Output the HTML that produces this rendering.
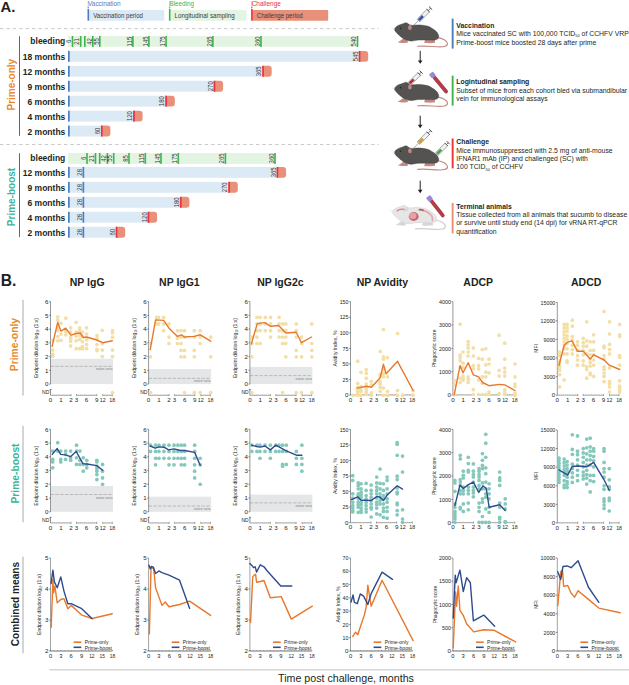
<!DOCTYPE html>
<html><head><meta charset="utf-8"><title>Figure</title>
<style>html,body{margin:0;padding:0;background:#fff;} body{width:629px;height:685px;overflow:hidden;font-family:"Liberation Sans",sans-serif;} svg{display:block;}</style>
</head><body>
<svg width="629" height="685" viewBox="0 0 629 685" font-family="Liberation Sans, sans-serif"><text x="0.60" y="11.90" font-size="14.8" fill="#231f20" font-weight="bold" text-anchor="start">A.</text>
<text x="88.10" y="6.00" font-size="6.6" fill="#4a7ec4" font-weight="normal" text-anchor="start" textLength="32.5" lengthAdjust="spacingAndGlyphs">Vaccination</text>
<line x1="88.25" y1="1.20" x2="88.25" y2="7.60" stroke="#4a7ec4" stroke-width="0.45"/>
<path d="M87.30,7.3 L89.20,7.3 L88.25,8.6 Z" fill="#4a7ec4"/>
<rect x="88.50" y="9.90" width="75.80" height="10.80" fill="#dceaf6" rx="1.2"/>
<rect x="87.50" y="8.90" width="1.60" height="11.80" fill="#4a7ec4"/>
<text x="93.20" y="17.60" font-size="6.9" fill="#3a3a3a" font-weight="normal" text-anchor="start" textLength="49.8" lengthAdjust="spacingAndGlyphs">Vaccination period</text>
<text x="169.50" y="6.00" font-size="6.6" fill="#3db54a" font-weight="normal" text-anchor="start" textLength="24.5" lengthAdjust="spacingAndGlyphs">Bleeding</text>
<line x1="169.65" y1="1.20" x2="169.65" y2="7.60" stroke="#3db54a" stroke-width="0.45"/>
<path d="M168.70,7.3 L170.60,7.3 L169.65,8.6 Z" fill="#3db54a"/>
<rect x="169.90" y="9.90" width="76.60" height="10.80" fill="#e4f4e3" rx="1.2"/>
<rect x="168.90" y="8.90" width="1.60" height="11.80" fill="#3db54a"/>
<text x="174.60" y="17.60" font-size="6.9" fill="#3a3a3a" font-weight="normal" text-anchor="start" textLength="60.2" lengthAdjust="spacingAndGlyphs">Longitudinal sampling</text>
<text x="251.70" y="6.00" font-size="6.6" fill="#e8323c" font-weight="normal" text-anchor="start" textLength="29.2" lengthAdjust="spacingAndGlyphs">Challenge</text>
<line x1="251.85" y1="1.20" x2="251.85" y2="7.60" stroke="#e8323c" stroke-width="0.45"/>
<path d="M250.90,7.3 L252.80,7.3 L251.85,8.6 Z" fill="#e8323c"/>
<rect x="252.10" y="9.90" width="76.10" height="10.80" fill="#e8907a" rx="1.2"/>
<rect x="251.10" y="8.90" width="1.60" height="11.80" fill="#e8323c"/>
<text x="256.80" y="17.60" font-size="6.9" fill="#3a3a3a" font-weight="normal" text-anchor="start" textLength="45.8" lengthAdjust="spacingAndGlyphs">Challenge period</text>
<line x1="0.00" y1="28.60" x2="378.70" y2="28.60" stroke="#c4c4c4" stroke-width="0.9" stroke-dasharray="3.4,3"/>
<line x1="0.00" y1="144.50" x2="378.70" y2="144.50" stroke="#c4c4c4" stroke-width="0.9" stroke-dasharray="3.4,3"/>
<rect x="68.00" y="36.00" width="290.50" height="10.90" fill="#e4f4e3"/>
<rect x="71.70" y="36.00" width="1.60" height="10.90" fill="#3db54a"/>
<text x="71.30" y="41.45" font-size="6.3" fill="#3a3a3a" font-weight="normal" text-anchor="middle" transform="rotate(-90 71.3 41.45)" textLength="3.3" lengthAdjust="spacingAndGlyphs">6</text>
<rect x="79.90" y="36.00" width="1.60" height="10.90" fill="#3db54a"/>
<text x="79.50" y="41.45" font-size="6.3" fill="#3a3a3a" font-weight="normal" text-anchor="middle" transform="rotate(-90 79.5 41.45)" textLength="6.6" lengthAdjust="spacingAndGlyphs">21</text>
<rect x="84.00" y="36.00" width="1.60" height="10.90" fill="#3db54a"/>
<rect x="92.00" y="36.00" width="1.60" height="10.90" fill="#3db54a"/>
<text x="91.60" y="41.45" font-size="6.3" fill="#3a3a3a" font-weight="normal" text-anchor="middle" transform="rotate(-90 91.6 41.45)" textLength="6.6" lengthAdjust="spacingAndGlyphs">42</text>
<rect x="99.00" y="36.00" width="1.60" height="10.90" fill="#3db54a"/>
<text x="98.60" y="41.45" font-size="6.3" fill="#3a3a3a" font-weight="normal" text-anchor="middle" transform="rotate(-90 98.6 41.45)" textLength="6.6" lengthAdjust="spacingAndGlyphs">55</text>
<rect x="132.10" y="36.00" width="1.60" height="10.90" fill="#3db54a"/>
<text x="131.70" y="41.45" font-size="6.3" fill="#3a3a3a" font-weight="normal" text-anchor="middle" transform="rotate(-90 131.70000000000002 41.45)" textLength="9.9" lengthAdjust="spacingAndGlyphs">115</text>
<rect x="148.10" y="36.00" width="1.60" height="10.90" fill="#3db54a"/>
<text x="147.70" y="41.45" font-size="6.3" fill="#3a3a3a" font-weight="normal" text-anchor="middle" transform="rotate(-90 147.70000000000002 41.45)" textLength="9.9" lengthAdjust="spacingAndGlyphs">145</text>
<rect x="165.30" y="36.00" width="1.60" height="10.90" fill="#3db54a"/>
<text x="164.90" y="41.45" font-size="6.3" fill="#3a3a3a" font-weight="normal" text-anchor="middle" transform="rotate(-90 164.9 41.45)" textLength="9.9" lengthAdjust="spacingAndGlyphs">175</text>
<rect x="212.10" y="36.00" width="1.60" height="10.90" fill="#3db54a"/>
<text x="211.70" y="41.45" font-size="6.3" fill="#3a3a3a" font-weight="normal" text-anchor="middle" transform="rotate(-90 211.70000000000002 41.45)" textLength="9.9" lengthAdjust="spacingAndGlyphs">265</text>
<rect x="260.20" y="36.00" width="1.60" height="10.90" fill="#3db54a"/>
<text x="259.80" y="41.45" font-size="6.3" fill="#3a3a3a" font-weight="normal" text-anchor="middle" transform="rotate(-90 259.8 41.45)" textLength="9.9" lengthAdjust="spacingAndGlyphs">360</text>
<rect x="356.70" y="36.00" width="1.60" height="10.90" fill="#3db54a"/>
<text x="356.30" y="41.45" font-size="6.3" fill="#3a3a3a" font-weight="normal" text-anchor="middle" transform="rotate(-90 356.3 41.45)" textLength="9.9" lengthAdjust="spacingAndGlyphs">540</text>
<text x="65.30" y="44.20" font-size="8.5" fill="#231f20" font-weight="bold" text-anchor="end">bleeding</text>
<rect x="68.00" y="50.90" width="290.90" height="10.90" fill="#dceaf6"/>
<path d="M358.90,50.90 h6.3 a3,3 0 0 1 3,3 v4.90 a3,3 0 0 1 -3,3 h-6.3 z" fill="#e8907a"/>
<rect x="358.70" y="50.90" width="1.70" height="10.90" fill="#e8323c"/>
<rect x="68.00" y="50.90" width="1.70" height="10.90" fill="#4a7ec4"/>
<text x="357.70" y="56.35" font-size="6.3" fill="#3a3a3a" font-weight="normal" text-anchor="middle" transform="rotate(-90 357.7 56.35)" textLength="9.9" lengthAdjust="spacingAndGlyphs">545</text>
<text x="65.30" y="60.20" font-size="8.5" fill="#231f20" font-weight="bold" text-anchor="end">18 months</text>
<rect x="68.00" y="65.84" width="194.40" height="10.90" fill="#dceaf6"/>
<path d="M262.40,65.84 h6.3 a3,3 0 0 1 3,3 v4.90 a3,3 0 0 1 -3,3 h-6.3 z" fill="#e8907a"/>
<rect x="262.20" y="65.84" width="1.70" height="10.90" fill="#e8323c"/>
<rect x="68.00" y="65.84" width="1.70" height="10.90" fill="#4a7ec4"/>
<text x="261.20" y="71.29" font-size="6.3" fill="#3a3a3a" font-weight="normal" text-anchor="middle" transform="rotate(-90 261.2 71.29)" textLength="9.9" lengthAdjust="spacingAndGlyphs">365</text>
<text x="65.30" y="75.14" font-size="8.5" fill="#231f20" font-weight="bold" text-anchor="end">12 months</text>
<rect x="68.00" y="80.78" width="145.80" height="10.90" fill="#dceaf6"/>
<path d="M213.80,80.78 h6.3 a3,3 0 0 1 3,3 v4.90 a3,3 0 0 1 -3,3 h-6.3 z" fill="#e8907a"/>
<rect x="213.60" y="80.78" width="1.70" height="10.90" fill="#e8323c"/>
<rect x="68.00" y="80.78" width="1.70" height="10.90" fill="#4a7ec4"/>
<text x="212.60" y="86.23" font-size="6.3" fill="#3a3a3a" font-weight="normal" text-anchor="middle" transform="rotate(-90 212.60000000000002 86.23)" textLength="9.9" lengthAdjust="spacingAndGlyphs">270</text>
<text x="65.30" y="90.08" font-size="8.5" fill="#231f20" font-weight="bold" text-anchor="end">9 months</text>
<rect x="68.00" y="95.72" width="97.50" height="10.90" fill="#dceaf6"/>
<path d="M165.50,95.72 h6.3 a3,3 0 0 1 3,3 v4.90 a3,3 0 0 1 -3,3 h-6.3 z" fill="#e8907a"/>
<rect x="165.30" y="95.72" width="1.70" height="10.90" fill="#e8323c"/>
<rect x="68.00" y="95.72" width="1.70" height="10.90" fill="#4a7ec4"/>
<text x="164.30" y="101.17" font-size="6.3" fill="#3a3a3a" font-weight="normal" text-anchor="middle" transform="rotate(-90 164.3 101.17)" textLength="9.9" lengthAdjust="spacingAndGlyphs">180</text>
<text x="65.30" y="105.02" font-size="8.5" fill="#231f20" font-weight="bold" text-anchor="end">6 months</text>
<rect x="68.00" y="110.66" width="65.30" height="10.90" fill="#dceaf6"/>
<path d="M133.30,110.66 h6.3 a3,3 0 0 1 3,3 v4.90 a3,3 0 0 1 -3,3 h-6.3 z" fill="#e8907a"/>
<rect x="133.10" y="110.66" width="1.70" height="10.90" fill="#e8323c"/>
<rect x="68.00" y="110.66" width="1.70" height="10.90" fill="#4a7ec4"/>
<text x="132.10" y="116.11" font-size="6.3" fill="#3a3a3a" font-weight="normal" text-anchor="middle" transform="rotate(-90 132.10000000000002 116.11)" textLength="9.9" lengthAdjust="spacingAndGlyphs">120</text>
<text x="65.30" y="119.96" font-size="8.5" fill="#231f20" font-weight="bold" text-anchor="end">4 months</text>
<rect x="68.00" y="125.60" width="33.10" height="10.90" fill="#dceaf6"/>
<path d="M101.10,125.60 h6.3 a3,3 0 0 1 3,3 v4.90 a3,3 0 0 1 -3,3 h-6.3 z" fill="#e8907a"/>
<rect x="100.90" y="125.60" width="1.70" height="10.90" fill="#e8323c"/>
<rect x="68.00" y="125.60" width="1.70" height="10.90" fill="#4a7ec4"/>
<text x="99.90" y="131.05" font-size="6.3" fill="#3a3a3a" font-weight="normal" text-anchor="middle" transform="rotate(-90 99.89999999999999 131.04999999999998)" textLength="6.6" lengthAdjust="spacingAndGlyphs">60</text>
<text x="65.30" y="134.90" font-size="8.5" fill="#231f20" font-weight="bold" text-anchor="end">2 months</text>
<rect x="68.00" y="153.00" width="208.30" height="10.90" fill="#e4f4e3"/>
<rect x="86.20" y="153.00" width="1.60" height="10.90" fill="#3db54a"/>
<text x="85.80" y="158.45" font-size="6.3" fill="#3a3a3a" font-weight="normal" text-anchor="middle" transform="rotate(-90 85.8 158.45)" textLength="3.3" lengthAdjust="spacingAndGlyphs">6</text>
<rect x="94.70" y="153.00" width="1.60" height="10.90" fill="#3db54a"/>
<text x="94.30" y="158.45" font-size="6.3" fill="#3a3a3a" font-weight="normal" text-anchor="middle" transform="rotate(-90 94.3 158.45)" textLength="6.6" lengthAdjust="spacingAndGlyphs">21</text>
<rect x="98.90" y="153.00" width="1.60" height="10.90" fill="#3db54a"/>
<rect x="106.60" y="153.00" width="1.60" height="10.90" fill="#3db54a"/>
<text x="106.20" y="158.45" font-size="6.3" fill="#3a3a3a" font-weight="normal" text-anchor="middle" transform="rotate(-90 106.2 158.45)" textLength="6.6" lengthAdjust="spacingAndGlyphs">42</text>
<rect x="112.90" y="153.00" width="1.60" height="10.90" fill="#3db54a"/>
<text x="112.50" y="158.45" font-size="6.3" fill="#3a3a3a" font-weight="normal" text-anchor="middle" transform="rotate(-90 112.5 158.45)" textLength="6.6" lengthAdjust="spacingAndGlyphs">55</text>
<rect x="128.20" y="153.00" width="1.60" height="10.90" fill="#3db54a"/>
<text x="127.80" y="158.45" font-size="6.3" fill="#3a3a3a" font-weight="normal" text-anchor="middle" transform="rotate(-90 127.8 158.45)" textLength="6.6" lengthAdjust="spacingAndGlyphs">85</text>
<rect x="144.50" y="153.00" width="1.60" height="10.90" fill="#3db54a"/>
<text x="144.10" y="158.45" font-size="6.3" fill="#3a3a3a" font-weight="normal" text-anchor="middle" transform="rotate(-90 144.10000000000002 158.45)" textLength="9.9" lengthAdjust="spacingAndGlyphs">115</text>
<rect x="160.20" y="153.00" width="1.60" height="10.90" fill="#3db54a"/>
<text x="159.80" y="158.45" font-size="6.3" fill="#3a3a3a" font-weight="normal" text-anchor="middle" transform="rotate(-90 159.8 158.45)" textLength="9.9" lengthAdjust="spacingAndGlyphs">145</text>
<rect x="177.50" y="153.00" width="1.60" height="10.90" fill="#3db54a"/>
<text x="177.10" y="158.45" font-size="6.3" fill="#3a3a3a" font-weight="normal" text-anchor="middle" transform="rotate(-90 177.10000000000002 158.45)" textLength="9.9" lengthAdjust="spacingAndGlyphs">175</text>
<rect x="224.60" y="153.00" width="1.60" height="10.90" fill="#3db54a"/>
<text x="224.20" y="158.45" font-size="6.3" fill="#3a3a3a" font-weight="normal" text-anchor="middle" transform="rotate(-90 224.20000000000002 158.45)" textLength="9.9" lengthAdjust="spacingAndGlyphs">265</text>
<rect x="274.20" y="153.00" width="1.60" height="10.90" fill="#3db54a"/>
<text x="273.80" y="158.45" font-size="6.3" fill="#3a3a3a" font-weight="normal" text-anchor="middle" transform="rotate(-90 273.8 158.45)" textLength="9.9" lengthAdjust="spacingAndGlyphs">360</text>
<text x="65.30" y="161.20" font-size="8.5" fill="#231f20" font-weight="bold" text-anchor="end">bleeding</text>
<rect x="68.00" y="166.90" width="208.80" height="10.90" fill="#dceaf6"/>
<path d="M276.80,166.90 h6.3 a3,3 0 0 1 3,3 v4.90 a3,3 0 0 1 -3,3 h-6.3 z" fill="#e8907a"/>
<rect x="276.60" y="166.90" width="1.70" height="10.90" fill="#e8323c"/>
<rect x="68.00" y="166.90" width="1.70" height="10.90" fill="#4a7ec4"/>
<rect x="82.60" y="166.90" width="1.60" height="10.90" fill="#4a7ec4"/>
<text x="82.00" y="172.35" font-size="6.3" fill="#3a3a3a" font-weight="normal" text-anchor="middle" transform="rotate(-90 82.0 172.35)" textLength="6.6" lengthAdjust="spacingAndGlyphs">28</text>
<text x="275.60" y="172.35" font-size="6.3" fill="#3a3a3a" font-weight="normal" text-anchor="middle" transform="rotate(-90 275.6 172.35)" textLength="9.9" lengthAdjust="spacingAndGlyphs">365</text>
<text x="65.30" y="176.20" font-size="8.5" fill="#231f20" font-weight="bold" text-anchor="end">12 months</text>
<rect x="68.00" y="181.87" width="160.50" height="10.90" fill="#dceaf6"/>
<path d="M228.50,181.87 h6.3 a3,3 0 0 1 3,3 v4.90 a3,3 0 0 1 -3,3 h-6.3 z" fill="#e8907a"/>
<rect x="228.30" y="181.87" width="1.70" height="10.90" fill="#e8323c"/>
<rect x="68.00" y="181.87" width="1.70" height="10.90" fill="#4a7ec4"/>
<rect x="82.60" y="181.87" width="1.60" height="10.90" fill="#4a7ec4"/>
<text x="82.00" y="187.32" font-size="6.3" fill="#3a3a3a" font-weight="normal" text-anchor="middle" transform="rotate(-90 82.0 187.32)" textLength="6.6" lengthAdjust="spacingAndGlyphs">28</text>
<text x="227.30" y="187.32" font-size="6.3" fill="#3a3a3a" font-weight="normal" text-anchor="middle" transform="rotate(-90 227.3 187.32)" textLength="9.9" lengthAdjust="spacingAndGlyphs">270</text>
<text x="65.30" y="191.17" font-size="8.5" fill="#231f20" font-weight="bold" text-anchor="end">9 months</text>
<rect x="68.00" y="196.84" width="112.10" height="10.90" fill="#dceaf6"/>
<path d="M180.10,196.84 h6.3 a3,3 0 0 1 3,3 v4.90 a3,3 0 0 1 -3,3 h-6.3 z" fill="#e8907a"/>
<rect x="179.90" y="196.84" width="1.70" height="10.90" fill="#e8323c"/>
<rect x="68.00" y="196.84" width="1.70" height="10.90" fill="#4a7ec4"/>
<rect x="82.60" y="196.84" width="1.60" height="10.90" fill="#4a7ec4"/>
<text x="82.00" y="202.29" font-size="6.3" fill="#3a3a3a" font-weight="normal" text-anchor="middle" transform="rotate(-90 82.0 202.29)" textLength="6.6" lengthAdjust="spacingAndGlyphs">28</text>
<text x="178.90" y="202.29" font-size="6.3" fill="#3a3a3a" font-weight="normal" text-anchor="middle" transform="rotate(-90 178.9 202.29)" textLength="9.9" lengthAdjust="spacingAndGlyphs">180</text>
<text x="65.30" y="206.14" font-size="8.5" fill="#231f20" font-weight="bold" text-anchor="end">6 months</text>
<rect x="68.00" y="211.81" width="79.80" height="10.90" fill="#dceaf6"/>
<path d="M147.80,211.81 h6.3 a3,3 0 0 1 3,3 v4.90 a3,3 0 0 1 -3,3 h-6.3 z" fill="#e8907a"/>
<rect x="147.60" y="211.81" width="1.70" height="10.90" fill="#e8323c"/>
<rect x="68.00" y="211.81" width="1.70" height="10.90" fill="#4a7ec4"/>
<rect x="82.60" y="211.81" width="1.60" height="10.90" fill="#4a7ec4"/>
<text x="82.00" y="217.26" font-size="6.3" fill="#3a3a3a" font-weight="normal" text-anchor="middle" transform="rotate(-90 82.0 217.26)" textLength="6.6" lengthAdjust="spacingAndGlyphs">28</text>
<text x="146.60" y="217.26" font-size="6.3" fill="#3a3a3a" font-weight="normal" text-anchor="middle" transform="rotate(-90 146.60000000000002 217.26)" textLength="9.9" lengthAdjust="spacingAndGlyphs">120</text>
<text x="65.30" y="221.11" font-size="8.5" fill="#231f20" font-weight="bold" text-anchor="end">4 months</text>
<rect x="68.00" y="226.78" width="47.90" height="10.90" fill="#dceaf6"/>
<path d="M115.90,226.78 h6.3 a3,3 0 0 1 3,3 v4.90 a3,3 0 0 1 -3,3 h-6.3 z" fill="#e8907a"/>
<rect x="115.70" y="226.78" width="1.70" height="10.90" fill="#e8323c"/>
<rect x="68.00" y="226.78" width="1.70" height="10.90" fill="#4a7ec4"/>
<rect x="82.60" y="226.78" width="1.60" height="10.90" fill="#4a7ec4"/>
<text x="82.00" y="232.23" font-size="6.3" fill="#3a3a3a" font-weight="normal" text-anchor="middle" transform="rotate(-90 82.0 232.23)" textLength="6.6" lengthAdjust="spacingAndGlyphs">28</text>
<text x="114.70" y="232.23" font-size="6.3" fill="#3a3a3a" font-weight="normal" text-anchor="middle" transform="rotate(-90 114.7 232.23)" textLength="6.6" lengthAdjust="spacingAndGlyphs">60</text>
<text x="65.30" y="236.08" font-size="8.5" fill="#231f20" font-weight="bold" text-anchor="end">2 months</text>
<line x1="19.50" y1="36.30" x2="19.50" y2="135.80" stroke="#555" stroke-width="0.9"/>
<line x1="19.50" y1="153.20" x2="19.50" y2="237.10" stroke="#555" stroke-width="0.9"/>
<text x="14.60" y="84.70" font-size="10" fill="#e8892c" font-weight="bold" text-anchor="middle" transform="rotate(-90 14.6 84.7)">Prime-only</text>
<text x="14.60" y="197.00" font-size="10" fill="#3db59c" font-weight="bold" text-anchor="middle" transform="rotate(-90 14.6 197.0)">Prime-boost</text>
<g transform="translate(394.30,29.60)"><path d="M43.5,8 C48,8.5 53,11 53.2,14 C53.4,17 48,17.5 43,17.2 C36,16.8 30,16 23.4,16.7" fill="none" stroke="#c48a82" stroke-width="1.15" stroke-linecap="round"/><path d="M8.5,9.2 C6.5,11 4.5,12 3.6,12.6 C5,13.4 10,13.4 13.6,13.2 L13.2,10.6 Z" fill="#c48a82"/><path d="M31,10 C30.5,11.5 30,12.5 29.8,13.2 C33,13.6 37,13.6 40.6,13.4 L40.6,10.2 Z" fill="#c48a82"/><path d="M0,0 C0.5,-1.2 1,-2 1.4,-2.4 C3,-3.8 4.5,-4.6 6.2,-5 C8,-5.6 9,-6 10,-6.4 C11,-7.2 12.5,-7.2 13.5,-6 C15,-4.6 16.5,-4.3 18.6,-4.3 C22,-4.6 24,-4.7 26.2,-4.6 C29,-4.4 31.5,-4 33.9,-3.3 C36.5,-2.2 38,-1 39.6,0 C41.5,1.4 42.8,2.5 43.4,3.8 C44.3,5.5 44.6,6.3 44.4,7.2 C44.2,8.5 43.5,9.5 42.4,10 C40,10.8 38,10.5 35.8,10.5 C31,10.5 28,10.4 24.3,10.5 C21,10.6 19.5,11.5 17.7,11.5 C15,11.5 13.5,11 11.9,10.5 C10,9.8 8.5,8.8 7.2,7.6 C5.5,6.4 4.5,5.4 3.3,4.3 C2,3 1,2 0,0 Z" fill="#555351" stroke="#3a3838" stroke-width="0.4"/><ellipse cx="15.6" cy="-2.0" rx="1.8" ry="2.5" fill="#c48a82"/><circle cx="6.2" cy="-1.4" r="0.7" fill="#1a1a1a"/><path d="M0.3,-0.2 L-3,-3 M0.3,0 L-3.2,-1.2" stroke="#e0e0e0" stroke-width="0.35"/></g>
<g transform="translate(413.40,25.80) rotate(-45.82)"><line x1="0" y1="0" x2="7.40" y2="0" stroke="#444" stroke-width="0.45"/><rect x="7.40" y="-1.85" width="13.82" height="3.7" fill="#f2f2f2" stroke="#666" stroke-width="0.55"/><rect x="7.90" y="-1.3" width="5.80" height="2.6" fill="#3a50b0"/><line x1="21.23" y1="-2.3" x2="21.23" y2="2.3" stroke="#444" stroke-width="0.7"/><line x1="21.23" y1="0" x2="24.68" y2="0" stroke="#444" stroke-width="0.7"/><line x1="24.68" y1="-2.2" x2="24.68" y2="2.2" stroke="#444" stroke-width="0.9"/></g>
<g transform="translate(394.30,89.10)"><path d="M43.5,8 C48,8.5 53,11 53.2,14 C53.4,17 48,17.5 43,17.2 C36,16.8 30,16 23.4,16.7" fill="none" stroke="#c48a82" stroke-width="1.15" stroke-linecap="round"/><path d="M8.5,9.2 C6.5,11 4.5,12 3.6,12.6 C5,13.4 10,13.4 13.6,13.2 L13.2,10.6 Z" fill="#c48a82"/><path d="M31,10 C30.5,11.5 30,12.5 29.8,13.2 C33,13.6 37,13.6 40.6,13.4 L40.6,10.2 Z" fill="#c48a82"/><path d="M0,0 C0.5,-1.2 1,-2 1.4,-2.4 C3,-3.8 4.5,-4.6 6.2,-5 C8,-5.6 9,-6 10,-6.4 C11,-7.2 12.5,-7.2 13.5,-6 C15,-4.6 16.5,-4.3 18.6,-4.3 C22,-4.6 24,-4.7 26.2,-4.6 C29,-4.4 31.5,-4 33.9,-3.3 C36.5,-2.2 38,-1 39.6,0 C41.5,1.4 42.8,2.5 43.4,3.8 C44.3,5.5 44.6,6.3 44.4,7.2 C44.2,8.5 43.5,9.5 42.4,10 C40,10.8 38,10.5 35.8,10.5 C31,10.5 28,10.4 24.3,10.5 C21,10.6 19.5,11.5 17.7,11.5 C15,11.5 13.5,11 11.9,10.5 C10,9.8 8.5,8.8 7.2,7.6 C5.5,6.4 4.5,5.4 3.3,4.3 C2,3 1,2 0,0 Z" fill="#555351" stroke="#3a3838" stroke-width="0.4"/><ellipse cx="15.6" cy="-2.0" rx="1.8" ry="2.5" fill="#c48a82"/><circle cx="6.2" cy="-1.4" r="0.7" fill="#1a1a1a"/><path d="M0.3,-0.2 L-3,-3 M0.3,0 L-3.2,-1.2" stroke="#e0e0e0" stroke-width="0.35"/></g>
<g transform="translate(407.50,85.50) rotate(-44.15)"><line x1="0" y1="0" x2="2.29" y2="0" stroke="#444" stroke-width="0.45"/><rect x="2.29" y="-1.85" width="14.13" height="3.7" fill="#f2f2f2" stroke="#666" stroke-width="0.55"/><rect x="2.79" y="-1.3" width="5.93" height="2.6" fill="#b52a3c"/><line x1="16.42" y1="-2.3" x2="16.42" y2="2.3" stroke="#444" stroke-width="0.7"/><line x1="16.42" y1="0" x2="19.09" y2="0" stroke="#444" stroke-width="0.7"/><line x1="19.09" y1="-2.2" x2="19.09" y2="2.2" stroke="#444" stroke-width="0.9"/></g>
<g transform="translate(430.80,73.00) rotate(50.48)"><rect x="4.2" y="-1.9" width="21.73" height="3.8" rx="1.9" fill="#b23c48"/><rect x="0" y="-2.5" width="5.2" height="5.0" rx="0.8" fill="#9a8ad0"/></g>
<g transform="translate(394.30,152.70)"><path d="M43.5,8 C48,8.5 53,11 53.2,14 C53.4,17 48,17.5 43,17.2 C36,16.8 30,16 23.4,16.7" fill="none" stroke="#c48a82" stroke-width="1.15" stroke-linecap="round"/><path d="M8.5,9.2 C6.5,11 4.5,12 3.6,12.6 C5,13.4 10,13.4 13.6,13.2 L13.2,10.6 Z" fill="#c48a82"/><path d="M31,10 C30.5,11.5 30,12.5 29.8,13.2 C33,13.6 37,13.6 40.6,13.4 L40.6,10.2 Z" fill="#c48a82"/><path d="M0,0 C0.5,-1.2 1,-2 1.4,-2.4 C3,-3.8 4.5,-4.6 6.2,-5 C8,-5.6 9,-6 10,-6.4 C11,-7.2 12.5,-7.2 13.5,-6 C15,-4.6 16.5,-4.3 18.6,-4.3 C22,-4.6 24,-4.7 26.2,-4.6 C29,-4.4 31.5,-4 33.9,-3.3 C36.5,-2.2 38,-1 39.6,0 C41.5,1.4 42.8,2.5 43.4,3.8 C44.3,5.5 44.6,6.3 44.4,7.2 C44.2,8.5 43.5,9.5 42.4,10 C40,10.8 38,10.5 35.8,10.5 C31,10.5 28,10.4 24.3,10.5 C21,10.6 19.5,11.5 17.7,11.5 C15,11.5 13.5,11 11.9,10.5 C10,9.8 8.5,8.8 7.2,7.6 C5.5,6.4 4.5,5.4 3.3,4.3 C2,3 1,2 0,0 Z" fill="#555351" stroke="#3a3838" stroke-width="0.4"/><ellipse cx="15.6" cy="-2.0" rx="1.8" ry="2.5" fill="#c48a82"/><circle cx="6.2" cy="-1.4" r="0.7" fill="#1a1a1a"/><path d="M0.3,-0.2 L-3,-3 M0.3,0 L-3.2,-1.2" stroke="#e0e0e0" stroke-width="0.35"/></g>
<g transform="translate(413.40,148.40) rotate(-45.82)"><line x1="0" y1="0" x2="7.40" y2="0" stroke="#444" stroke-width="0.45"/><rect x="7.40" y="-1.85" width="13.82" height="3.7" fill="#f2f2f2" stroke="#666" stroke-width="0.55"/><rect x="7.90" y="-1.3" width="5.80" height="2.6" fill="#d69a28"/><line x1="21.23" y1="-2.3" x2="21.23" y2="2.3" stroke="#444" stroke-width="0.7"/><line x1="21.23" y1="0" x2="24.68" y2="0" stroke="#444" stroke-width="0.7"/><line x1="24.68" y1="-2.2" x2="24.68" y2="2.2" stroke="#444" stroke-width="0.9"/></g>
<g transform="translate(435.30,155.50) rotate(-44.78)"><line x1="0" y1="0" x2="2.18" y2="0" stroke="#444" stroke-width="0.45"/><rect x="2.18" y="-1.85" width="13.45" height="3.7" fill="#f2f2f2" stroke="#666" stroke-width="0.55"/><rect x="2.68" y="-1.3" width="5.65" height="2.6" fill="#3aa84a"/><line x1="15.63" y1="-2.3" x2="15.63" y2="2.3" stroke="#444" stroke-width="0.7"/><line x1="15.63" y1="0" x2="18.17" y2="0" stroke="#444" stroke-width="0.7"/><line x1="18.17" y1="-2.2" x2="18.17" y2="2.2" stroke="#444" stroke-width="0.9"/></g>
<g transform="translate(392.20,212.20)"><path d="M43.5,8 C48,8.5 53,11 53.2,14 C53.4,17 48,17.5 43,17.2 C36,16.8 30,16 23.4,16.7" fill="none" stroke="#cfcfcf" stroke-width="1.15" stroke-linecap="round"/><path d="M8.5,9.2 C6.5,11 4.5,12 3.6,12.6 C5,13.4 10,13.4 13.6,13.2 L13.2,10.6 Z" fill="#d6d6d6"/><path d="M31,10 C30.5,11.5 30,12.5 29.8,13.2 C33,13.6 37,13.6 40.6,13.4 L40.6,10.2 Z" fill="#d6d6d6"/><path d="M0,0 C0.5,-1.2 1,-2 1.4,-2.4 C3,-3.8 4.5,-4.6 6.2,-5 C8,-5.6 9,-6 10,-6.4 C11,-7.2 12.5,-7.2 13.5,-6 C15,-4.6 16.5,-4.3 18.6,-4.3 C22,-4.6 24,-4.7 26.2,-4.6 C29,-4.4 31.5,-4 33.9,-3.3 C36.5,-2.2 38,-1 39.6,0 C41.5,1.4 42.8,2.5 43.4,3.8 C44.3,5.5 44.6,6.3 44.4,7.2 C44.2,8.5 43.5,9.5 42.4,10 C40,10.8 38,10.5 35.8,10.5 C31,10.5 28,10.4 24.3,10.5 C21,10.6 19.5,11.5 17.7,11.5 C15,11.5 13.5,11 11.9,10.5 C10,9.8 8.5,8.8 7.2,7.6 C5.5,6.4 4.5,5.4 3.3,4.3 C2,3 1,2 0,0 Z" fill="#e6e6e6" stroke="#c4c4c4" stroke-width="0.4"/><ellipse cx="21.5" cy="4.3" rx="5" ry="4.4" fill="#c46a72"/><ellipse cx="20.6" cy="3.6" rx="3.6" ry="3.2" fill="#e7a0a6"/><path d="M4.5,-1 C7,-3 11,-3.5 13,-2.5" stroke="#d58f93" stroke-width="1.6" fill="none"/><path d="M27,-2 C31,-2.3 35,-1 39,3 C40.5,5 40.5,8 40,9" stroke="#e3a7ad" stroke-width="1.6" fill="none"/><path d="M26.5,-2.5 C28,-2.8 30,-2.4 31.5,-1.5" stroke="#b35a63" stroke-width="1.5" fill="none"/><ellipse cx="14.3" cy="-3" rx="1.8" ry="2.4" fill="#d9d9d9"/><path d="M0.3,-0.2 L-3,-3 M0.3,0 L-3.2,-1.2" stroke="#e0e0e0" stroke-width="0.35"/></g>
<g transform="translate(428.00,196.50) rotate(52.07)"><rect x="4.2" y="-1.9" width="21.66" height="3.8" rx="1.9" fill="#b23c48"/><rect x="0" y="-2.5" width="5.2" height="5.0" rx="0.8" fill="#9a8ad0"/></g>
<line x1="420.20" y1="50.90" x2="420.20" y2="61.30" stroke="#231f20" stroke-width="1.0"/>
<path d="M417.90,60.40 L420.20,63.80 L422.50,60.40 Z" fill="#231f20"/>
<line x1="420.20" y1="115.70" x2="420.20" y2="125.70" stroke="#231f20" stroke-width="1.0"/>
<path d="M417.90,124.80 L420.20,128.20 L422.50,124.80 Z" fill="#231f20"/>
<line x1="420.20" y1="180.70" x2="420.20" y2="190.70" stroke="#231f20" stroke-width="1.0"/>
<path d="M417.90,189.80 L420.20,193.20 L422.50,189.80 Z" fill="#231f20"/>
<rect x="451.70" y="18.60" width="1.90" height="30.00" fill="#4a7ec4"/>
<text x="456.30" y="27.90" font-size="6.85" fill="#231f20" font-weight="bold" text-anchor="start">Vaccination</text>
<text x="456.30" y="36.20" font-size="6.85" fill="#231f20" font-weight="normal" text-anchor="start">Mice vaccinated SC with 100,000 TCID<tspan font-size="4" dy="1.2">50</tspan><tspan dy="-1.2"> </tspan>of CCHFV VRP</text>
<text x="456.30" y="44.50" font-size="6.85" fill="#231f20" font-weight="normal" text-anchor="start">Prime-boost mice boosted 28 days after prime</text>
<rect x="451.70" y="75.70" width="1.90" height="29.90" fill="#3db54a"/>
<text x="456.30" y="84.40" font-size="6.85" fill="#231f20" font-weight="bold" text-anchor="start">Logintudinal sampling</text>
<text x="456.30" y="92.70" font-size="6.85" fill="#231f20" font-weight="normal" text-anchor="start">Subset of mice from each cohort bled via submandibular</text>
<text x="456.30" y="101.00" font-size="6.85" fill="#231f20" font-weight="normal" text-anchor="start">vein for immunological assays</text>
<rect x="451.70" y="138.50" width="1.90" height="29.90" fill="#e8323c"/>
<text x="456.30" y="144.40" font-size="6.85" fill="#231f20" font-weight="bold" text-anchor="start">Challenge</text>
<text x="456.30" y="152.70" font-size="6.85" fill="#231f20" font-weight="normal" text-anchor="start">Mice immunosuppressed with 2.5 mg of anti-mouse</text>
<text x="456.30" y="161.00" font-size="6.85" fill="#231f20" font-weight="normal" text-anchor="start">IFNAR1 mAb (IP) and challenged (SC) with</text>
<text x="456.30" y="169.30" font-size="6.85" fill="#231f20" font-weight="normal" text-anchor="start">100 TCID<tspan font-size="4" dy="1.2">50</tspan><tspan dy="-1.2"> </tspan>of CCHFV</text>
<rect x="451.70" y="203.00" width="1.90" height="30.40" fill="#e8907a"/>
<text x="456.30" y="208.80" font-size="6.85" fill="#231f20" font-weight="bold" text-anchor="start">Terminal animals</text>
<text x="456.30" y="217.10" font-size="6.85" fill="#231f20" font-weight="normal" text-anchor="start">Tissue collected from all animals that sucumb to disease</text>
<text x="456.30" y="225.40" font-size="6.85" fill="#231f20" font-weight="normal" text-anchor="start">or survive until study end (14 dpi) for vRNA RT-qPCR</text>
<text x="456.30" y="233.70" font-size="6.85" fill="#231f20" font-weight="normal" text-anchor="start">quantification</text>
<text x="0.80" y="286.00" font-size="15.6" fill="#231f20" font-weight="bold" text-anchor="start">B.</text>
<text x="87.20" y="286.20" font-size="10.5" fill="#231f20" font-weight="bold" text-anchor="middle">NP IgG</text>
<text x="179.40" y="286.20" font-size="10.5" fill="#231f20" font-weight="bold" text-anchor="middle">NP IgG1</text>
<text x="280.40" y="286.20" font-size="10.5" fill="#231f20" font-weight="bold" text-anchor="middle">NP IgG2c</text>
<text x="382.40" y="286.20" font-size="10.5" fill="#231f20" font-weight="bold" text-anchor="middle">NP Avidity</text>
<text x="478.20" y="286.20" font-size="10.5" fill="#231f20" font-weight="bold" text-anchor="middle">ADCP</text>
<text x="586.20" y="286.20" font-size="10.5" fill="#231f20" font-weight="bold" text-anchor="middle">ADCD</text>
<rect x="50.50" y="358.80" width="62.50" height="25.30" fill="#e5e6e8"/>
<line x1="50.50" y1="366.39" x2="113.00" y2="366.39" stroke="#9c9c9c" stroke-width="0.6" stroke-dasharray="3.4,1.4"/>
<text x="112.50" y="370.49" font-size="4.2" fill="#808080" font-weight="normal" text-anchor="end" textLength="16.5" lengthAdjust="spacingAndGlyphs">naive sera</text>
<line x1="50.50" y1="301.60" x2="50.50" y2="384.10" stroke="#858585" stroke-width="0.85"/>
<line x1="49.10" y1="384.10" x2="50.50" y2="384.10" stroke="#231f20" stroke-width="0.5"/>
<text x="48.50" y="386.30" font-size="6.2" fill="#231f20" font-weight="normal" text-anchor="end">0</text>
<line x1="49.10" y1="370.35" x2="50.50" y2="370.35" stroke="#231f20" stroke-width="0.5"/>
<text x="48.50" y="372.55" font-size="6.2" fill="#231f20" font-weight="normal" text-anchor="end">1</text>
<line x1="49.10" y1="356.60" x2="50.50" y2="356.60" stroke="#231f20" stroke-width="0.5"/>
<text x="48.50" y="358.80" font-size="6.2" fill="#231f20" font-weight="normal" text-anchor="end">2</text>
<line x1="49.10" y1="342.85" x2="50.50" y2="342.85" stroke="#231f20" stroke-width="0.5"/>
<text x="48.50" y="345.05" font-size="6.2" fill="#231f20" font-weight="normal" text-anchor="end">3</text>
<line x1="49.10" y1="329.10" x2="50.50" y2="329.10" stroke="#231f20" stroke-width="0.5"/>
<text x="48.50" y="331.30" font-size="6.2" fill="#231f20" font-weight="normal" text-anchor="end">4</text>
<line x1="49.10" y1="315.35" x2="50.50" y2="315.35" stroke="#231f20" stroke-width="0.5"/>
<text x="48.50" y="317.55" font-size="6.2" fill="#231f20" font-weight="normal" text-anchor="end">5</text>
<line x1="49.10" y1="301.60" x2="50.50" y2="301.60" stroke="#231f20" stroke-width="0.5"/>
<text x="48.50" y="303.80" font-size="6.2" fill="#231f20" font-weight="normal" text-anchor="end">6</text>
<line x1="50.50" y1="389.60" x2="50.50" y2="395.30" stroke="#231f20" stroke-width="0.5"/>
<line x1="49.50" y1="389.60" x2="51.70" y2="389.60" stroke="#231f20" stroke-width="0.5"/>
<text x="49.30" y="394.40" font-size="6.2" fill="#231f20" font-weight="normal" text-anchor="end" textLength="7.20" lengthAdjust="spacingAndGlyphs">ND</text>
<line x1="50.50" y1="395.30" x2="71.00" y2="395.30" stroke="#555" stroke-width="0.5"/>
<line x1="71.00" y1="394.00" x2="71.00" y2="396.20" stroke="#555" stroke-width="0.5"/>
<line x1="52.55" y1="395.30" x2="52.55" y2="394.50" stroke="#888" stroke-width="0.4"/>
<line x1="54.60" y1="395.30" x2="54.60" y2="394.50" stroke="#888" stroke-width="0.4"/>
<line x1="56.65" y1="395.30" x2="56.65" y2="394.50" stroke="#888" stroke-width="0.4"/>
<line x1="58.70" y1="395.30" x2="58.70" y2="394.50" stroke="#888" stroke-width="0.4"/>
<line x1="60.75" y1="395.30" x2="60.75" y2="394.50" stroke="#888" stroke-width="0.4"/>
<line x1="62.80" y1="395.30" x2="62.80" y2="394.50" stroke="#888" stroke-width="0.4"/>
<line x1="64.85" y1="395.30" x2="64.85" y2="394.50" stroke="#888" stroke-width="0.4"/>
<line x1="66.90" y1="395.30" x2="66.90" y2="394.50" stroke="#888" stroke-width="0.4"/>
<line x1="68.95" y1="395.30" x2="68.95" y2="394.50" stroke="#888" stroke-width="0.4"/>
<line x1="76.50" y1="395.30" x2="96.70" y2="395.30" stroke="#555" stroke-width="0.5"/>
<line x1="76.50" y1="394.00" x2="76.50" y2="396.20" stroke="#555" stroke-width="0.5"/>
<line x1="96.70" y1="394.00" x2="96.70" y2="396.20" stroke="#555" stroke-width="0.5"/>
<line x1="78.52" y1="395.30" x2="78.52" y2="394.50" stroke="#888" stroke-width="0.4"/>
<line x1="80.54" y1="395.30" x2="80.54" y2="394.50" stroke="#888" stroke-width="0.4"/>
<line x1="82.56" y1="395.30" x2="82.56" y2="394.50" stroke="#888" stroke-width="0.4"/>
<line x1="84.58" y1="395.30" x2="84.58" y2="394.50" stroke="#888" stroke-width="0.4"/>
<line x1="86.60" y1="395.30" x2="86.60" y2="394.50" stroke="#888" stroke-width="0.4"/>
<line x1="88.62" y1="395.30" x2="88.62" y2="394.50" stroke="#888" stroke-width="0.4"/>
<line x1="90.64" y1="395.30" x2="90.64" y2="394.50" stroke="#888" stroke-width="0.4"/>
<line x1="92.66" y1="395.30" x2="92.66" y2="394.50" stroke="#888" stroke-width="0.4"/>
<line x1="94.68" y1="395.30" x2="94.68" y2="394.50" stroke="#888" stroke-width="0.4"/>
<line x1="102.70" y1="395.30" x2="112.30" y2="395.30" stroke="#555" stroke-width="0.5"/>
<line x1="102.70" y1="394.00" x2="102.70" y2="396.20" stroke="#555" stroke-width="0.5"/>
<line x1="112.30" y1="394.00" x2="112.30" y2="396.20" stroke="#555" stroke-width="0.5"/>
<line x1="105.10" y1="395.30" x2="105.10" y2="394.50" stroke="#888" stroke-width="0.4"/>
<line x1="107.50" y1="395.30" x2="107.50" y2="394.50" stroke="#888" stroke-width="0.4"/>
<line x1="109.90" y1="395.30" x2="109.90" y2="394.50" stroke="#888" stroke-width="0.4"/>
<text x="50.50" y="401.90" font-size="6.2" fill="#231f20" font-weight="normal" text-anchor="middle">0</text>
<text x="60.90" y="401.90" font-size="6.2" fill="#231f20" font-weight="normal" text-anchor="middle">1</text>
<text x="71.00" y="401.90" font-size="6.2" fill="#231f20" font-weight="normal" text-anchor="middle">2</text>
<text x="76.50" y="401.90" font-size="6.2" fill="#231f20" font-weight="normal" text-anchor="middle">3</text>
<text x="86.60" y="401.90" font-size="6.2" fill="#231f20" font-weight="normal" text-anchor="middle">6</text>
<text x="96.70" y="401.90" font-size="6.2" fill="#231f20" font-weight="normal" text-anchor="middle">9</text>
<text x="102.70" y="401.90" font-size="6.2" fill="#231f20" font-weight="normal" text-anchor="middle" textLength="5.90" lengthAdjust="spacingAndGlyphs">12</text>
<text x="112.30" y="401.90" font-size="6.2" fill="#231f20" font-weight="normal" text-anchor="middle" textLength="5.90" lengthAdjust="spacingAndGlyphs">18</text>
<text x="37.60" y="348.00" font-size="5.9" fill="#231f20" font-weight="normal" text-anchor="middle" transform="rotate(-90 37.6 348.0)" textLength="60" lengthAdjust="spacingAndGlyphs">Endpoint dilution log<tspan font-size="3.4" dy="1">10</tspan><tspan dy="-1"> </tspan>(1:x)</text>
<rect x="148.60" y="369.11" width="62.50" height="14.99" fill="#e5e6e8"/>
<line x1="148.60" y1="378.35" x2="211.10" y2="378.35" stroke="#9c9c9c" stroke-width="0.6" stroke-dasharray="3.4,1.4"/>
<text x="210.60" y="382.45" font-size="4.2" fill="#808080" font-weight="normal" text-anchor="end" textLength="16.5" lengthAdjust="spacingAndGlyphs">naive sera</text>
<line x1="148.60" y1="301.60" x2="148.60" y2="384.10" stroke="#858585" stroke-width="0.85"/>
<line x1="147.20" y1="384.10" x2="148.60" y2="384.10" stroke="#231f20" stroke-width="0.5"/>
<text x="146.60" y="386.30" font-size="6.2" fill="#231f20" font-weight="normal" text-anchor="end">0</text>
<line x1="147.20" y1="370.35" x2="148.60" y2="370.35" stroke="#231f20" stroke-width="0.5"/>
<text x="146.60" y="372.55" font-size="6.2" fill="#231f20" font-weight="normal" text-anchor="end">1</text>
<line x1="147.20" y1="356.60" x2="148.60" y2="356.60" stroke="#231f20" stroke-width="0.5"/>
<text x="146.60" y="358.80" font-size="6.2" fill="#231f20" font-weight="normal" text-anchor="end">2</text>
<line x1="147.20" y1="342.85" x2="148.60" y2="342.85" stroke="#231f20" stroke-width="0.5"/>
<text x="146.60" y="345.05" font-size="6.2" fill="#231f20" font-weight="normal" text-anchor="end">3</text>
<line x1="147.20" y1="329.10" x2="148.60" y2="329.10" stroke="#231f20" stroke-width="0.5"/>
<text x="146.60" y="331.30" font-size="6.2" fill="#231f20" font-weight="normal" text-anchor="end">4</text>
<line x1="147.20" y1="315.35" x2="148.60" y2="315.35" stroke="#231f20" stroke-width="0.5"/>
<text x="146.60" y="317.55" font-size="6.2" fill="#231f20" font-weight="normal" text-anchor="end">5</text>
<line x1="147.20" y1="301.60" x2="148.60" y2="301.60" stroke="#231f20" stroke-width="0.5"/>
<text x="146.60" y="303.80" font-size="6.2" fill="#231f20" font-weight="normal" text-anchor="end">6</text>
<line x1="148.60" y1="389.60" x2="148.60" y2="395.30" stroke="#231f20" stroke-width="0.5"/>
<line x1="147.60" y1="389.60" x2="149.80" y2="389.60" stroke="#231f20" stroke-width="0.5"/>
<text x="147.40" y="394.40" font-size="6.2" fill="#231f20" font-weight="normal" text-anchor="end" textLength="7.20" lengthAdjust="spacingAndGlyphs">ND</text>
<line x1="148.60" y1="395.30" x2="169.10" y2="395.30" stroke="#555" stroke-width="0.5"/>
<line x1="169.10" y1="394.00" x2="169.10" y2="396.20" stroke="#555" stroke-width="0.5"/>
<line x1="150.65" y1="395.30" x2="150.65" y2="394.50" stroke="#888" stroke-width="0.4"/>
<line x1="152.70" y1="395.30" x2="152.70" y2="394.50" stroke="#888" stroke-width="0.4"/>
<line x1="154.75" y1="395.30" x2="154.75" y2="394.50" stroke="#888" stroke-width="0.4"/>
<line x1="156.80" y1="395.30" x2="156.80" y2="394.50" stroke="#888" stroke-width="0.4"/>
<line x1="158.85" y1="395.30" x2="158.85" y2="394.50" stroke="#888" stroke-width="0.4"/>
<line x1="160.90" y1="395.30" x2="160.90" y2="394.50" stroke="#888" stroke-width="0.4"/>
<line x1="162.95" y1="395.30" x2="162.95" y2="394.50" stroke="#888" stroke-width="0.4"/>
<line x1="165.00" y1="395.30" x2="165.00" y2="394.50" stroke="#888" stroke-width="0.4"/>
<line x1="167.05" y1="395.30" x2="167.05" y2="394.50" stroke="#888" stroke-width="0.4"/>
<line x1="174.60" y1="395.30" x2="194.80" y2="395.30" stroke="#555" stroke-width="0.5"/>
<line x1="174.60" y1="394.00" x2="174.60" y2="396.20" stroke="#555" stroke-width="0.5"/>
<line x1="194.80" y1="394.00" x2="194.80" y2="396.20" stroke="#555" stroke-width="0.5"/>
<line x1="176.62" y1="395.30" x2="176.62" y2="394.50" stroke="#888" stroke-width="0.4"/>
<line x1="178.64" y1="395.30" x2="178.64" y2="394.50" stroke="#888" stroke-width="0.4"/>
<line x1="180.66" y1="395.30" x2="180.66" y2="394.50" stroke="#888" stroke-width="0.4"/>
<line x1="182.68" y1="395.30" x2="182.68" y2="394.50" stroke="#888" stroke-width="0.4"/>
<line x1="184.70" y1="395.30" x2="184.70" y2="394.50" stroke="#888" stroke-width="0.4"/>
<line x1="186.72" y1="395.30" x2="186.72" y2="394.50" stroke="#888" stroke-width="0.4"/>
<line x1="188.74" y1="395.30" x2="188.74" y2="394.50" stroke="#888" stroke-width="0.4"/>
<line x1="190.76" y1="395.30" x2="190.76" y2="394.50" stroke="#888" stroke-width="0.4"/>
<line x1="192.78" y1="395.30" x2="192.78" y2="394.50" stroke="#888" stroke-width="0.4"/>
<line x1="200.80" y1="395.30" x2="210.40" y2="395.30" stroke="#555" stroke-width="0.5"/>
<line x1="200.80" y1="394.00" x2="200.80" y2="396.20" stroke="#555" stroke-width="0.5"/>
<line x1="210.40" y1="394.00" x2="210.40" y2="396.20" stroke="#555" stroke-width="0.5"/>
<line x1="203.20" y1="395.30" x2="203.20" y2="394.50" stroke="#888" stroke-width="0.4"/>
<line x1="205.60" y1="395.30" x2="205.60" y2="394.50" stroke="#888" stroke-width="0.4"/>
<line x1="208.00" y1="395.30" x2="208.00" y2="394.50" stroke="#888" stroke-width="0.4"/>
<text x="148.60" y="401.90" font-size="6.2" fill="#231f20" font-weight="normal" text-anchor="middle">0</text>
<text x="159.00" y="401.90" font-size="6.2" fill="#231f20" font-weight="normal" text-anchor="middle">1</text>
<text x="169.10" y="401.90" font-size="6.2" fill="#231f20" font-weight="normal" text-anchor="middle">2</text>
<text x="174.60" y="401.90" font-size="6.2" fill="#231f20" font-weight="normal" text-anchor="middle">3</text>
<text x="184.70" y="401.90" font-size="6.2" fill="#231f20" font-weight="normal" text-anchor="middle">6</text>
<text x="194.80" y="401.90" font-size="6.2" fill="#231f20" font-weight="normal" text-anchor="middle">9</text>
<text x="200.80" y="401.90" font-size="6.2" fill="#231f20" font-weight="normal" text-anchor="middle" textLength="5.90" lengthAdjust="spacingAndGlyphs">12</text>
<text x="210.40" y="401.90" font-size="6.2" fill="#231f20" font-weight="normal" text-anchor="middle" textLength="5.90" lengthAdjust="spacingAndGlyphs">18</text>
<text x="135.70" y="348.00" font-size="5.9" fill="#231f20" font-weight="normal" text-anchor="middle" transform="rotate(-90 135.7 348.0)" textLength="60" lengthAdjust="spacingAndGlyphs">Endpoint dilution log<tspan font-size="3.4" dy="1">10</tspan><tspan dy="-1"> </tspan>(1:x)</text>
<rect x="249.90" y="366.91" width="62.50" height="17.19" fill="#e5e6e8"/>
<line x1="249.90" y1="375.60" x2="312.40" y2="375.60" stroke="#9c9c9c" stroke-width="0.6" stroke-dasharray="3.4,1.4"/>
<text x="311.90" y="379.70" font-size="4.2" fill="#808080" font-weight="normal" text-anchor="end" textLength="16.5" lengthAdjust="spacingAndGlyphs">naive sera</text>
<line x1="249.90" y1="301.60" x2="249.90" y2="384.10" stroke="#858585" stroke-width="0.85"/>
<line x1="248.50" y1="384.10" x2="249.90" y2="384.10" stroke="#231f20" stroke-width="0.5"/>
<text x="247.90" y="386.30" font-size="6.2" fill="#231f20" font-weight="normal" text-anchor="end">0</text>
<line x1="248.50" y1="370.35" x2="249.90" y2="370.35" stroke="#231f20" stroke-width="0.5"/>
<text x="247.90" y="372.55" font-size="6.2" fill="#231f20" font-weight="normal" text-anchor="end">1</text>
<line x1="248.50" y1="356.60" x2="249.90" y2="356.60" stroke="#231f20" stroke-width="0.5"/>
<text x="247.90" y="358.80" font-size="6.2" fill="#231f20" font-weight="normal" text-anchor="end">2</text>
<line x1="248.50" y1="342.85" x2="249.90" y2="342.85" stroke="#231f20" stroke-width="0.5"/>
<text x="247.90" y="345.05" font-size="6.2" fill="#231f20" font-weight="normal" text-anchor="end">3</text>
<line x1="248.50" y1="329.10" x2="249.90" y2="329.10" stroke="#231f20" stroke-width="0.5"/>
<text x="247.90" y="331.30" font-size="6.2" fill="#231f20" font-weight="normal" text-anchor="end">4</text>
<line x1="248.50" y1="315.35" x2="249.90" y2="315.35" stroke="#231f20" stroke-width="0.5"/>
<text x="247.90" y="317.55" font-size="6.2" fill="#231f20" font-weight="normal" text-anchor="end">5</text>
<line x1="248.50" y1="301.60" x2="249.90" y2="301.60" stroke="#231f20" stroke-width="0.5"/>
<text x="247.90" y="303.80" font-size="6.2" fill="#231f20" font-weight="normal" text-anchor="end">6</text>
<line x1="249.90" y1="389.60" x2="249.90" y2="395.30" stroke="#231f20" stroke-width="0.5"/>
<line x1="248.90" y1="389.60" x2="251.10" y2="389.60" stroke="#231f20" stroke-width="0.5"/>
<text x="248.70" y="394.40" font-size="6.2" fill="#231f20" font-weight="normal" text-anchor="end" textLength="7.20" lengthAdjust="spacingAndGlyphs">ND</text>
<line x1="249.90" y1="395.30" x2="270.40" y2="395.30" stroke="#555" stroke-width="0.5"/>
<line x1="270.40" y1="394.00" x2="270.40" y2="396.20" stroke="#555" stroke-width="0.5"/>
<line x1="251.95" y1="395.30" x2="251.95" y2="394.50" stroke="#888" stroke-width="0.4"/>
<line x1="254.00" y1="395.30" x2="254.00" y2="394.50" stroke="#888" stroke-width="0.4"/>
<line x1="256.05" y1="395.30" x2="256.05" y2="394.50" stroke="#888" stroke-width="0.4"/>
<line x1="258.10" y1="395.30" x2="258.10" y2="394.50" stroke="#888" stroke-width="0.4"/>
<line x1="260.15" y1="395.30" x2="260.15" y2="394.50" stroke="#888" stroke-width="0.4"/>
<line x1="262.20" y1="395.30" x2="262.20" y2="394.50" stroke="#888" stroke-width="0.4"/>
<line x1="264.25" y1="395.30" x2="264.25" y2="394.50" stroke="#888" stroke-width="0.4"/>
<line x1="266.30" y1="395.30" x2="266.30" y2="394.50" stroke="#888" stroke-width="0.4"/>
<line x1="268.35" y1="395.30" x2="268.35" y2="394.50" stroke="#888" stroke-width="0.4"/>
<line x1="275.90" y1="395.30" x2="296.10" y2="395.30" stroke="#555" stroke-width="0.5"/>
<line x1="275.90" y1="394.00" x2="275.90" y2="396.20" stroke="#555" stroke-width="0.5"/>
<line x1="296.10" y1="394.00" x2="296.10" y2="396.20" stroke="#555" stroke-width="0.5"/>
<line x1="277.92" y1="395.30" x2="277.92" y2="394.50" stroke="#888" stroke-width="0.4"/>
<line x1="279.94" y1="395.30" x2="279.94" y2="394.50" stroke="#888" stroke-width="0.4"/>
<line x1="281.96" y1="395.30" x2="281.96" y2="394.50" stroke="#888" stroke-width="0.4"/>
<line x1="283.98" y1="395.30" x2="283.98" y2="394.50" stroke="#888" stroke-width="0.4"/>
<line x1="286.00" y1="395.30" x2="286.00" y2="394.50" stroke="#888" stroke-width="0.4"/>
<line x1="288.02" y1="395.30" x2="288.02" y2="394.50" stroke="#888" stroke-width="0.4"/>
<line x1="290.04" y1="395.30" x2="290.04" y2="394.50" stroke="#888" stroke-width="0.4"/>
<line x1="292.06" y1="395.30" x2="292.06" y2="394.50" stroke="#888" stroke-width="0.4"/>
<line x1="294.08" y1="395.30" x2="294.08" y2="394.50" stroke="#888" stroke-width="0.4"/>
<line x1="302.10" y1="395.30" x2="311.70" y2="395.30" stroke="#555" stroke-width="0.5"/>
<line x1="302.10" y1="394.00" x2="302.10" y2="396.20" stroke="#555" stroke-width="0.5"/>
<line x1="311.70" y1="394.00" x2="311.70" y2="396.20" stroke="#555" stroke-width="0.5"/>
<line x1="304.50" y1="395.30" x2="304.50" y2="394.50" stroke="#888" stroke-width="0.4"/>
<line x1="306.90" y1="395.30" x2="306.90" y2="394.50" stroke="#888" stroke-width="0.4"/>
<line x1="309.30" y1="395.30" x2="309.30" y2="394.50" stroke="#888" stroke-width="0.4"/>
<text x="249.90" y="401.90" font-size="6.2" fill="#231f20" font-weight="normal" text-anchor="middle">0</text>
<text x="260.30" y="401.90" font-size="6.2" fill="#231f20" font-weight="normal" text-anchor="middle">1</text>
<text x="270.40" y="401.90" font-size="6.2" fill="#231f20" font-weight="normal" text-anchor="middle">2</text>
<text x="275.90" y="401.90" font-size="6.2" fill="#231f20" font-weight="normal" text-anchor="middle">3</text>
<text x="286.00" y="401.90" font-size="6.2" fill="#231f20" font-weight="normal" text-anchor="middle">6</text>
<text x="296.10" y="401.90" font-size="6.2" fill="#231f20" font-weight="normal" text-anchor="middle">9</text>
<text x="302.10" y="401.90" font-size="6.2" fill="#231f20" font-weight="normal" text-anchor="middle" textLength="5.90" lengthAdjust="spacingAndGlyphs">12</text>
<text x="311.70" y="401.90" font-size="6.2" fill="#231f20" font-weight="normal" text-anchor="middle" textLength="5.90" lengthAdjust="spacingAndGlyphs">18</text>
<text x="237.00" y="348.00" font-size="5.9" fill="#231f20" font-weight="normal" text-anchor="middle" transform="rotate(-90 237.0 348.0)" textLength="60" lengthAdjust="spacingAndGlyphs">Endpoint dilution log<tspan font-size="3.4" dy="1">10</tspan><tspan dy="-1"> </tspan>(1:x)</text>
<line x1="350.50" y1="301.70" x2="350.50" y2="395.00" stroke="#858585" stroke-width="0.85"/>
<line x1="349.10" y1="395.00" x2="350.50" y2="395.00" stroke="#231f20" stroke-width="0.5"/>
<text x="348.50" y="397.20" font-size="6.2" fill="#231f20" font-weight="normal" text-anchor="end">0</text>
<line x1="349.10" y1="379.45" x2="350.50" y2="379.45" stroke="#231f20" stroke-width="0.5"/>
<text x="348.50" y="381.65" font-size="6.2" fill="#231f20" font-weight="normal" text-anchor="end" textLength="5.90" lengthAdjust="spacingAndGlyphs">25</text>
<line x1="349.10" y1="363.90" x2="350.50" y2="363.90" stroke="#231f20" stroke-width="0.5"/>
<text x="348.50" y="366.10" font-size="6.2" fill="#231f20" font-weight="normal" text-anchor="end" textLength="5.90" lengthAdjust="spacingAndGlyphs">50</text>
<line x1="349.10" y1="348.35" x2="350.50" y2="348.35" stroke="#231f20" stroke-width="0.5"/>
<text x="348.50" y="350.55" font-size="6.2" fill="#231f20" font-weight="normal" text-anchor="end" textLength="5.90" lengthAdjust="spacingAndGlyphs">75</text>
<line x1="349.10" y1="332.80" x2="350.50" y2="332.80" stroke="#231f20" stroke-width="0.5"/>
<text x="348.50" y="335.00" font-size="6.2" fill="#231f20" font-weight="normal" text-anchor="end" textLength="8.85" lengthAdjust="spacingAndGlyphs">100</text>
<line x1="349.10" y1="317.25" x2="350.50" y2="317.25" stroke="#231f20" stroke-width="0.5"/>
<text x="348.50" y="319.45" font-size="6.2" fill="#231f20" font-weight="normal" text-anchor="end" textLength="8.85" lengthAdjust="spacingAndGlyphs">125</text>
<line x1="349.10" y1="301.70" x2="350.50" y2="301.70" stroke="#231f20" stroke-width="0.5"/>
<text x="348.50" y="303.90" font-size="6.2" fill="#231f20" font-weight="normal" text-anchor="end" textLength="8.85" lengthAdjust="spacingAndGlyphs">150</text>
<line x1="350.50" y1="395.00" x2="371.00" y2="395.00" stroke="#555" stroke-width="0.5"/>
<line x1="371.00" y1="393.70" x2="371.00" y2="395.90" stroke="#555" stroke-width="0.5"/>
<line x1="352.55" y1="395.00" x2="352.55" y2="394.20" stroke="#888" stroke-width="0.4"/>
<line x1="354.60" y1="395.00" x2="354.60" y2="394.20" stroke="#888" stroke-width="0.4"/>
<line x1="356.65" y1="395.00" x2="356.65" y2="394.20" stroke="#888" stroke-width="0.4"/>
<line x1="358.70" y1="395.00" x2="358.70" y2="394.20" stroke="#888" stroke-width="0.4"/>
<line x1="360.75" y1="395.00" x2="360.75" y2="394.20" stroke="#888" stroke-width="0.4"/>
<line x1="362.80" y1="395.00" x2="362.80" y2="394.20" stroke="#888" stroke-width="0.4"/>
<line x1="364.85" y1="395.00" x2="364.85" y2="394.20" stroke="#888" stroke-width="0.4"/>
<line x1="366.90" y1="395.00" x2="366.90" y2="394.20" stroke="#888" stroke-width="0.4"/>
<line x1="368.95" y1="395.00" x2="368.95" y2="394.20" stroke="#888" stroke-width="0.4"/>
<line x1="376.50" y1="395.00" x2="396.70" y2="395.00" stroke="#555" stroke-width="0.5"/>
<line x1="376.50" y1="393.70" x2="376.50" y2="395.90" stroke="#555" stroke-width="0.5"/>
<line x1="396.70" y1="393.70" x2="396.70" y2="395.90" stroke="#555" stroke-width="0.5"/>
<line x1="378.52" y1="395.00" x2="378.52" y2="394.20" stroke="#888" stroke-width="0.4"/>
<line x1="380.54" y1="395.00" x2="380.54" y2="394.20" stroke="#888" stroke-width="0.4"/>
<line x1="382.56" y1="395.00" x2="382.56" y2="394.20" stroke="#888" stroke-width="0.4"/>
<line x1="384.58" y1="395.00" x2="384.58" y2="394.20" stroke="#888" stroke-width="0.4"/>
<line x1="386.60" y1="395.00" x2="386.60" y2="394.20" stroke="#888" stroke-width="0.4"/>
<line x1="388.62" y1="395.00" x2="388.62" y2="394.20" stroke="#888" stroke-width="0.4"/>
<line x1="390.64" y1="395.00" x2="390.64" y2="394.20" stroke="#888" stroke-width="0.4"/>
<line x1="392.66" y1="395.00" x2="392.66" y2="394.20" stroke="#888" stroke-width="0.4"/>
<line x1="394.68" y1="395.00" x2="394.68" y2="394.20" stroke="#888" stroke-width="0.4"/>
<line x1="402.70" y1="395.00" x2="412.30" y2="395.00" stroke="#555" stroke-width="0.5"/>
<line x1="402.70" y1="393.70" x2="402.70" y2="395.90" stroke="#555" stroke-width="0.5"/>
<line x1="412.30" y1="393.70" x2="412.30" y2="395.90" stroke="#555" stroke-width="0.5"/>
<line x1="405.10" y1="395.00" x2="405.10" y2="394.20" stroke="#888" stroke-width="0.4"/>
<line x1="407.50" y1="395.00" x2="407.50" y2="394.20" stroke="#888" stroke-width="0.4"/>
<line x1="409.90" y1="395.00" x2="409.90" y2="394.20" stroke="#888" stroke-width="0.4"/>
<text x="350.50" y="401.60" font-size="6.2" fill="#231f20" font-weight="normal" text-anchor="middle">0</text>
<text x="360.90" y="401.60" font-size="6.2" fill="#231f20" font-weight="normal" text-anchor="middle">1</text>
<text x="371.00" y="401.60" font-size="6.2" fill="#231f20" font-weight="normal" text-anchor="middle">2</text>
<text x="376.50" y="401.60" font-size="6.2" fill="#231f20" font-weight="normal" text-anchor="middle">3</text>
<text x="386.60" y="401.60" font-size="6.2" fill="#231f20" font-weight="normal" text-anchor="middle">6</text>
<text x="396.70" y="401.60" font-size="6.2" fill="#231f20" font-weight="normal" text-anchor="middle">9</text>
<text x="402.70" y="401.60" font-size="6.2" fill="#231f20" font-weight="normal" text-anchor="middle" textLength="5.90" lengthAdjust="spacingAndGlyphs">12</text>
<text x="412.30" y="401.60" font-size="6.2" fill="#231f20" font-weight="normal" text-anchor="middle" textLength="5.90" lengthAdjust="spacingAndGlyphs">18</text>
<text x="337.10" y="348.40" font-size="5.9" fill="#231f20" font-weight="normal" text-anchor="middle" transform="rotate(-90 337.09999999999997 348.4)" textLength="36" lengthAdjust="spacingAndGlyphs">Avidity Index, %</text>
<line x1="452.90" y1="301.70" x2="452.90" y2="395.00" stroke="#858585" stroke-width="0.85"/>
<line x1="451.50" y1="395.00" x2="452.90" y2="395.00" stroke="#231f20" stroke-width="0.5"/>
<text x="450.90" y="397.20" font-size="6.2" fill="#231f20" font-weight="normal" text-anchor="end">0</text>
<line x1="451.50" y1="371.68" x2="452.90" y2="371.68" stroke="#231f20" stroke-width="0.5"/>
<text x="450.90" y="373.88" font-size="6.2" fill="#231f20" font-weight="normal" text-anchor="end" textLength="11.80" lengthAdjust="spacingAndGlyphs">1000</text>
<line x1="451.50" y1="348.35" x2="452.90" y2="348.35" stroke="#231f20" stroke-width="0.5"/>
<text x="450.90" y="350.55" font-size="6.2" fill="#231f20" font-weight="normal" text-anchor="end" textLength="11.80" lengthAdjust="spacingAndGlyphs">2000</text>
<line x1="451.50" y1="325.02" x2="452.90" y2="325.02" stroke="#231f20" stroke-width="0.5"/>
<text x="450.90" y="327.22" font-size="6.2" fill="#231f20" font-weight="normal" text-anchor="end" textLength="11.80" lengthAdjust="spacingAndGlyphs">3000</text>
<line x1="451.50" y1="301.70" x2="452.90" y2="301.70" stroke="#231f20" stroke-width="0.5"/>
<text x="450.90" y="303.90" font-size="6.2" fill="#231f20" font-weight="normal" text-anchor="end" textLength="11.80" lengthAdjust="spacingAndGlyphs">4000</text>
<line x1="452.90" y1="395.00" x2="473.40" y2="395.00" stroke="#555" stroke-width="0.5"/>
<line x1="473.40" y1="393.70" x2="473.40" y2="395.90" stroke="#555" stroke-width="0.5"/>
<line x1="454.95" y1="395.00" x2="454.95" y2="394.20" stroke="#888" stroke-width="0.4"/>
<line x1="457.00" y1="395.00" x2="457.00" y2="394.20" stroke="#888" stroke-width="0.4"/>
<line x1="459.05" y1="395.00" x2="459.05" y2="394.20" stroke="#888" stroke-width="0.4"/>
<line x1="461.10" y1="395.00" x2="461.10" y2="394.20" stroke="#888" stroke-width="0.4"/>
<line x1="463.15" y1="395.00" x2="463.15" y2="394.20" stroke="#888" stroke-width="0.4"/>
<line x1="465.20" y1="395.00" x2="465.20" y2="394.20" stroke="#888" stroke-width="0.4"/>
<line x1="467.25" y1="395.00" x2="467.25" y2="394.20" stroke="#888" stroke-width="0.4"/>
<line x1="469.30" y1="395.00" x2="469.30" y2="394.20" stroke="#888" stroke-width="0.4"/>
<line x1="471.35" y1="395.00" x2="471.35" y2="394.20" stroke="#888" stroke-width="0.4"/>
<line x1="478.90" y1="395.00" x2="499.10" y2="395.00" stroke="#555" stroke-width="0.5"/>
<line x1="478.90" y1="393.70" x2="478.90" y2="395.90" stroke="#555" stroke-width="0.5"/>
<line x1="499.10" y1="393.70" x2="499.10" y2="395.90" stroke="#555" stroke-width="0.5"/>
<line x1="480.92" y1="395.00" x2="480.92" y2="394.20" stroke="#888" stroke-width="0.4"/>
<line x1="482.94" y1="395.00" x2="482.94" y2="394.20" stroke="#888" stroke-width="0.4"/>
<line x1="484.96" y1="395.00" x2="484.96" y2="394.20" stroke="#888" stroke-width="0.4"/>
<line x1="486.98" y1="395.00" x2="486.98" y2="394.20" stroke="#888" stroke-width="0.4"/>
<line x1="489.00" y1="395.00" x2="489.00" y2="394.20" stroke="#888" stroke-width="0.4"/>
<line x1="491.02" y1="395.00" x2="491.02" y2="394.20" stroke="#888" stroke-width="0.4"/>
<line x1="493.04" y1="395.00" x2="493.04" y2="394.20" stroke="#888" stroke-width="0.4"/>
<line x1="495.06" y1="395.00" x2="495.06" y2="394.20" stroke="#888" stroke-width="0.4"/>
<line x1="497.08" y1="395.00" x2="497.08" y2="394.20" stroke="#888" stroke-width="0.4"/>
<line x1="505.10" y1="395.00" x2="514.70" y2="395.00" stroke="#555" stroke-width="0.5"/>
<line x1="505.10" y1="393.70" x2="505.10" y2="395.90" stroke="#555" stroke-width="0.5"/>
<line x1="514.70" y1="393.70" x2="514.70" y2="395.90" stroke="#555" stroke-width="0.5"/>
<line x1="507.50" y1="395.00" x2="507.50" y2="394.20" stroke="#888" stroke-width="0.4"/>
<line x1="509.90" y1="395.00" x2="509.90" y2="394.20" stroke="#888" stroke-width="0.4"/>
<line x1="512.30" y1="395.00" x2="512.30" y2="394.20" stroke="#888" stroke-width="0.4"/>
<text x="452.90" y="401.60" font-size="6.2" fill="#231f20" font-weight="normal" text-anchor="middle">0</text>
<text x="463.30" y="401.60" font-size="6.2" fill="#231f20" font-weight="normal" text-anchor="middle">1</text>
<text x="473.40" y="401.60" font-size="6.2" fill="#231f20" font-weight="normal" text-anchor="middle">2</text>
<text x="478.90" y="401.60" font-size="6.2" fill="#231f20" font-weight="normal" text-anchor="middle">3</text>
<text x="489.00" y="401.60" font-size="6.2" fill="#231f20" font-weight="normal" text-anchor="middle">6</text>
<text x="499.10" y="401.60" font-size="6.2" fill="#231f20" font-weight="normal" text-anchor="middle">9</text>
<text x="505.10" y="401.60" font-size="6.2" fill="#231f20" font-weight="normal" text-anchor="middle" textLength="5.90" lengthAdjust="spacingAndGlyphs">12</text>
<text x="514.70" y="401.60" font-size="6.2" fill="#231f20" font-weight="normal" text-anchor="middle" textLength="5.90" lengthAdjust="spacingAndGlyphs">18</text>
<text x="436.30" y="348.40" font-size="5.9" fill="#231f20" font-weight="normal" text-anchor="middle" transform="rotate(-90 436.29999999999995 348.4)" textLength="37.7" lengthAdjust="spacingAndGlyphs">Phagocytic score</text>
<line x1="557.30" y1="302.30" x2="557.30" y2="395.20" stroke="#858585" stroke-width="0.85"/>
<line x1="555.90" y1="395.20" x2="557.30" y2="395.20" stroke="#231f20" stroke-width="0.5"/>
<text x="555.30" y="397.40" font-size="6.2" fill="#231f20" font-weight="normal" text-anchor="end">0</text>
<line x1="555.90" y1="376.62" x2="557.30" y2="376.62" stroke="#231f20" stroke-width="0.5"/>
<text x="555.30" y="378.82" font-size="6.2" fill="#231f20" font-weight="normal" text-anchor="end" textLength="11.80" lengthAdjust="spacingAndGlyphs">3000</text>
<line x1="555.90" y1="358.04" x2="557.30" y2="358.04" stroke="#231f20" stroke-width="0.5"/>
<text x="555.30" y="360.24" font-size="6.2" fill="#231f20" font-weight="normal" text-anchor="end" textLength="11.80" lengthAdjust="spacingAndGlyphs">6000</text>
<line x1="555.90" y1="339.46" x2="557.30" y2="339.46" stroke="#231f20" stroke-width="0.5"/>
<text x="555.30" y="341.66" font-size="6.2" fill="#231f20" font-weight="normal" text-anchor="end" textLength="11.80" lengthAdjust="spacingAndGlyphs">9000</text>
<line x1="555.90" y1="320.88" x2="557.30" y2="320.88" stroke="#231f20" stroke-width="0.5"/>
<text x="555.30" y="323.08" font-size="6.2" fill="#231f20" font-weight="normal" text-anchor="end" textLength="14.75" lengthAdjust="spacingAndGlyphs">12000</text>
<line x1="555.90" y1="302.30" x2="557.30" y2="302.30" stroke="#231f20" stroke-width="0.5"/>
<text x="555.30" y="304.50" font-size="6.2" fill="#231f20" font-weight="normal" text-anchor="end" textLength="14.75" lengthAdjust="spacingAndGlyphs">15000</text>
<line x1="557.30" y1="395.20" x2="577.80" y2="395.20" stroke="#555" stroke-width="0.5"/>
<line x1="577.80" y1="393.90" x2="577.80" y2="396.10" stroke="#555" stroke-width="0.5"/>
<line x1="559.35" y1="395.20" x2="559.35" y2="394.40" stroke="#888" stroke-width="0.4"/>
<line x1="561.40" y1="395.20" x2="561.40" y2="394.40" stroke="#888" stroke-width="0.4"/>
<line x1="563.45" y1="395.20" x2="563.45" y2="394.40" stroke="#888" stroke-width="0.4"/>
<line x1="565.50" y1="395.20" x2="565.50" y2="394.40" stroke="#888" stroke-width="0.4"/>
<line x1="567.55" y1="395.20" x2="567.55" y2="394.40" stroke="#888" stroke-width="0.4"/>
<line x1="569.60" y1="395.20" x2="569.60" y2="394.40" stroke="#888" stroke-width="0.4"/>
<line x1="571.65" y1="395.20" x2="571.65" y2="394.40" stroke="#888" stroke-width="0.4"/>
<line x1="573.70" y1="395.20" x2="573.70" y2="394.40" stroke="#888" stroke-width="0.4"/>
<line x1="575.75" y1="395.20" x2="575.75" y2="394.40" stroke="#888" stroke-width="0.4"/>
<line x1="583.30" y1="395.20" x2="603.50" y2="395.20" stroke="#555" stroke-width="0.5"/>
<line x1="583.30" y1="393.90" x2="583.30" y2="396.10" stroke="#555" stroke-width="0.5"/>
<line x1="603.50" y1="393.90" x2="603.50" y2="396.10" stroke="#555" stroke-width="0.5"/>
<line x1="585.32" y1="395.20" x2="585.32" y2="394.40" stroke="#888" stroke-width="0.4"/>
<line x1="587.34" y1="395.20" x2="587.34" y2="394.40" stroke="#888" stroke-width="0.4"/>
<line x1="589.36" y1="395.20" x2="589.36" y2="394.40" stroke="#888" stroke-width="0.4"/>
<line x1="591.38" y1="395.20" x2="591.38" y2="394.40" stroke="#888" stroke-width="0.4"/>
<line x1="593.40" y1="395.20" x2="593.40" y2="394.40" stroke="#888" stroke-width="0.4"/>
<line x1="595.42" y1="395.20" x2="595.42" y2="394.40" stroke="#888" stroke-width="0.4"/>
<line x1="597.44" y1="395.20" x2="597.44" y2="394.40" stroke="#888" stroke-width="0.4"/>
<line x1="599.46" y1="395.20" x2="599.46" y2="394.40" stroke="#888" stroke-width="0.4"/>
<line x1="601.48" y1="395.20" x2="601.48" y2="394.40" stroke="#888" stroke-width="0.4"/>
<line x1="609.50" y1="395.20" x2="619.10" y2="395.20" stroke="#555" stroke-width="0.5"/>
<line x1="609.50" y1="393.90" x2="609.50" y2="396.10" stroke="#555" stroke-width="0.5"/>
<line x1="619.10" y1="393.90" x2="619.10" y2="396.10" stroke="#555" stroke-width="0.5"/>
<line x1="611.90" y1="395.20" x2="611.90" y2="394.40" stroke="#888" stroke-width="0.4"/>
<line x1="614.30" y1="395.20" x2="614.30" y2="394.40" stroke="#888" stroke-width="0.4"/>
<line x1="616.70" y1="395.20" x2="616.70" y2="394.40" stroke="#888" stroke-width="0.4"/>
<text x="557.30" y="401.80" font-size="6.2" fill="#231f20" font-weight="normal" text-anchor="middle">0</text>
<text x="567.70" y="401.80" font-size="6.2" fill="#231f20" font-weight="normal" text-anchor="middle">1</text>
<text x="577.80" y="401.80" font-size="6.2" fill="#231f20" font-weight="normal" text-anchor="middle">2</text>
<text x="583.30" y="401.80" font-size="6.2" fill="#231f20" font-weight="normal" text-anchor="middle">3</text>
<text x="593.40" y="401.80" font-size="6.2" fill="#231f20" font-weight="normal" text-anchor="middle">6</text>
<text x="603.50" y="401.80" font-size="6.2" fill="#231f20" font-weight="normal" text-anchor="middle">9</text>
<text x="609.50" y="401.80" font-size="6.2" fill="#231f20" font-weight="normal" text-anchor="middle" textLength="5.90" lengthAdjust="spacingAndGlyphs">12</text>
<text x="619.10" y="401.80" font-size="6.2" fill="#231f20" font-weight="normal" text-anchor="middle" textLength="5.90" lengthAdjust="spacingAndGlyphs">18</text>
<text x="538.40" y="348.40" font-size="5.9" fill="#231f20" font-weight="normal" text-anchor="middle" transform="rotate(-90 538.4 348.4)" textLength="8.5" lengthAdjust="spacingAndGlyphs">MFI</text>
<rect x="50.50" y="485.95" width="62.50" height="25.85" fill="#e5e6e8"/>
<line x1="50.50" y1="494.50" x2="113.00" y2="494.50" stroke="#9c9c9c" stroke-width="0.6" stroke-dasharray="3.4,1.4"/>
<text x="112.50" y="498.60" font-size="4.2" fill="#808080" font-weight="normal" text-anchor="end" textLength="16.5" lengthAdjust="spacingAndGlyphs">naive sera</text>
<line x1="50.50" y1="429.30" x2="50.50" y2="511.80" stroke="#858585" stroke-width="0.85"/>
<line x1="49.10" y1="511.80" x2="50.50" y2="511.80" stroke="#231f20" stroke-width="0.5"/>
<text x="48.50" y="514.00" font-size="6.2" fill="#231f20" font-weight="normal" text-anchor="end">0</text>
<line x1="49.10" y1="498.05" x2="50.50" y2="498.05" stroke="#231f20" stroke-width="0.5"/>
<text x="48.50" y="500.25" font-size="6.2" fill="#231f20" font-weight="normal" text-anchor="end">1</text>
<line x1="49.10" y1="484.30" x2="50.50" y2="484.30" stroke="#231f20" stroke-width="0.5"/>
<text x="48.50" y="486.50" font-size="6.2" fill="#231f20" font-weight="normal" text-anchor="end">2</text>
<line x1="49.10" y1="470.55" x2="50.50" y2="470.55" stroke="#231f20" stroke-width="0.5"/>
<text x="48.50" y="472.75" font-size="6.2" fill="#231f20" font-weight="normal" text-anchor="end">3</text>
<line x1="49.10" y1="456.80" x2="50.50" y2="456.80" stroke="#231f20" stroke-width="0.5"/>
<text x="48.50" y="459.00" font-size="6.2" fill="#231f20" font-weight="normal" text-anchor="end">4</text>
<line x1="49.10" y1="443.05" x2="50.50" y2="443.05" stroke="#231f20" stroke-width="0.5"/>
<text x="48.50" y="445.25" font-size="6.2" fill="#231f20" font-weight="normal" text-anchor="end">5</text>
<line x1="49.10" y1="429.30" x2="50.50" y2="429.30" stroke="#231f20" stroke-width="0.5"/>
<text x="48.50" y="431.50" font-size="6.2" fill="#231f20" font-weight="normal" text-anchor="end">6</text>
<line x1="50.50" y1="517.30" x2="50.50" y2="523.00" stroke="#231f20" stroke-width="0.5"/>
<line x1="49.50" y1="517.30" x2="51.70" y2="517.30" stroke="#231f20" stroke-width="0.5"/>
<text x="49.30" y="522.10" font-size="6.2" fill="#231f20" font-weight="normal" text-anchor="end" textLength="7.20" lengthAdjust="spacingAndGlyphs">ND</text>
<line x1="50.50" y1="523.00" x2="71.00" y2="523.00" stroke="#555" stroke-width="0.5"/>
<line x1="71.00" y1="521.70" x2="71.00" y2="523.90" stroke="#555" stroke-width="0.5"/>
<line x1="52.55" y1="523.00" x2="52.55" y2="522.20" stroke="#888" stroke-width="0.4"/>
<line x1="54.60" y1="523.00" x2="54.60" y2="522.20" stroke="#888" stroke-width="0.4"/>
<line x1="56.65" y1="523.00" x2="56.65" y2="522.20" stroke="#888" stroke-width="0.4"/>
<line x1="58.70" y1="523.00" x2="58.70" y2="522.20" stroke="#888" stroke-width="0.4"/>
<line x1="60.75" y1="523.00" x2="60.75" y2="522.20" stroke="#888" stroke-width="0.4"/>
<line x1="62.80" y1="523.00" x2="62.80" y2="522.20" stroke="#888" stroke-width="0.4"/>
<line x1="64.85" y1="523.00" x2="64.85" y2="522.20" stroke="#888" stroke-width="0.4"/>
<line x1="66.90" y1="523.00" x2="66.90" y2="522.20" stroke="#888" stroke-width="0.4"/>
<line x1="68.95" y1="523.00" x2="68.95" y2="522.20" stroke="#888" stroke-width="0.4"/>
<line x1="76.50" y1="523.00" x2="96.70" y2="523.00" stroke="#555" stroke-width="0.5"/>
<line x1="76.50" y1="521.70" x2="76.50" y2="523.90" stroke="#555" stroke-width="0.5"/>
<line x1="96.70" y1="521.70" x2="96.70" y2="523.90" stroke="#555" stroke-width="0.5"/>
<line x1="78.52" y1="523.00" x2="78.52" y2="522.20" stroke="#888" stroke-width="0.4"/>
<line x1="80.54" y1="523.00" x2="80.54" y2="522.20" stroke="#888" stroke-width="0.4"/>
<line x1="82.56" y1="523.00" x2="82.56" y2="522.20" stroke="#888" stroke-width="0.4"/>
<line x1="84.58" y1="523.00" x2="84.58" y2="522.20" stroke="#888" stroke-width="0.4"/>
<line x1="86.60" y1="523.00" x2="86.60" y2="522.20" stroke="#888" stroke-width="0.4"/>
<line x1="88.62" y1="523.00" x2="88.62" y2="522.20" stroke="#888" stroke-width="0.4"/>
<line x1="90.64" y1="523.00" x2="90.64" y2="522.20" stroke="#888" stroke-width="0.4"/>
<line x1="92.66" y1="523.00" x2="92.66" y2="522.20" stroke="#888" stroke-width="0.4"/>
<line x1="94.68" y1="523.00" x2="94.68" y2="522.20" stroke="#888" stroke-width="0.4"/>
<line x1="102.70" y1="523.00" x2="112.30" y2="523.00" stroke="#555" stroke-width="0.5"/>
<line x1="102.70" y1="521.70" x2="102.70" y2="523.90" stroke="#555" stroke-width="0.5"/>
<line x1="112.30" y1="521.70" x2="112.30" y2="523.90" stroke="#555" stroke-width="0.5"/>
<line x1="105.10" y1="523.00" x2="105.10" y2="522.20" stroke="#888" stroke-width="0.4"/>
<line x1="107.50" y1="523.00" x2="107.50" y2="522.20" stroke="#888" stroke-width="0.4"/>
<line x1="109.90" y1="523.00" x2="109.90" y2="522.20" stroke="#888" stroke-width="0.4"/>
<text x="50.50" y="529.60" font-size="6.2" fill="#231f20" font-weight="normal" text-anchor="middle">0</text>
<text x="60.90" y="529.60" font-size="6.2" fill="#231f20" font-weight="normal" text-anchor="middle">1</text>
<text x="71.00" y="529.60" font-size="6.2" fill="#231f20" font-weight="normal" text-anchor="middle">2</text>
<text x="76.50" y="529.60" font-size="6.2" fill="#231f20" font-weight="normal" text-anchor="middle">3</text>
<text x="86.60" y="529.60" font-size="6.2" fill="#231f20" font-weight="normal" text-anchor="middle">6</text>
<text x="96.70" y="529.60" font-size="6.2" fill="#231f20" font-weight="normal" text-anchor="middle">9</text>
<text x="102.70" y="529.60" font-size="6.2" fill="#231f20" font-weight="normal" text-anchor="middle" textLength="5.90" lengthAdjust="spacingAndGlyphs">12</text>
<text x="112.30" y="529.60" font-size="6.2" fill="#231f20" font-weight="normal" text-anchor="middle" textLength="5.90" lengthAdjust="spacingAndGlyphs">18</text>
<text x="37.60" y="475.70" font-size="5.9" fill="#231f20" font-weight="normal" text-anchor="middle" transform="rotate(-90 37.6 475.7)" textLength="60" lengthAdjust="spacingAndGlyphs">Endpoint dilution log<tspan font-size="3.4" dy="1">10</tspan><tspan dy="-1"> </tspan>(1:x)</text>
<rect x="148.60" y="496.68" width="62.50" height="15.13" fill="#e5e6e8"/>
<line x1="148.60" y1="506.05" x2="211.10" y2="506.05" stroke="#9c9c9c" stroke-width="0.6" stroke-dasharray="3.4,1.4"/>
<text x="210.60" y="510.15" font-size="4.2" fill="#808080" font-weight="normal" text-anchor="end" textLength="16.5" lengthAdjust="spacingAndGlyphs">naive sera</text>
<line x1="148.60" y1="429.30" x2="148.60" y2="511.80" stroke="#858585" stroke-width="0.85"/>
<line x1="147.20" y1="511.80" x2="148.60" y2="511.80" stroke="#231f20" stroke-width="0.5"/>
<text x="146.60" y="514.00" font-size="6.2" fill="#231f20" font-weight="normal" text-anchor="end">0</text>
<line x1="147.20" y1="498.05" x2="148.60" y2="498.05" stroke="#231f20" stroke-width="0.5"/>
<text x="146.60" y="500.25" font-size="6.2" fill="#231f20" font-weight="normal" text-anchor="end">1</text>
<line x1="147.20" y1="484.30" x2="148.60" y2="484.30" stroke="#231f20" stroke-width="0.5"/>
<text x="146.60" y="486.50" font-size="6.2" fill="#231f20" font-weight="normal" text-anchor="end">2</text>
<line x1="147.20" y1="470.55" x2="148.60" y2="470.55" stroke="#231f20" stroke-width="0.5"/>
<text x="146.60" y="472.75" font-size="6.2" fill="#231f20" font-weight="normal" text-anchor="end">3</text>
<line x1="147.20" y1="456.80" x2="148.60" y2="456.80" stroke="#231f20" stroke-width="0.5"/>
<text x="146.60" y="459.00" font-size="6.2" fill="#231f20" font-weight="normal" text-anchor="end">4</text>
<line x1="147.20" y1="443.05" x2="148.60" y2="443.05" stroke="#231f20" stroke-width="0.5"/>
<text x="146.60" y="445.25" font-size="6.2" fill="#231f20" font-weight="normal" text-anchor="end">5</text>
<line x1="147.20" y1="429.30" x2="148.60" y2="429.30" stroke="#231f20" stroke-width="0.5"/>
<text x="146.60" y="431.50" font-size="6.2" fill="#231f20" font-weight="normal" text-anchor="end">6</text>
<line x1="148.60" y1="517.30" x2="148.60" y2="523.00" stroke="#231f20" stroke-width="0.5"/>
<line x1="147.60" y1="517.30" x2="149.80" y2="517.30" stroke="#231f20" stroke-width="0.5"/>
<text x="147.40" y="522.10" font-size="6.2" fill="#231f20" font-weight="normal" text-anchor="end" textLength="7.20" lengthAdjust="spacingAndGlyphs">ND</text>
<line x1="148.60" y1="523.00" x2="169.10" y2="523.00" stroke="#555" stroke-width="0.5"/>
<line x1="169.10" y1="521.70" x2="169.10" y2="523.90" stroke="#555" stroke-width="0.5"/>
<line x1="150.65" y1="523.00" x2="150.65" y2="522.20" stroke="#888" stroke-width="0.4"/>
<line x1="152.70" y1="523.00" x2="152.70" y2="522.20" stroke="#888" stroke-width="0.4"/>
<line x1="154.75" y1="523.00" x2="154.75" y2="522.20" stroke="#888" stroke-width="0.4"/>
<line x1="156.80" y1="523.00" x2="156.80" y2="522.20" stroke="#888" stroke-width="0.4"/>
<line x1="158.85" y1="523.00" x2="158.85" y2="522.20" stroke="#888" stroke-width="0.4"/>
<line x1="160.90" y1="523.00" x2="160.90" y2="522.20" stroke="#888" stroke-width="0.4"/>
<line x1="162.95" y1="523.00" x2="162.95" y2="522.20" stroke="#888" stroke-width="0.4"/>
<line x1="165.00" y1="523.00" x2="165.00" y2="522.20" stroke="#888" stroke-width="0.4"/>
<line x1="167.05" y1="523.00" x2="167.05" y2="522.20" stroke="#888" stroke-width="0.4"/>
<line x1="174.60" y1="523.00" x2="194.80" y2="523.00" stroke="#555" stroke-width="0.5"/>
<line x1="174.60" y1="521.70" x2="174.60" y2="523.90" stroke="#555" stroke-width="0.5"/>
<line x1="194.80" y1="521.70" x2="194.80" y2="523.90" stroke="#555" stroke-width="0.5"/>
<line x1="176.62" y1="523.00" x2="176.62" y2="522.20" stroke="#888" stroke-width="0.4"/>
<line x1="178.64" y1="523.00" x2="178.64" y2="522.20" stroke="#888" stroke-width="0.4"/>
<line x1="180.66" y1="523.00" x2="180.66" y2="522.20" stroke="#888" stroke-width="0.4"/>
<line x1="182.68" y1="523.00" x2="182.68" y2="522.20" stroke="#888" stroke-width="0.4"/>
<line x1="184.70" y1="523.00" x2="184.70" y2="522.20" stroke="#888" stroke-width="0.4"/>
<line x1="186.72" y1="523.00" x2="186.72" y2="522.20" stroke="#888" stroke-width="0.4"/>
<line x1="188.74" y1="523.00" x2="188.74" y2="522.20" stroke="#888" stroke-width="0.4"/>
<line x1="190.76" y1="523.00" x2="190.76" y2="522.20" stroke="#888" stroke-width="0.4"/>
<line x1="192.78" y1="523.00" x2="192.78" y2="522.20" stroke="#888" stroke-width="0.4"/>
<line x1="200.80" y1="523.00" x2="210.40" y2="523.00" stroke="#555" stroke-width="0.5"/>
<line x1="200.80" y1="521.70" x2="200.80" y2="523.90" stroke="#555" stroke-width="0.5"/>
<line x1="210.40" y1="521.70" x2="210.40" y2="523.90" stroke="#555" stroke-width="0.5"/>
<line x1="203.20" y1="523.00" x2="203.20" y2="522.20" stroke="#888" stroke-width="0.4"/>
<line x1="205.60" y1="523.00" x2="205.60" y2="522.20" stroke="#888" stroke-width="0.4"/>
<line x1="208.00" y1="523.00" x2="208.00" y2="522.20" stroke="#888" stroke-width="0.4"/>
<text x="148.60" y="529.60" font-size="6.2" fill="#231f20" font-weight="normal" text-anchor="middle">0</text>
<text x="159.00" y="529.60" font-size="6.2" fill="#231f20" font-weight="normal" text-anchor="middle">1</text>
<text x="169.10" y="529.60" font-size="6.2" fill="#231f20" font-weight="normal" text-anchor="middle">2</text>
<text x="174.60" y="529.60" font-size="6.2" fill="#231f20" font-weight="normal" text-anchor="middle">3</text>
<text x="184.70" y="529.60" font-size="6.2" fill="#231f20" font-weight="normal" text-anchor="middle">6</text>
<text x="194.80" y="529.60" font-size="6.2" fill="#231f20" font-weight="normal" text-anchor="middle">9</text>
<text x="200.80" y="529.60" font-size="6.2" fill="#231f20" font-weight="normal" text-anchor="middle" textLength="5.90" lengthAdjust="spacingAndGlyphs">12</text>
<text x="210.40" y="529.60" font-size="6.2" fill="#231f20" font-weight="normal" text-anchor="middle" textLength="5.90" lengthAdjust="spacingAndGlyphs">18</text>
<text x="135.70" y="475.70" font-size="5.9" fill="#231f20" font-weight="normal" text-anchor="middle" transform="rotate(-90 135.7 475.7)" textLength="60" lengthAdjust="spacingAndGlyphs">Endpoint dilution log<tspan font-size="3.4" dy="1">10</tspan><tspan dy="-1"> </tspan>(1:x)</text>
<rect x="249.90" y="494.61" width="62.50" height="17.19" fill="#e5e6e8"/>
<line x1="249.90" y1="502.89" x2="312.40" y2="502.89" stroke="#9c9c9c" stroke-width="0.6" stroke-dasharray="3.4,1.4"/>
<text x="311.90" y="506.99" font-size="4.2" fill="#808080" font-weight="normal" text-anchor="end" textLength="16.5" lengthAdjust="spacingAndGlyphs">naive sera</text>
<line x1="249.90" y1="429.30" x2="249.90" y2="511.80" stroke="#858585" stroke-width="0.85"/>
<line x1="248.50" y1="511.80" x2="249.90" y2="511.80" stroke="#231f20" stroke-width="0.5"/>
<text x="247.90" y="514.00" font-size="6.2" fill="#231f20" font-weight="normal" text-anchor="end">0</text>
<line x1="248.50" y1="498.05" x2="249.90" y2="498.05" stroke="#231f20" stroke-width="0.5"/>
<text x="247.90" y="500.25" font-size="6.2" fill="#231f20" font-weight="normal" text-anchor="end">1</text>
<line x1="248.50" y1="484.30" x2="249.90" y2="484.30" stroke="#231f20" stroke-width="0.5"/>
<text x="247.90" y="486.50" font-size="6.2" fill="#231f20" font-weight="normal" text-anchor="end">2</text>
<line x1="248.50" y1="470.55" x2="249.90" y2="470.55" stroke="#231f20" stroke-width="0.5"/>
<text x="247.90" y="472.75" font-size="6.2" fill="#231f20" font-weight="normal" text-anchor="end">3</text>
<line x1="248.50" y1="456.80" x2="249.90" y2="456.80" stroke="#231f20" stroke-width="0.5"/>
<text x="247.90" y="459.00" font-size="6.2" fill="#231f20" font-weight="normal" text-anchor="end">4</text>
<line x1="248.50" y1="443.05" x2="249.90" y2="443.05" stroke="#231f20" stroke-width="0.5"/>
<text x="247.90" y="445.25" font-size="6.2" fill="#231f20" font-weight="normal" text-anchor="end">5</text>
<line x1="248.50" y1="429.30" x2="249.90" y2="429.30" stroke="#231f20" stroke-width="0.5"/>
<text x="247.90" y="431.50" font-size="6.2" fill="#231f20" font-weight="normal" text-anchor="end">6</text>
<line x1="249.90" y1="517.30" x2="249.90" y2="523.00" stroke="#231f20" stroke-width="0.5"/>
<line x1="248.90" y1="517.30" x2="251.10" y2="517.30" stroke="#231f20" stroke-width="0.5"/>
<text x="248.70" y="522.10" font-size="6.2" fill="#231f20" font-weight="normal" text-anchor="end" textLength="7.20" lengthAdjust="spacingAndGlyphs">ND</text>
<line x1="249.90" y1="523.00" x2="270.40" y2="523.00" stroke="#555" stroke-width="0.5"/>
<line x1="270.40" y1="521.70" x2="270.40" y2="523.90" stroke="#555" stroke-width="0.5"/>
<line x1="251.95" y1="523.00" x2="251.95" y2="522.20" stroke="#888" stroke-width="0.4"/>
<line x1="254.00" y1="523.00" x2="254.00" y2="522.20" stroke="#888" stroke-width="0.4"/>
<line x1="256.05" y1="523.00" x2="256.05" y2="522.20" stroke="#888" stroke-width="0.4"/>
<line x1="258.10" y1="523.00" x2="258.10" y2="522.20" stroke="#888" stroke-width="0.4"/>
<line x1="260.15" y1="523.00" x2="260.15" y2="522.20" stroke="#888" stroke-width="0.4"/>
<line x1="262.20" y1="523.00" x2="262.20" y2="522.20" stroke="#888" stroke-width="0.4"/>
<line x1="264.25" y1="523.00" x2="264.25" y2="522.20" stroke="#888" stroke-width="0.4"/>
<line x1="266.30" y1="523.00" x2="266.30" y2="522.20" stroke="#888" stroke-width="0.4"/>
<line x1="268.35" y1="523.00" x2="268.35" y2="522.20" stroke="#888" stroke-width="0.4"/>
<line x1="275.90" y1="523.00" x2="296.10" y2="523.00" stroke="#555" stroke-width="0.5"/>
<line x1="275.90" y1="521.70" x2="275.90" y2="523.90" stroke="#555" stroke-width="0.5"/>
<line x1="296.10" y1="521.70" x2="296.10" y2="523.90" stroke="#555" stroke-width="0.5"/>
<line x1="277.92" y1="523.00" x2="277.92" y2="522.20" stroke="#888" stroke-width="0.4"/>
<line x1="279.94" y1="523.00" x2="279.94" y2="522.20" stroke="#888" stroke-width="0.4"/>
<line x1="281.96" y1="523.00" x2="281.96" y2="522.20" stroke="#888" stroke-width="0.4"/>
<line x1="283.98" y1="523.00" x2="283.98" y2="522.20" stroke="#888" stroke-width="0.4"/>
<line x1="286.00" y1="523.00" x2="286.00" y2="522.20" stroke="#888" stroke-width="0.4"/>
<line x1="288.02" y1="523.00" x2="288.02" y2="522.20" stroke="#888" stroke-width="0.4"/>
<line x1="290.04" y1="523.00" x2="290.04" y2="522.20" stroke="#888" stroke-width="0.4"/>
<line x1="292.06" y1="523.00" x2="292.06" y2="522.20" stroke="#888" stroke-width="0.4"/>
<line x1="294.08" y1="523.00" x2="294.08" y2="522.20" stroke="#888" stroke-width="0.4"/>
<line x1="302.10" y1="523.00" x2="311.70" y2="523.00" stroke="#555" stroke-width="0.5"/>
<line x1="302.10" y1="521.70" x2="302.10" y2="523.90" stroke="#555" stroke-width="0.5"/>
<line x1="311.70" y1="521.70" x2="311.70" y2="523.90" stroke="#555" stroke-width="0.5"/>
<line x1="304.50" y1="523.00" x2="304.50" y2="522.20" stroke="#888" stroke-width="0.4"/>
<line x1="306.90" y1="523.00" x2="306.90" y2="522.20" stroke="#888" stroke-width="0.4"/>
<line x1="309.30" y1="523.00" x2="309.30" y2="522.20" stroke="#888" stroke-width="0.4"/>
<text x="249.90" y="529.60" font-size="6.2" fill="#231f20" font-weight="normal" text-anchor="middle">0</text>
<text x="260.30" y="529.60" font-size="6.2" fill="#231f20" font-weight="normal" text-anchor="middle">1</text>
<text x="270.40" y="529.60" font-size="6.2" fill="#231f20" font-weight="normal" text-anchor="middle">2</text>
<text x="275.90" y="529.60" font-size="6.2" fill="#231f20" font-weight="normal" text-anchor="middle">3</text>
<text x="286.00" y="529.60" font-size="6.2" fill="#231f20" font-weight="normal" text-anchor="middle">6</text>
<text x="296.10" y="529.60" font-size="6.2" fill="#231f20" font-weight="normal" text-anchor="middle">9</text>
<text x="302.10" y="529.60" font-size="6.2" fill="#231f20" font-weight="normal" text-anchor="middle" textLength="5.90" lengthAdjust="spacingAndGlyphs">12</text>
<text x="311.70" y="529.60" font-size="6.2" fill="#231f20" font-weight="normal" text-anchor="middle" textLength="5.90" lengthAdjust="spacingAndGlyphs">18</text>
<text x="237.00" y="475.70" font-size="5.9" fill="#231f20" font-weight="normal" text-anchor="middle" transform="rotate(-90 237.0 475.7)" textLength="60" lengthAdjust="spacingAndGlyphs">Endpoint dilution log<tspan font-size="3.4" dy="1">10</tspan><tspan dy="-1"> </tspan>(1:x)</text>
<line x1="350.50" y1="429.40" x2="350.50" y2="522.70" stroke="#858585" stroke-width="0.85"/>
<line x1="349.10" y1="522.70" x2="350.50" y2="522.70" stroke="#231f20" stroke-width="0.5"/>
<text x="348.50" y="524.90" font-size="6.2" fill="#231f20" font-weight="normal" text-anchor="end">0</text>
<line x1="349.10" y1="507.15" x2="350.50" y2="507.15" stroke="#231f20" stroke-width="0.5"/>
<text x="348.50" y="509.35" font-size="6.2" fill="#231f20" font-weight="normal" text-anchor="end" textLength="5.90" lengthAdjust="spacingAndGlyphs">25</text>
<line x1="349.10" y1="491.60" x2="350.50" y2="491.60" stroke="#231f20" stroke-width="0.5"/>
<text x="348.50" y="493.80" font-size="6.2" fill="#231f20" font-weight="normal" text-anchor="end" textLength="5.90" lengthAdjust="spacingAndGlyphs">50</text>
<line x1="349.10" y1="476.05" x2="350.50" y2="476.05" stroke="#231f20" stroke-width="0.5"/>
<text x="348.50" y="478.25" font-size="6.2" fill="#231f20" font-weight="normal" text-anchor="end" textLength="5.90" lengthAdjust="spacingAndGlyphs">75</text>
<line x1="349.10" y1="460.50" x2="350.50" y2="460.50" stroke="#231f20" stroke-width="0.5"/>
<text x="348.50" y="462.70" font-size="6.2" fill="#231f20" font-weight="normal" text-anchor="end" textLength="8.85" lengthAdjust="spacingAndGlyphs">100</text>
<line x1="349.10" y1="444.95" x2="350.50" y2="444.95" stroke="#231f20" stroke-width="0.5"/>
<text x="348.50" y="447.15" font-size="6.2" fill="#231f20" font-weight="normal" text-anchor="end" textLength="8.85" lengthAdjust="spacingAndGlyphs">125</text>
<line x1="349.10" y1="429.40" x2="350.50" y2="429.40" stroke="#231f20" stroke-width="0.5"/>
<text x="348.50" y="431.60" font-size="6.2" fill="#231f20" font-weight="normal" text-anchor="end" textLength="8.85" lengthAdjust="spacingAndGlyphs">150</text>
<line x1="350.50" y1="522.70" x2="371.00" y2="522.70" stroke="#555" stroke-width="0.5"/>
<line x1="371.00" y1="521.40" x2="371.00" y2="523.60" stroke="#555" stroke-width="0.5"/>
<line x1="352.55" y1="522.70" x2="352.55" y2="521.90" stroke="#888" stroke-width="0.4"/>
<line x1="354.60" y1="522.70" x2="354.60" y2="521.90" stroke="#888" stroke-width="0.4"/>
<line x1="356.65" y1="522.70" x2="356.65" y2="521.90" stroke="#888" stroke-width="0.4"/>
<line x1="358.70" y1="522.70" x2="358.70" y2="521.90" stroke="#888" stroke-width="0.4"/>
<line x1="360.75" y1="522.70" x2="360.75" y2="521.90" stroke="#888" stroke-width="0.4"/>
<line x1="362.80" y1="522.70" x2="362.80" y2="521.90" stroke="#888" stroke-width="0.4"/>
<line x1="364.85" y1="522.70" x2="364.85" y2="521.90" stroke="#888" stroke-width="0.4"/>
<line x1="366.90" y1="522.70" x2="366.90" y2="521.90" stroke="#888" stroke-width="0.4"/>
<line x1="368.95" y1="522.70" x2="368.95" y2="521.90" stroke="#888" stroke-width="0.4"/>
<line x1="376.50" y1="522.70" x2="396.70" y2="522.70" stroke="#555" stroke-width="0.5"/>
<line x1="376.50" y1="521.40" x2="376.50" y2="523.60" stroke="#555" stroke-width="0.5"/>
<line x1="396.70" y1="521.40" x2="396.70" y2="523.60" stroke="#555" stroke-width="0.5"/>
<line x1="378.52" y1="522.70" x2="378.52" y2="521.90" stroke="#888" stroke-width="0.4"/>
<line x1="380.54" y1="522.70" x2="380.54" y2="521.90" stroke="#888" stroke-width="0.4"/>
<line x1="382.56" y1="522.70" x2="382.56" y2="521.90" stroke="#888" stroke-width="0.4"/>
<line x1="384.58" y1="522.70" x2="384.58" y2="521.90" stroke="#888" stroke-width="0.4"/>
<line x1="386.60" y1="522.70" x2="386.60" y2="521.90" stroke="#888" stroke-width="0.4"/>
<line x1="388.62" y1="522.70" x2="388.62" y2="521.90" stroke="#888" stroke-width="0.4"/>
<line x1="390.64" y1="522.70" x2="390.64" y2="521.90" stroke="#888" stroke-width="0.4"/>
<line x1="392.66" y1="522.70" x2="392.66" y2="521.90" stroke="#888" stroke-width="0.4"/>
<line x1="394.68" y1="522.70" x2="394.68" y2="521.90" stroke="#888" stroke-width="0.4"/>
<line x1="402.70" y1="522.70" x2="412.30" y2="522.70" stroke="#555" stroke-width="0.5"/>
<line x1="402.70" y1="521.40" x2="402.70" y2="523.60" stroke="#555" stroke-width="0.5"/>
<line x1="412.30" y1="521.40" x2="412.30" y2="523.60" stroke="#555" stroke-width="0.5"/>
<line x1="405.10" y1="522.70" x2="405.10" y2="521.90" stroke="#888" stroke-width="0.4"/>
<line x1="407.50" y1="522.70" x2="407.50" y2="521.90" stroke="#888" stroke-width="0.4"/>
<line x1="409.90" y1="522.70" x2="409.90" y2="521.90" stroke="#888" stroke-width="0.4"/>
<text x="350.50" y="529.30" font-size="6.2" fill="#231f20" font-weight="normal" text-anchor="middle">0</text>
<text x="360.90" y="529.30" font-size="6.2" fill="#231f20" font-weight="normal" text-anchor="middle">1</text>
<text x="371.00" y="529.30" font-size="6.2" fill="#231f20" font-weight="normal" text-anchor="middle">2</text>
<text x="376.50" y="529.30" font-size="6.2" fill="#231f20" font-weight="normal" text-anchor="middle">3</text>
<text x="386.60" y="529.30" font-size="6.2" fill="#231f20" font-weight="normal" text-anchor="middle">6</text>
<text x="396.70" y="529.30" font-size="6.2" fill="#231f20" font-weight="normal" text-anchor="middle">9</text>
<text x="402.70" y="529.30" font-size="6.2" fill="#231f20" font-weight="normal" text-anchor="middle" textLength="5.90" lengthAdjust="spacingAndGlyphs">12</text>
<text x="412.30" y="529.30" font-size="6.2" fill="#231f20" font-weight="normal" text-anchor="middle" textLength="5.90" lengthAdjust="spacingAndGlyphs">18</text>
<text x="337.10" y="476.10" font-size="5.9" fill="#231f20" font-weight="normal" text-anchor="middle" transform="rotate(-90 337.09999999999997 476.09999999999997)" textLength="36" lengthAdjust="spacingAndGlyphs">Avidity Index, %</text>
<line x1="452.90" y1="429.40" x2="452.90" y2="522.70" stroke="#858585" stroke-width="0.85"/>
<line x1="451.50" y1="522.70" x2="452.90" y2="522.70" stroke="#231f20" stroke-width="0.5"/>
<text x="450.90" y="524.90" font-size="6.2" fill="#231f20" font-weight="normal" text-anchor="end">0</text>
<line x1="451.50" y1="499.38" x2="452.90" y2="499.38" stroke="#231f20" stroke-width="0.5"/>
<text x="450.90" y="501.58" font-size="6.2" fill="#231f20" font-weight="normal" text-anchor="end" textLength="11.80" lengthAdjust="spacingAndGlyphs">1000</text>
<line x1="451.50" y1="476.05" x2="452.90" y2="476.05" stroke="#231f20" stroke-width="0.5"/>
<text x="450.90" y="478.25" font-size="6.2" fill="#231f20" font-weight="normal" text-anchor="end" textLength="11.80" lengthAdjust="spacingAndGlyphs">2000</text>
<line x1="451.50" y1="452.73" x2="452.90" y2="452.73" stroke="#231f20" stroke-width="0.5"/>
<text x="450.90" y="454.93" font-size="6.2" fill="#231f20" font-weight="normal" text-anchor="end" textLength="11.80" lengthAdjust="spacingAndGlyphs">3000</text>
<line x1="451.50" y1="429.40" x2="452.90" y2="429.40" stroke="#231f20" stroke-width="0.5"/>
<text x="450.90" y="431.60" font-size="6.2" fill="#231f20" font-weight="normal" text-anchor="end" textLength="11.80" lengthAdjust="spacingAndGlyphs">4000</text>
<line x1="452.90" y1="522.70" x2="473.40" y2="522.70" stroke="#555" stroke-width="0.5"/>
<line x1="473.40" y1="521.40" x2="473.40" y2="523.60" stroke="#555" stroke-width="0.5"/>
<line x1="454.95" y1="522.70" x2="454.95" y2="521.90" stroke="#888" stroke-width="0.4"/>
<line x1="457.00" y1="522.70" x2="457.00" y2="521.90" stroke="#888" stroke-width="0.4"/>
<line x1="459.05" y1="522.70" x2="459.05" y2="521.90" stroke="#888" stroke-width="0.4"/>
<line x1="461.10" y1="522.70" x2="461.10" y2="521.90" stroke="#888" stroke-width="0.4"/>
<line x1="463.15" y1="522.70" x2="463.15" y2="521.90" stroke="#888" stroke-width="0.4"/>
<line x1="465.20" y1="522.70" x2="465.20" y2="521.90" stroke="#888" stroke-width="0.4"/>
<line x1="467.25" y1="522.70" x2="467.25" y2="521.90" stroke="#888" stroke-width="0.4"/>
<line x1="469.30" y1="522.70" x2="469.30" y2="521.90" stroke="#888" stroke-width="0.4"/>
<line x1="471.35" y1="522.70" x2="471.35" y2="521.90" stroke="#888" stroke-width="0.4"/>
<line x1="478.90" y1="522.70" x2="499.10" y2="522.70" stroke="#555" stroke-width="0.5"/>
<line x1="478.90" y1="521.40" x2="478.90" y2="523.60" stroke="#555" stroke-width="0.5"/>
<line x1="499.10" y1="521.40" x2="499.10" y2="523.60" stroke="#555" stroke-width="0.5"/>
<line x1="480.92" y1="522.70" x2="480.92" y2="521.90" stroke="#888" stroke-width="0.4"/>
<line x1="482.94" y1="522.70" x2="482.94" y2="521.90" stroke="#888" stroke-width="0.4"/>
<line x1="484.96" y1="522.70" x2="484.96" y2="521.90" stroke="#888" stroke-width="0.4"/>
<line x1="486.98" y1="522.70" x2="486.98" y2="521.90" stroke="#888" stroke-width="0.4"/>
<line x1="489.00" y1="522.70" x2="489.00" y2="521.90" stroke="#888" stroke-width="0.4"/>
<line x1="491.02" y1="522.70" x2="491.02" y2="521.90" stroke="#888" stroke-width="0.4"/>
<line x1="493.04" y1="522.70" x2="493.04" y2="521.90" stroke="#888" stroke-width="0.4"/>
<line x1="495.06" y1="522.70" x2="495.06" y2="521.90" stroke="#888" stroke-width="0.4"/>
<line x1="497.08" y1="522.70" x2="497.08" y2="521.90" stroke="#888" stroke-width="0.4"/>
<line x1="505.10" y1="522.70" x2="514.70" y2="522.70" stroke="#555" stroke-width="0.5"/>
<line x1="505.10" y1="521.40" x2="505.10" y2="523.60" stroke="#555" stroke-width="0.5"/>
<line x1="514.70" y1="521.40" x2="514.70" y2="523.60" stroke="#555" stroke-width="0.5"/>
<line x1="507.50" y1="522.70" x2="507.50" y2="521.90" stroke="#888" stroke-width="0.4"/>
<line x1="509.90" y1="522.70" x2="509.90" y2="521.90" stroke="#888" stroke-width="0.4"/>
<line x1="512.30" y1="522.70" x2="512.30" y2="521.90" stroke="#888" stroke-width="0.4"/>
<text x="452.90" y="529.30" font-size="6.2" fill="#231f20" font-weight="normal" text-anchor="middle">0</text>
<text x="463.30" y="529.30" font-size="6.2" fill="#231f20" font-weight="normal" text-anchor="middle">1</text>
<text x="473.40" y="529.30" font-size="6.2" fill="#231f20" font-weight="normal" text-anchor="middle">2</text>
<text x="478.90" y="529.30" font-size="6.2" fill="#231f20" font-weight="normal" text-anchor="middle">3</text>
<text x="489.00" y="529.30" font-size="6.2" fill="#231f20" font-weight="normal" text-anchor="middle">6</text>
<text x="499.10" y="529.30" font-size="6.2" fill="#231f20" font-weight="normal" text-anchor="middle">9</text>
<text x="505.10" y="529.30" font-size="6.2" fill="#231f20" font-weight="normal" text-anchor="middle" textLength="5.90" lengthAdjust="spacingAndGlyphs">12</text>
<text x="514.70" y="529.30" font-size="6.2" fill="#231f20" font-weight="normal" text-anchor="middle" textLength="5.90" lengthAdjust="spacingAndGlyphs">18</text>
<text x="436.30" y="476.10" font-size="5.9" fill="#231f20" font-weight="normal" text-anchor="middle" transform="rotate(-90 436.29999999999995 476.09999999999997)" textLength="37.7" lengthAdjust="spacingAndGlyphs">Phagocytic score</text>
<line x1="557.30" y1="430.00" x2="557.30" y2="522.90" stroke="#858585" stroke-width="0.85"/>
<line x1="555.90" y1="522.90" x2="557.30" y2="522.90" stroke="#231f20" stroke-width="0.5"/>
<text x="555.30" y="525.10" font-size="6.2" fill="#231f20" font-weight="normal" text-anchor="end">0</text>
<line x1="555.90" y1="504.32" x2="557.30" y2="504.32" stroke="#231f20" stroke-width="0.5"/>
<text x="555.30" y="506.52" font-size="6.2" fill="#231f20" font-weight="normal" text-anchor="end" textLength="11.80" lengthAdjust="spacingAndGlyphs">3000</text>
<line x1="555.90" y1="485.74" x2="557.30" y2="485.74" stroke="#231f20" stroke-width="0.5"/>
<text x="555.30" y="487.94" font-size="6.2" fill="#231f20" font-weight="normal" text-anchor="end" textLength="11.80" lengthAdjust="spacingAndGlyphs">6000</text>
<line x1="555.90" y1="467.16" x2="557.30" y2="467.16" stroke="#231f20" stroke-width="0.5"/>
<text x="555.30" y="469.36" font-size="6.2" fill="#231f20" font-weight="normal" text-anchor="end" textLength="11.80" lengthAdjust="spacingAndGlyphs">9000</text>
<line x1="555.90" y1="448.58" x2="557.30" y2="448.58" stroke="#231f20" stroke-width="0.5"/>
<text x="555.30" y="450.78" font-size="6.2" fill="#231f20" font-weight="normal" text-anchor="end" textLength="14.75" lengthAdjust="spacingAndGlyphs">12000</text>
<line x1="555.90" y1="430.00" x2="557.30" y2="430.00" stroke="#231f20" stroke-width="0.5"/>
<text x="555.30" y="432.20" font-size="6.2" fill="#231f20" font-weight="normal" text-anchor="end" textLength="14.75" lengthAdjust="spacingAndGlyphs">15000</text>
<line x1="557.30" y1="522.90" x2="577.80" y2="522.90" stroke="#555" stroke-width="0.5"/>
<line x1="577.80" y1="521.60" x2="577.80" y2="523.80" stroke="#555" stroke-width="0.5"/>
<line x1="559.35" y1="522.90" x2="559.35" y2="522.10" stroke="#888" stroke-width="0.4"/>
<line x1="561.40" y1="522.90" x2="561.40" y2="522.10" stroke="#888" stroke-width="0.4"/>
<line x1="563.45" y1="522.90" x2="563.45" y2="522.10" stroke="#888" stroke-width="0.4"/>
<line x1="565.50" y1="522.90" x2="565.50" y2="522.10" stroke="#888" stroke-width="0.4"/>
<line x1="567.55" y1="522.90" x2="567.55" y2="522.10" stroke="#888" stroke-width="0.4"/>
<line x1="569.60" y1="522.90" x2="569.60" y2="522.10" stroke="#888" stroke-width="0.4"/>
<line x1="571.65" y1="522.90" x2="571.65" y2="522.10" stroke="#888" stroke-width="0.4"/>
<line x1="573.70" y1="522.90" x2="573.70" y2="522.10" stroke="#888" stroke-width="0.4"/>
<line x1="575.75" y1="522.90" x2="575.75" y2="522.10" stroke="#888" stroke-width="0.4"/>
<line x1="583.30" y1="522.90" x2="603.50" y2="522.90" stroke="#555" stroke-width="0.5"/>
<line x1="583.30" y1="521.60" x2="583.30" y2="523.80" stroke="#555" stroke-width="0.5"/>
<line x1="603.50" y1="521.60" x2="603.50" y2="523.80" stroke="#555" stroke-width="0.5"/>
<line x1="585.32" y1="522.90" x2="585.32" y2="522.10" stroke="#888" stroke-width="0.4"/>
<line x1="587.34" y1="522.90" x2="587.34" y2="522.10" stroke="#888" stroke-width="0.4"/>
<line x1="589.36" y1="522.90" x2="589.36" y2="522.10" stroke="#888" stroke-width="0.4"/>
<line x1="591.38" y1="522.90" x2="591.38" y2="522.10" stroke="#888" stroke-width="0.4"/>
<line x1="593.40" y1="522.90" x2="593.40" y2="522.10" stroke="#888" stroke-width="0.4"/>
<line x1="595.42" y1="522.90" x2="595.42" y2="522.10" stroke="#888" stroke-width="0.4"/>
<line x1="597.44" y1="522.90" x2="597.44" y2="522.10" stroke="#888" stroke-width="0.4"/>
<line x1="599.46" y1="522.90" x2="599.46" y2="522.10" stroke="#888" stroke-width="0.4"/>
<line x1="601.48" y1="522.90" x2="601.48" y2="522.10" stroke="#888" stroke-width="0.4"/>
<line x1="609.50" y1="522.90" x2="619.10" y2="522.90" stroke="#555" stroke-width="0.5"/>
<line x1="609.50" y1="521.60" x2="609.50" y2="523.80" stroke="#555" stroke-width="0.5"/>
<line x1="619.10" y1="521.60" x2="619.10" y2="523.80" stroke="#555" stroke-width="0.5"/>
<line x1="611.90" y1="522.90" x2="611.90" y2="522.10" stroke="#888" stroke-width="0.4"/>
<line x1="614.30" y1="522.90" x2="614.30" y2="522.10" stroke="#888" stroke-width="0.4"/>
<line x1="616.70" y1="522.90" x2="616.70" y2="522.10" stroke="#888" stroke-width="0.4"/>
<text x="557.30" y="529.50" font-size="6.2" fill="#231f20" font-weight="normal" text-anchor="middle">0</text>
<text x="567.70" y="529.50" font-size="6.2" fill="#231f20" font-weight="normal" text-anchor="middle">1</text>
<text x="577.80" y="529.50" font-size="6.2" fill="#231f20" font-weight="normal" text-anchor="middle">2</text>
<text x="583.30" y="529.50" font-size="6.2" fill="#231f20" font-weight="normal" text-anchor="middle">3</text>
<text x="593.40" y="529.50" font-size="6.2" fill="#231f20" font-weight="normal" text-anchor="middle">6</text>
<text x="603.50" y="529.50" font-size="6.2" fill="#231f20" font-weight="normal" text-anchor="middle">9</text>
<text x="609.50" y="529.50" font-size="6.2" fill="#231f20" font-weight="normal" text-anchor="middle" textLength="5.90" lengthAdjust="spacingAndGlyphs">12</text>
<text x="619.10" y="529.50" font-size="6.2" fill="#231f20" font-weight="normal" text-anchor="middle" textLength="5.90" lengthAdjust="spacingAndGlyphs">18</text>
<text x="538.40" y="476.10" font-size="5.9" fill="#231f20" font-weight="normal" text-anchor="middle" transform="rotate(-90 538.4 476.09999999999997)" textLength="8.5" lengthAdjust="spacingAndGlyphs">MFI</text>
<circle cx="52.62" cy="340.35" r="1.85" fill="#f3dea6"/><circle cx="52.62" cy="350.05" r="1.85" fill="#f3dea6"/><circle cx="52.62" cy="354.21" r="1.85" fill="#f3dea6"/><circle cx="52.62" cy="356.29" r="1.85" fill="#f3dea6"/><circle cx="57.75" cy="316.78" r="1.85" fill="#f3dea6"/><circle cx="57.75" cy="319.97" r="1.85" fill="#f3dea6"/><circle cx="57.75" cy="327.18" r="1.85" fill="#f3dea6"/><circle cx="57.75" cy="330.64" r="1.85" fill="#f3dea6"/><circle cx="57.75" cy="336.61" r="1.85" fill="#f3dea6"/><circle cx="57.75" cy="340.76" r="1.85" fill="#f3dea6"/><circle cx="60.94" cy="323.30" r="1.85" fill="#f3dea6"/><circle cx="60.94" cy="334.11" r="1.85" fill="#f3dea6"/><circle cx="60.94" cy="340.35" r="1.85" fill="#f3dea6"/><circle cx="65.79" cy="318.17" r="1.85" fill="#f3dea6"/><circle cx="65.79" cy="331.61" r="1.85" fill="#f3dea6"/><circle cx="65.79" cy="334.80" r="1.85" fill="#f3dea6"/><circle cx="70.64" cy="327.87" r="1.85" fill="#f3dea6"/><circle cx="70.64" cy="332.03" r="1.85" fill="#f3dea6"/><circle cx="70.64" cy="336.88" r="1.85" fill="#f3dea6"/><circle cx="70.64" cy="338.96" r="1.85" fill="#f3dea6"/><circle cx="70.64" cy="341.32" r="1.85" fill="#f3dea6"/><circle cx="70.64" cy="345.89" r="1.85" fill="#f3dea6"/><circle cx="76.19" cy="322.33" r="1.85" fill="#f3dea6"/><circle cx="76.19" cy="332.03" r="1.85" fill="#f3dea6"/><circle cx="76.19" cy="336.19" r="1.85" fill="#f3dea6"/><circle cx="76.19" cy="340.76" r="1.85" fill="#f3dea6"/><circle cx="76.19" cy="348.67" r="1.85" fill="#f3dea6"/><circle cx="79.65" cy="327.87" r="1.85" fill="#f3dea6"/><circle cx="79.65" cy="330.64" r="1.85" fill="#f3dea6"/><circle cx="79.65" cy="335.22" r="1.85" fill="#f3dea6"/><circle cx="79.65" cy="339.38" r="1.85" fill="#f3dea6"/><circle cx="79.65" cy="348.67" r="1.85" fill="#f3dea6"/><circle cx="82.43" cy="332.03" r="1.85" fill="#f3dea6"/><circle cx="82.43" cy="336.88" r="1.85" fill="#f3dea6"/><circle cx="82.43" cy="341.73" r="1.85" fill="#f3dea6"/><circle cx="82.43" cy="346.59" r="1.85" fill="#f3dea6"/><circle cx="82.43" cy="348.67" r="1.85" fill="#f3dea6"/><circle cx="86.59" cy="327.87" r="1.85" fill="#f3dea6"/><circle cx="86.59" cy="334.11" r="1.85" fill="#f3dea6"/><circle cx="86.59" cy="339.65" r="1.85" fill="#f3dea6"/><circle cx="86.59" cy="344.51" r="1.85" fill="#f3dea6"/><circle cx="86.59" cy="348.67" r="1.85" fill="#f3dea6"/><circle cx="96.98" cy="335.50" r="1.85" fill="#f3dea6"/><circle cx="96.98" cy="338.27" r="1.85" fill="#f3dea6"/><circle cx="96.98" cy="344.51" r="1.85" fill="#f3dea6"/><circle cx="96.98" cy="349.36" r="1.85" fill="#f3dea6"/><circle cx="96.98" cy="350.74" r="1.85" fill="#f3dea6"/><circle cx="102.25" cy="330.37" r="1.85" fill="#f3dea6"/><circle cx="102.25" cy="343.81" r="1.85" fill="#f3dea6"/><circle cx="102.25" cy="350.05" r="1.85" fill="#f3dea6"/><circle cx="102.25" cy="356.57" r="1.85" fill="#f3dea6"/><circle cx="112.51" cy="330.64" r="1.85" fill="#f3dea6"/><circle cx="112.51" cy="332.72" r="1.85" fill="#f3dea6"/><circle cx="112.51" cy="337.16" r="1.85" fill="#f3dea6"/><circle cx="112.51" cy="350.05" r="1.85" fill="#f3dea6"/><circle cx="112.51" cy="356.57" r="1.85" fill="#f3dea6"/><circle cx="112.51" cy="392.61" r="1.85" fill="#f3dea6"/>
<circle cx="150.50" cy="343.15" r="1.85" fill="#f3dea6"/><circle cx="150.50" cy="356.80" r="1.85" fill="#f3dea6"/><circle cx="150.50" cy="392.59" r="1.85" fill="#f3dea6"/><circle cx="156.60" cy="317.47" r="1.85" fill="#f3dea6"/><circle cx="156.60" cy="323.89" r="1.85" fill="#f3dea6"/><circle cx="158.52" cy="317.47" r="1.85" fill="#f3dea6"/><circle cx="158.52" cy="323.89" r="1.85" fill="#f3dea6"/><circle cx="163.66" cy="317.47" r="1.85" fill="#f3dea6"/><circle cx="163.66" cy="323.89" r="1.85" fill="#f3dea6"/><circle cx="163.66" cy="330.63" r="1.85" fill="#f3dea6"/><circle cx="168.96" cy="323.89" r="1.85" fill="#f3dea6"/><circle cx="168.96" cy="337.05" r="1.85" fill="#f3dea6"/><circle cx="168.96" cy="343.48" r="1.85" fill="#f3dea6"/><circle cx="177.46" cy="330.63" r="1.85" fill="#f3dea6"/><circle cx="177.46" cy="337.05" r="1.85" fill="#f3dea6"/><circle cx="177.46" cy="338.34" r="1.85" fill="#f3dea6"/><circle cx="177.46" cy="343.48" r="1.85" fill="#f3dea6"/><circle cx="181.00" cy="330.63" r="1.85" fill="#f3dea6"/><circle cx="181.00" cy="337.05" r="1.85" fill="#f3dea6"/><circle cx="181.00" cy="343.48" r="1.85" fill="#f3dea6"/><circle cx="181.00" cy="350.38" r="1.85" fill="#f3dea6"/><circle cx="181.00" cy="356.80" r="1.85" fill="#f3dea6"/><circle cx="184.53" cy="330.63" r="1.85" fill="#f3dea6"/><circle cx="184.53" cy="337.05" r="1.85" fill="#f3dea6"/><circle cx="184.53" cy="350.38" r="1.85" fill="#f3dea6"/><circle cx="184.53" cy="356.80" r="1.85" fill="#f3dea6"/><circle cx="184.53" cy="392.59" r="1.85" fill="#f3dea6"/><circle cx="194.32" cy="330.63" r="1.85" fill="#f3dea6"/><circle cx="194.32" cy="337.05" r="1.85" fill="#f3dea6"/><circle cx="194.32" cy="350.38" r="1.85" fill="#f3dea6"/><circle cx="194.32" cy="356.80" r="1.85" fill="#f3dea6"/><circle cx="194.32" cy="392.59" r="1.85" fill="#f3dea6"/><circle cx="200.26" cy="330.63" r="1.85" fill="#f3dea6"/><circle cx="200.26" cy="337.05" r="1.85" fill="#f3dea6"/><circle cx="200.26" cy="343.48" r="1.85" fill="#f3dea6"/><circle cx="200.26" cy="392.59" r="1.85" fill="#f3dea6"/><circle cx="210.69" cy="337.05" r="1.85" fill="#f3dea6"/><circle cx="210.69" cy="356.80" r="1.85" fill="#f3dea6"/><circle cx="210.69" cy="392.59" r="1.85" fill="#f3dea6"/>
<circle cx="251.78" cy="337.05" r="1.85" fill="#f3dea6"/><circle cx="251.78" cy="343.48" r="1.85" fill="#f3dea6"/><circle cx="251.78" cy="356.80" r="1.85" fill="#f3dea6"/><circle cx="251.78" cy="392.59" r="1.85" fill="#f3dea6"/><circle cx="256.92" cy="317.47" r="1.85" fill="#f3dea6"/><circle cx="256.92" cy="323.89" r="1.85" fill="#f3dea6"/><circle cx="256.92" cy="330.63" r="1.85" fill="#f3dea6"/><circle cx="256.92" cy="337.05" r="1.85" fill="#f3dea6"/><circle cx="256.92" cy="343.48" r="1.85" fill="#f3dea6"/><circle cx="260.13" cy="317.47" r="1.85" fill="#f3dea6"/><circle cx="260.13" cy="323.89" r="1.85" fill="#f3dea6"/><circle cx="260.13" cy="330.63" r="1.85" fill="#f3dea6"/><circle cx="260.13" cy="343.48" r="1.85" fill="#f3dea6"/><circle cx="265.26" cy="317.47" r="1.85" fill="#f3dea6"/><circle cx="265.26" cy="323.89" r="1.85" fill="#f3dea6"/><circle cx="265.26" cy="330.63" r="1.85" fill="#f3dea6"/><circle cx="270.56" cy="317.47" r="1.85" fill="#f3dea6"/><circle cx="270.56" cy="323.89" r="1.85" fill="#f3dea6"/><circle cx="270.56" cy="330.63" r="1.85" fill="#f3dea6"/><circle cx="270.56" cy="337.05" r="1.85" fill="#f3dea6"/><circle cx="279.07" cy="317.47" r="1.85" fill="#f3dea6"/><circle cx="279.07" cy="323.89" r="1.85" fill="#f3dea6"/><circle cx="279.07" cy="330.63" r="1.85" fill="#f3dea6"/><circle cx="279.07" cy="337.05" r="1.85" fill="#f3dea6"/><circle cx="282.60" cy="323.89" r="1.85" fill="#f3dea6"/><circle cx="282.60" cy="330.63" r="1.85" fill="#f3dea6"/><circle cx="282.60" cy="337.05" r="1.85" fill="#f3dea6"/><circle cx="282.60" cy="343.48" r="1.85" fill="#f3dea6"/><circle cx="282.60" cy="392.59" r="1.85" fill="#f3dea6"/><circle cx="285.81" cy="323.89" r="1.85" fill="#f3dea6"/><circle cx="285.81" cy="330.63" r="1.85" fill="#f3dea6"/><circle cx="285.81" cy="337.05" r="1.85" fill="#f3dea6"/><circle cx="285.81" cy="343.48" r="1.85" fill="#f3dea6"/><circle cx="285.81" cy="356.80" r="1.85" fill="#f3dea6"/><circle cx="296.24" cy="323.89" r="1.85" fill="#f3dea6"/><circle cx="296.24" cy="330.63" r="1.85" fill="#f3dea6"/><circle cx="296.24" cy="337.05" r="1.85" fill="#f3dea6"/><circle cx="296.24" cy="350.38" r="1.85" fill="#f3dea6"/><circle cx="296.24" cy="356.80" r="1.85" fill="#f3dea6"/><circle cx="296.24" cy="392.59" r="1.85" fill="#f3dea6"/><circle cx="301.54" cy="337.05" r="1.85" fill="#f3dea6"/><circle cx="301.54" cy="343.48" r="1.85" fill="#f3dea6"/><circle cx="301.54" cy="356.80" r="1.85" fill="#f3dea6"/><circle cx="301.54" cy="392.59" r="1.85" fill="#f3dea6"/><circle cx="311.81" cy="323.89" r="1.85" fill="#f3dea6"/><circle cx="311.81" cy="343.48" r="1.85" fill="#f3dea6"/><circle cx="311.81" cy="350.38" r="1.85" fill="#f3dea6"/><circle cx="311.81" cy="356.80" r="1.85" fill="#f3dea6"/><circle cx="311.81" cy="392.59" r="1.85" fill="#f3dea6"/>
<circle cx="352.91" cy="395.32" r="1.85" fill="#f3dea6"/><circle cx="357.72" cy="361.13" r="1.85" fill="#f3dea6"/><circle cx="357.72" cy="383.28" r="1.85" fill="#f3dea6"/><circle cx="357.72" cy="387.30" r="1.85" fill="#f3dea6"/><circle cx="357.72" cy="389.70" r="1.85" fill="#f3dea6"/><circle cx="357.72" cy="391.31" r="1.85" fill="#f3dea6"/><circle cx="357.72" cy="392.91" r="1.85" fill="#f3dea6"/><circle cx="357.72" cy="395.32" r="1.85" fill="#f3dea6"/><circle cx="360.93" cy="372.37" r="1.85" fill="#f3dea6"/><circle cx="360.93" cy="386.49" r="1.85" fill="#f3dea6"/><circle cx="360.93" cy="389.70" r="1.85" fill="#f3dea6"/><circle cx="360.93" cy="391.31" r="1.85" fill="#f3dea6"/><circle cx="360.93" cy="395.32" r="1.85" fill="#f3dea6"/><circle cx="366.23" cy="369.64" r="1.85" fill="#f3dea6"/><circle cx="366.23" cy="373.17" r="1.85" fill="#f3dea6"/><circle cx="366.23" cy="378.15" r="1.85" fill="#f3dea6"/><circle cx="366.23" cy="384.09" r="1.85" fill="#f3dea6"/><circle cx="366.23" cy="387.30" r="1.85" fill="#f3dea6"/><circle cx="366.23" cy="389.70" r="1.85" fill="#f3dea6"/><circle cx="366.23" cy="392.11" r="1.85" fill="#f3dea6"/><circle cx="366.23" cy="394.52" r="1.85" fill="#f3dea6"/><circle cx="371.36" cy="381.36" r="1.85" fill="#f3dea6"/><circle cx="371.36" cy="384.89" r="1.85" fill="#f3dea6"/><circle cx="371.36" cy="392.91" r="1.85" fill="#f3dea6"/><circle cx="371.36" cy="395.32" r="1.85" fill="#f3dea6"/><circle cx="380.19" cy="351.50" r="1.85" fill="#f3dea6"/><circle cx="380.19" cy="374.45" r="1.85" fill="#f3dea6"/><circle cx="380.19" cy="376.06" r="1.85" fill="#f3dea6"/><circle cx="380.19" cy="381.68" r="1.85" fill="#f3dea6"/><circle cx="380.19" cy="384.09" r="1.85" fill="#f3dea6"/><circle cx="380.19" cy="387.30" r="1.85" fill="#f3dea6"/><circle cx="380.19" cy="391.31" r="1.85" fill="#f3dea6"/><circle cx="383.40" cy="329.51" r="1.85" fill="#f3dea6"/><circle cx="383.40" cy="356.80" r="1.85" fill="#f3dea6"/><circle cx="383.40" cy="359.21" r="1.85" fill="#f3dea6"/><circle cx="383.40" cy="369.64" r="1.85" fill="#f3dea6"/><circle cx="383.40" cy="373.65" r="1.85" fill="#f3dea6"/><circle cx="383.40" cy="376.86" r="1.85" fill="#f3dea6"/><circle cx="383.40" cy="388.10" r="1.85" fill="#f3dea6"/><circle cx="383.40" cy="395.32" r="1.85" fill="#f3dea6"/><circle cx="387.42" cy="357.60" r="1.85" fill="#f3dea6"/><circle cx="387.42" cy="376.86" r="1.85" fill="#f3dea6"/><circle cx="387.42" cy="391.31" r="1.85" fill="#f3dea6"/><circle cx="387.42" cy="395.32" r="1.85" fill="#f3dea6"/><circle cx="397.53" cy="333.52" r="1.85" fill="#f3dea6"/><circle cx="397.53" cy="390.51" r="1.85" fill="#f3dea6"/><circle cx="397.53" cy="395.32" r="1.85" fill="#f3dea6"/><circle cx="402.66" cy="395.32" r="1.85" fill="#f3dea6"/><circle cx="413.10" cy="390.51" r="1.85" fill="#f3dea6"/><circle cx="413.10" cy="395.32" r="1.85" fill="#f3dea6"/>
<circle cx="454.51" cy="380.87" r="1.85" fill="#f3dea6"/><circle cx="454.51" cy="384.89" r="1.85" fill="#f3dea6"/><circle cx="454.51" cy="394.84" r="1.85" fill="#f3dea6"/><circle cx="460.13" cy="324.21" r="1.85" fill="#f3dea6"/><circle cx="460.13" cy="355.19" r="1.85" fill="#f3dea6"/><circle cx="460.13" cy="357.60" r="1.85" fill="#f3dea6"/><circle cx="460.13" cy="360.81" r="1.85" fill="#f3dea6"/><circle cx="460.13" cy="367.23" r="1.85" fill="#f3dea6"/><circle cx="460.13" cy="378.47" r="1.85" fill="#f3dea6"/><circle cx="460.13" cy="382.48" r="1.85" fill="#f3dea6"/><circle cx="463.02" cy="351.98" r="1.85" fill="#f3dea6"/><circle cx="463.02" cy="363.22" r="1.85" fill="#f3dea6"/><circle cx="463.02" cy="367.23" r="1.85" fill="#f3dea6"/><circle cx="463.02" cy="376.06" r="1.85" fill="#f3dea6"/><circle cx="463.02" cy="378.47" r="1.85" fill="#f3dea6"/><circle cx="463.02" cy="380.07" r="1.85" fill="#f3dea6"/><circle cx="468.15" cy="341.55" r="1.85" fill="#f3dea6"/><circle cx="468.15" cy="344.76" r="1.85" fill="#f3dea6"/><circle cx="468.15" cy="347.97" r="1.85" fill="#f3dea6"/><circle cx="468.15" cy="351.98" r="1.85" fill="#f3dea6"/><circle cx="468.15" cy="356.00" r="1.85" fill="#f3dea6"/><circle cx="468.15" cy="376.86" r="1.85" fill="#f3dea6"/><circle cx="468.15" cy="379.27" r="1.85" fill="#f3dea6"/><circle cx="468.15" cy="382.48" r="1.85" fill="#f3dea6"/><circle cx="473.29" cy="347.97" r="1.85" fill="#f3dea6"/><circle cx="473.29" cy="356.00" r="1.85" fill="#f3dea6"/><circle cx="473.29" cy="365.63" r="1.85" fill="#f3dea6"/><circle cx="473.29" cy="368.84" r="1.85" fill="#f3dea6"/><circle cx="473.29" cy="389.70" r="1.85" fill="#f3dea6"/><circle cx="473.29" cy="394.52" r="1.85" fill="#f3dea6"/><circle cx="478.59" cy="358.40" r="1.85" fill="#f3dea6"/><circle cx="478.59" cy="365.63" r="1.85" fill="#f3dea6"/><circle cx="478.59" cy="368.84" r="1.85" fill="#f3dea6"/><circle cx="478.59" cy="380.07" r="1.85" fill="#f3dea6"/><circle cx="478.59" cy="394.52" r="1.85" fill="#f3dea6"/><circle cx="482.28" cy="349.57" r="1.85" fill="#f3dea6"/><circle cx="482.28" cy="359.21" r="1.85" fill="#f3dea6"/><circle cx="482.28" cy="376.86" r="1.85" fill="#f3dea6"/><circle cx="482.28" cy="383.28" r="1.85" fill="#f3dea6"/><circle cx="482.28" cy="394.52" r="1.85" fill="#f3dea6"/><circle cx="485.81" cy="348.77" r="1.85" fill="#f3dea6"/><circle cx="485.81" cy="364.82" r="1.85" fill="#f3dea6"/><circle cx="485.81" cy="372.05" r="1.85" fill="#f3dea6"/><circle cx="485.81" cy="376.86" r="1.85" fill="#f3dea6"/><circle cx="485.81" cy="394.52" r="1.85" fill="#f3dea6"/><circle cx="489.02" cy="359.21" r="1.85" fill="#f3dea6"/><circle cx="489.02" cy="364.02" r="1.85" fill="#f3dea6"/><circle cx="489.02" cy="372.85" r="1.85" fill="#f3dea6"/><circle cx="489.02" cy="392.11" r="1.85" fill="#f3dea6"/><circle cx="489.02" cy="394.52" r="1.85" fill="#f3dea6"/><circle cx="499.13" cy="335.13" r="1.85" fill="#f3dea6"/><circle cx="499.13" cy="370.44" r="1.85" fill="#f3dea6"/><circle cx="499.13" cy="376.06" r="1.85" fill="#f3dea6"/><circle cx="499.13" cy="393.72" r="1.85" fill="#f3dea6"/><circle cx="504.75" cy="343.15" r="1.85" fill="#f3dea6"/><circle cx="504.75" cy="359.21" r="1.85" fill="#f3dea6"/><circle cx="504.75" cy="368.03" r="1.85" fill="#f3dea6"/><circle cx="504.75" cy="372.05" r="1.85" fill="#f3dea6"/><circle cx="504.75" cy="376.06" r="1.85" fill="#f3dea6"/><circle cx="504.75" cy="389.70" r="1.85" fill="#f3dea6"/><circle cx="504.75" cy="392.11" r="1.85" fill="#f3dea6"/><circle cx="504.75" cy="394.52" r="1.85" fill="#f3dea6"/><circle cx="515.02" cy="364.02" r="1.85" fill="#f3dea6"/><circle cx="515.02" cy="376.86" r="1.85" fill="#f3dea6"/><circle cx="515.02" cy="384.09" r="1.85" fill="#f3dea6"/><circle cx="515.02" cy="386.49" r="1.85" fill="#f3dea6"/><circle cx="515.02" cy="392.91" r="1.85" fill="#f3dea6"/><circle cx="515.02" cy="395.32" r="1.85" fill="#f3dea6"/>
<circle cx="559.51" cy="352.19" r="1.85" fill="#f3dea6"/><circle cx="559.51" cy="355.66" r="1.85" fill="#f3dea6"/><circle cx="559.51" cy="360.86" r="1.85" fill="#f3dea6"/><circle cx="559.51" cy="363.46" r="1.85" fill="#f3dea6"/><circle cx="559.51" cy="366.06" r="1.85" fill="#f3dea6"/><circle cx="559.51" cy="367.79" r="1.85" fill="#f3dea6"/><circle cx="559.51" cy="370.39" r="1.85" fill="#f3dea6"/><circle cx="559.51" cy="374.72" r="1.85" fill="#f3dea6"/><circle cx="559.51" cy="386.85" r="1.85" fill="#f3dea6"/><circle cx="564.19" cy="324.46" r="1.85" fill="#f3dea6"/><circle cx="564.19" cy="327.93" r="1.85" fill="#f3dea6"/><circle cx="564.19" cy="331.40" r="1.85" fill="#f3dea6"/><circle cx="564.19" cy="334.86" r="1.85" fill="#f3dea6"/><circle cx="564.19" cy="338.33" r="1.85" fill="#f3dea6"/><circle cx="564.19" cy="341.79" r="1.85" fill="#f3dea6"/><circle cx="564.19" cy="345.26" r="1.85" fill="#f3dea6"/><circle cx="564.19" cy="348.73" r="1.85" fill="#f3dea6"/><circle cx="564.19" cy="353.93" r="1.85" fill="#f3dea6"/><circle cx="564.19" cy="379.92" r="1.85" fill="#f3dea6"/><circle cx="567.14" cy="324.46" r="1.85" fill="#f3dea6"/><circle cx="567.14" cy="327.93" r="1.85" fill="#f3dea6"/><circle cx="567.14" cy="331.40" r="1.85" fill="#f3dea6"/><circle cx="567.14" cy="335.73" r="1.85" fill="#f3dea6"/><circle cx="567.14" cy="339.19" r="1.85" fill="#f3dea6"/><circle cx="567.14" cy="343.53" r="1.85" fill="#f3dea6"/><circle cx="567.14" cy="348.73" r="1.85" fill="#f3dea6"/><circle cx="567.14" cy="353.93" r="1.85" fill="#f3dea6"/><circle cx="567.14" cy="360.86" r="1.85" fill="#f3dea6"/><circle cx="567.14" cy="362.59" r="1.85" fill="#f3dea6"/><circle cx="572.34" cy="320.13" r="1.85" fill="#f3dea6"/><circle cx="572.34" cy="326.20" r="1.85" fill="#f3dea6"/><circle cx="572.34" cy="336.59" r="1.85" fill="#f3dea6"/><circle cx="572.34" cy="340.06" r="1.85" fill="#f3dea6"/><circle cx="572.34" cy="345.26" r="1.85" fill="#f3dea6"/><circle cx="572.34" cy="349.59" r="1.85" fill="#f3dea6"/><circle cx="572.34" cy="353.93" r="1.85" fill="#f3dea6"/><circle cx="577.54" cy="341.79" r="1.85" fill="#f3dea6"/><circle cx="577.54" cy="345.26" r="1.85" fill="#f3dea6"/><circle cx="577.54" cy="350.46" r="1.85" fill="#f3dea6"/><circle cx="577.54" cy="355.66" r="1.85" fill="#f3dea6"/><circle cx="577.54" cy="359.99" r="1.85" fill="#f3dea6"/><circle cx="577.54" cy="365.19" r="1.85" fill="#f3dea6"/><circle cx="583.26" cy="338.33" r="1.85" fill="#f3dea6"/><circle cx="583.26" cy="342.66" r="1.85" fill="#f3dea6"/><circle cx="583.26" cy="346.13" r="1.85" fill="#f3dea6"/><circle cx="583.26" cy="350.46" r="1.85" fill="#f3dea6"/><circle cx="583.26" cy="354.79" r="1.85" fill="#f3dea6"/><circle cx="583.26" cy="360.86" r="1.85" fill="#f3dea6"/><circle cx="583.26" cy="365.19" r="1.85" fill="#f3dea6"/><circle cx="586.72" cy="321.86" r="1.85" fill="#f3dea6"/><circle cx="586.72" cy="340.93" r="1.85" fill="#f3dea6"/><circle cx="586.72" cy="346.13" r="1.85" fill="#f3dea6"/><circle cx="586.72" cy="353.93" r="1.85" fill="#f3dea6"/><circle cx="586.72" cy="366.92" r="1.85" fill="#f3dea6"/><circle cx="586.72" cy="369.52" r="1.85" fill="#f3dea6"/><circle cx="586.72" cy="378.19" r="1.85" fill="#f3dea6"/><circle cx="590.19" cy="341.79" r="1.85" fill="#f3dea6"/><circle cx="590.19" cy="350.46" r="1.85" fill="#f3dea6"/><circle cx="590.19" cy="354.79" r="1.85" fill="#f3dea6"/><circle cx="590.19" cy="359.12" r="1.85" fill="#f3dea6"/><circle cx="590.19" cy="362.59" r="1.85" fill="#f3dea6"/><circle cx="590.19" cy="366.06" r="1.85" fill="#f3dea6"/><circle cx="590.19" cy="372.99" r="1.85" fill="#f3dea6"/><circle cx="590.19" cy="374.72" r="1.85" fill="#f3dea6"/><circle cx="593.66" cy="334.86" r="1.85" fill="#f3dea6"/><circle cx="593.66" cy="341.79" r="1.85" fill="#f3dea6"/><circle cx="593.66" cy="350.46" r="1.85" fill="#f3dea6"/><circle cx="593.66" cy="354.79" r="1.85" fill="#f3dea6"/><circle cx="593.66" cy="359.99" r="1.85" fill="#f3dea6"/><circle cx="593.66" cy="365.19" r="1.85" fill="#f3dea6"/><circle cx="593.66" cy="376.46" r="1.85" fill="#f3dea6"/><circle cx="604.06" cy="311.46" r="1.85" fill="#f3dea6"/><circle cx="604.06" cy="346.13" r="1.85" fill="#f3dea6"/><circle cx="604.06" cy="347.86" r="1.85" fill="#f3dea6"/><circle cx="604.06" cy="355.66" r="1.85" fill="#f3dea6"/><circle cx="604.06" cy="359.12" r="1.85" fill="#f3dea6"/><circle cx="604.06" cy="366.92" r="1.85" fill="#f3dea6"/><circle cx="604.06" cy="369.52" r="1.85" fill="#f3dea6"/><circle cx="604.06" cy="372.99" r="1.85" fill="#f3dea6"/><circle cx="604.06" cy="376.46" r="1.85" fill="#f3dea6"/><circle cx="604.06" cy="381.66" r="1.85" fill="#f3dea6"/><circle cx="609.60" cy="321.86" r="1.85" fill="#f3dea6"/><circle cx="609.60" cy="333.99" r="1.85" fill="#f3dea6"/><circle cx="609.60" cy="344.39" r="1.85" fill="#f3dea6"/><circle cx="609.60" cy="349.59" r="1.85" fill="#f3dea6"/><circle cx="609.60" cy="353.93" r="1.85" fill="#f3dea6"/><circle cx="609.60" cy="367.79" r="1.85" fill="#f3dea6"/><circle cx="609.60" cy="381.66" r="1.85" fill="#f3dea6"/><circle cx="609.60" cy="383.39" r="1.85" fill="#f3dea6"/><circle cx="609.60" cy="386.85" r="1.85" fill="#f3dea6"/><circle cx="609.60" cy="392.05" r="1.85" fill="#f3dea6"/><circle cx="619.65" cy="324.46" r="1.85" fill="#f3dea6"/><circle cx="619.65" cy="334.86" r="1.85" fill="#f3dea6"/><circle cx="619.65" cy="336.59" r="1.85" fill="#f3dea6"/><circle cx="619.65" cy="355.66" r="1.85" fill="#f3dea6"/><circle cx="619.65" cy="357.39" r="1.85" fill="#f3dea6"/><circle cx="619.65" cy="365.19" r="1.85" fill="#f3dea6"/><circle cx="619.65" cy="380.79" r="1.85" fill="#f3dea6"/><circle cx="619.65" cy="385.99" r="1.85" fill="#f3dea6"/><circle cx="619.65" cy="387.72" r="1.85" fill="#f3dea6"/><circle cx="619.65" cy="390.32" r="1.85" fill="#f3dea6"/><circle cx="619.65" cy="392.05" r="1.85" fill="#f3dea6"/>
<polyline points="52.10,346.40 57.70,322.30 60.90,331.10 65.70,328.20 71.00,335.10 76.20,333.50 80.20,333.00 83.40,337.50 86.60,337.00 96.70,340.00 102.70,342.70 112.30,340.70" fill="none" stroke="#e9772c" stroke-width="1.4" stroke-linejoin="round" stroke-linecap="round"/>
<polyline points="150.20,349.60 155.60,319.90 163.70,320.40 169.00,328.20 177.50,336.40 181.50,334.80 184.20,337.00 194.30,336.40 200.30,334.80 210.70,341.20" fill="none" stroke="#e9772c" stroke-width="1.4" stroke-linejoin="round" stroke-linecap="round"/>
<polyline points="251.30,344.00 257.20,323.90 260.10,323.10 264.90,322.60 270.60,326.30 278.60,325.50 285.80,333.00 296.20,332.20 301.50,342.70 311.50,337.00" fill="none" stroke="#e9772c" stroke-width="1.4" stroke-linejoin="round" stroke-linecap="round"/>
<polyline points="357.20,388.10 366.50,386.20 371.40,387.30 380.20,377.70 383.40,364.30 386.10,373.70 397.50,361.30 413.10,390.50" fill="none" stroke="#e9772c" stroke-width="1.4" stroke-linejoin="round" stroke-linecap="round"/>
<polyline points="454.20,394.80 460.10,365.60 463.00,372.80 468.20,362.70 473.30,374.80 478.60,376.90 482.60,382.50 489.00,385.70 499.10,384.40 504.80,384.90 515.00,390.50" fill="none" stroke="#e9772c" stroke-width="1.4" stroke-linejoin="round" stroke-linecap="round"/>
<polyline points="559.00,365.20 564.20,345.30 567.70,342.10 572.00,340.90 577.50,351.30 583.30,351.30 590.20,359.10 593.70,354.80 604.10,360.00 609.30,365.20 619.70,369.50" fill="none" stroke="#e9772c" stroke-width="1.4" stroke-linejoin="round" stroke-linecap="round"/>
<circle cx="52.72" cy="451.04" r="1.85" fill="#84c8bb"/><circle cx="52.72" cy="459.43" r="1.85" fill="#84c8bb"/><circle cx="52.72" cy="461.95" r="1.85" fill="#84c8bb"/><circle cx="52.72" cy="467.82" r="1.85" fill="#84c8bb"/><circle cx="57.75" cy="442.65" r="1.85" fill="#84c8bb"/><circle cx="57.75" cy="451.04" r="1.85" fill="#84c8bb"/><circle cx="60.77" cy="451.04" r="1.85" fill="#84c8bb"/><circle cx="60.77" cy="459.43" r="1.85" fill="#84c8bb"/><circle cx="60.77" cy="461.95" r="1.85" fill="#84c8bb"/><circle cx="65.64" cy="451.04" r="1.85" fill="#84c8bb"/><circle cx="65.64" cy="454.40" r="1.85" fill="#84c8bb"/><circle cx="65.64" cy="459.43" r="1.85" fill="#84c8bb"/><circle cx="70.67" cy="451.04" r="1.85" fill="#84c8bb"/><circle cx="70.67" cy="457.75" r="1.85" fill="#84c8bb"/><circle cx="70.67" cy="460.27" r="1.85" fill="#84c8bb"/><circle cx="76.54" cy="445.17" r="1.85" fill="#84c8bb"/><circle cx="76.54" cy="451.04" r="1.85" fill="#84c8bb"/><circle cx="76.54" cy="457.75" r="1.85" fill="#84c8bb"/><circle cx="76.54" cy="464.46" r="1.85" fill="#84c8bb"/><circle cx="79.90" cy="451.04" r="1.85" fill="#84c8bb"/><circle cx="79.90" cy="460.27" r="1.85" fill="#84c8bb"/><circle cx="79.90" cy="464.46" r="1.85" fill="#84c8bb"/><circle cx="83.26" cy="457.75" r="1.85" fill="#84c8bb"/><circle cx="83.26" cy="464.46" r="1.85" fill="#84c8bb"/><circle cx="83.26" cy="471.17" r="1.85" fill="#84c8bb"/><circle cx="86.78" cy="460.27" r="1.85" fill="#84c8bb"/><circle cx="86.78" cy="464.46" r="1.85" fill="#84c8bb"/><circle cx="86.78" cy="467.82" r="1.85" fill="#84c8bb"/><circle cx="96.85" cy="460.27" r="1.85" fill="#84c8bb"/><circle cx="96.85" cy="461.95" r="1.85" fill="#84c8bb"/><circle cx="96.85" cy="466.14" r="1.85" fill="#84c8bb"/><circle cx="96.85" cy="468.66" r="1.85" fill="#84c8bb"/><circle cx="96.85" cy="471.17" r="1.85" fill="#84c8bb"/><circle cx="96.85" cy="474.53" r="1.85" fill="#84c8bb"/><circle cx="96.85" cy="479.56" r="1.85" fill="#84c8bb"/><circle cx="102.55" cy="464.46" r="1.85" fill="#84c8bb"/><circle cx="102.55" cy="471.17" r="1.85" fill="#84c8bb"/><circle cx="102.55" cy="477.89" r="1.85" fill="#84c8bb"/><circle cx="102.55" cy="484.26" r="1.85" fill="#84c8bb"/>
<circle cx="150.54" cy="445.17" r="1.85" fill="#84c8bb"/><circle cx="150.54" cy="451.38" r="1.85" fill="#84c8bb"/><circle cx="155.57" cy="445.17" r="1.85" fill="#84c8bb"/><circle cx="155.57" cy="451.38" r="1.85" fill="#84c8bb"/><circle cx="155.57" cy="458.26" r="1.85" fill="#84c8bb"/><circle cx="155.57" cy="464.80" r="1.85" fill="#84c8bb"/><circle cx="158.93" cy="445.17" r="1.85" fill="#84c8bb"/><circle cx="158.93" cy="451.38" r="1.85" fill="#84c8bb"/><circle cx="158.93" cy="458.26" r="1.85" fill="#84c8bb"/><circle cx="163.96" cy="445.17" r="1.85" fill="#84c8bb"/><circle cx="163.96" cy="451.38" r="1.85" fill="#84c8bb"/><circle cx="163.96" cy="458.26" r="1.85" fill="#84c8bb"/><circle cx="168.99" cy="445.17" r="1.85" fill="#84c8bb"/><circle cx="168.99" cy="451.38" r="1.85" fill="#84c8bb"/><circle cx="168.99" cy="458.26" r="1.85" fill="#84c8bb"/><circle cx="168.99" cy="464.80" r="1.85" fill="#84c8bb"/><circle cx="174.03" cy="445.17" r="1.85" fill="#84c8bb"/><circle cx="174.03" cy="451.38" r="1.85" fill="#84c8bb"/><circle cx="174.03" cy="458.26" r="1.85" fill="#84c8bb"/><circle cx="174.03" cy="464.80" r="1.85" fill="#84c8bb"/><circle cx="177.89" cy="445.17" r="1.85" fill="#84c8bb"/><circle cx="177.89" cy="451.38" r="1.85" fill="#84c8bb"/><circle cx="177.89" cy="458.26" r="1.85" fill="#84c8bb"/><circle cx="181.24" cy="445.17" r="1.85" fill="#84c8bb"/><circle cx="181.24" cy="451.38" r="1.85" fill="#84c8bb"/><circle cx="181.24" cy="458.26" r="1.85" fill="#84c8bb"/><circle cx="181.24" cy="464.80" r="1.85" fill="#84c8bb"/><circle cx="184.60" cy="445.17" r="1.85" fill="#84c8bb"/><circle cx="184.60" cy="451.38" r="1.85" fill="#84c8bb"/><circle cx="184.60" cy="458.26" r="1.85" fill="#84c8bb"/><circle cx="184.60" cy="464.80" r="1.85" fill="#84c8bb"/><circle cx="194.66" cy="445.17" r="1.85" fill="#84c8bb"/><circle cx="194.66" cy="451.38" r="1.85" fill="#84c8bb"/><circle cx="194.66" cy="458.26" r="1.85" fill="#84c8bb"/><circle cx="194.66" cy="464.80" r="1.85" fill="#84c8bb"/><circle cx="194.66" cy="471.17" r="1.85" fill="#84c8bb"/><circle cx="194.66" cy="477.89" r="1.85" fill="#84c8bb"/><circle cx="200.20" cy="458.26" r="1.85" fill="#84c8bb"/><circle cx="200.20" cy="464.80" r="1.85" fill="#84c8bb"/><circle cx="200.20" cy="484.26" r="1.85" fill="#84c8bb"/>
<circle cx="251.88" cy="445.17" r="1.85" fill="#84c8bb"/><circle cx="251.88" cy="451.38" r="1.85" fill="#84c8bb"/><circle cx="256.91" cy="445.17" r="1.85" fill="#84c8bb"/><circle cx="256.91" cy="451.38" r="1.85" fill="#84c8bb"/><circle cx="259.93" cy="445.17" r="1.85" fill="#84c8bb"/><circle cx="259.93" cy="451.38" r="1.85" fill="#84c8bb"/><circle cx="259.93" cy="458.26" r="1.85" fill="#84c8bb"/><circle cx="264.97" cy="445.17" r="1.85" fill="#84c8bb"/><circle cx="264.97" cy="451.38" r="1.85" fill="#84c8bb"/><circle cx="270.34" cy="445.17" r="1.85" fill="#84c8bb"/><circle cx="270.34" cy="451.38" r="1.85" fill="#84c8bb"/><circle cx="270.34" cy="458.26" r="1.85" fill="#84c8bb"/><circle cx="275.70" cy="445.17" r="1.85" fill="#84c8bb"/><circle cx="275.70" cy="451.38" r="1.85" fill="#84c8bb"/><circle cx="279.06" cy="445.17" r="1.85" fill="#84c8bb"/><circle cx="279.06" cy="451.38" r="1.85" fill="#84c8bb"/><circle cx="282.58" cy="445.17" r="1.85" fill="#84c8bb"/><circle cx="282.58" cy="451.38" r="1.85" fill="#84c8bb"/><circle cx="282.58" cy="464.46" r="1.85" fill="#84c8bb"/><circle cx="282.58" cy="466.14" r="1.85" fill="#84c8bb"/><circle cx="286.28" cy="445.17" r="1.85" fill="#84c8bb"/><circle cx="286.28" cy="451.38" r="1.85" fill="#84c8bb"/><circle cx="286.28" cy="464.46" r="1.85" fill="#84c8bb"/><circle cx="296.34" cy="451.38" r="1.85" fill="#84c8bb"/><circle cx="296.34" cy="458.26" r="1.85" fill="#84c8bb"/><circle cx="296.34" cy="464.46" r="1.85" fill="#84c8bb"/><circle cx="301.88" cy="445.17" r="1.85" fill="#84c8bb"/><circle cx="301.88" cy="458.26" r="1.85" fill="#84c8bb"/><circle cx="301.88" cy="464.46" r="1.85" fill="#84c8bb"/><circle cx="301.88" cy="471.17" r="1.85" fill="#84c8bb"/>
<circle cx="352.72" cy="475.70" r="1.85" fill="#84c8bb"/><circle cx="352.72" cy="480.40" r="1.85" fill="#84c8bb"/><circle cx="352.72" cy="493.83" r="1.85" fill="#84c8bb"/><circle cx="352.72" cy="498.02" r="1.85" fill="#84c8bb"/><circle cx="352.72" cy="502.21" r="1.85" fill="#84c8bb"/><circle cx="352.72" cy="505.57" r="1.85" fill="#84c8bb"/><circle cx="352.72" cy="508.09" r="1.85" fill="#84c8bb"/><circle cx="352.72" cy="510.60" r="1.85" fill="#84c8bb"/><circle cx="352.72" cy="511.95" r="1.85" fill="#84c8bb"/><circle cx="358.26" cy="482.92" r="1.85" fill="#84c8bb"/><circle cx="358.26" cy="485.44" r="1.85" fill="#84c8bb"/><circle cx="358.26" cy="488.79" r="1.85" fill="#84c8bb"/><circle cx="358.26" cy="493.83" r="1.85" fill="#84c8bb"/><circle cx="358.26" cy="495.50" r="1.85" fill="#84c8bb"/><circle cx="358.26" cy="498.86" r="1.85" fill="#84c8bb"/><circle cx="358.26" cy="502.21" r="1.85" fill="#84c8bb"/><circle cx="358.26" cy="504.73" r="1.85" fill="#84c8bb"/><circle cx="358.26" cy="507.25" r="1.85" fill="#84c8bb"/><circle cx="358.26" cy="512.28" r="1.85" fill="#84c8bb"/><circle cx="361.11" cy="483.76" r="1.85" fill="#84c8bb"/><circle cx="361.11" cy="488.79" r="1.85" fill="#84c8bb"/><circle cx="361.11" cy="492.15" r="1.85" fill="#84c8bb"/><circle cx="361.11" cy="494.66" r="1.85" fill="#84c8bb"/><circle cx="361.11" cy="497.18" r="1.85" fill="#84c8bb"/><circle cx="361.11" cy="502.21" r="1.85" fill="#84c8bb"/><circle cx="361.11" cy="504.73" r="1.85" fill="#84c8bb"/><circle cx="361.11" cy="508.09" r="1.85" fill="#84c8bb"/><circle cx="361.11" cy="510.60" r="1.85" fill="#84c8bb"/><circle cx="361.11" cy="512.28" r="1.85" fill="#84c8bb"/><circle cx="366.14" cy="483.42" r="1.85" fill="#84c8bb"/><circle cx="366.14" cy="490.47" r="1.85" fill="#84c8bb"/><circle cx="366.14" cy="495.50" r="1.85" fill="#84c8bb"/><circle cx="366.14" cy="498.86" r="1.85" fill="#84c8bb"/><circle cx="366.14" cy="502.21" r="1.85" fill="#84c8bb"/><circle cx="366.14" cy="505.57" r="1.85" fill="#84c8bb"/><circle cx="366.14" cy="508.93" r="1.85" fill="#84c8bb"/><circle cx="366.14" cy="511.95" r="1.85" fill="#84c8bb"/><circle cx="371.17" cy="485.10" r="1.85" fill="#84c8bb"/><circle cx="371.17" cy="490.47" r="1.85" fill="#84c8bb"/><circle cx="371.17" cy="493.83" r="1.85" fill="#84c8bb"/><circle cx="371.17" cy="497.18" r="1.85" fill="#84c8bb"/><circle cx="371.17" cy="500.54" r="1.85" fill="#84c8bb"/><circle cx="371.17" cy="503.89" r="1.85" fill="#84c8bb"/><circle cx="371.17" cy="507.25" r="1.85" fill="#84c8bb"/><circle cx="371.17" cy="508.93" r="1.85" fill="#84c8bb"/><circle cx="371.17" cy="516.98" r="1.85" fill="#84c8bb"/><circle cx="376.71" cy="477.05" r="1.85" fill="#84c8bb"/><circle cx="376.71" cy="482.92" r="1.85" fill="#84c8bb"/><circle cx="376.71" cy="487.11" r="1.85" fill="#84c8bb"/><circle cx="376.71" cy="490.47" r="1.85" fill="#84c8bb"/><circle cx="376.71" cy="493.83" r="1.85" fill="#84c8bb"/><circle cx="376.71" cy="498.02" r="1.85" fill="#84c8bb"/><circle cx="376.71" cy="502.21" r="1.85" fill="#84c8bb"/><circle cx="376.71" cy="504.73" r="1.85" fill="#84c8bb"/><circle cx="376.71" cy="508.09" r="1.85" fill="#84c8bb"/><circle cx="376.71" cy="513.96" r="1.85" fill="#84c8bb"/><circle cx="380.07" cy="468.99" r="1.85" fill="#84c8bb"/><circle cx="380.07" cy="483.42" r="1.85" fill="#84c8bb"/><circle cx="380.07" cy="488.79" r="1.85" fill="#84c8bb"/><circle cx="380.07" cy="493.83" r="1.85" fill="#84c8bb"/><circle cx="380.07" cy="497.18" r="1.85" fill="#84c8bb"/><circle cx="380.07" cy="500.54" r="1.85" fill="#84c8bb"/><circle cx="380.07" cy="503.89" r="1.85" fill="#84c8bb"/><circle cx="380.07" cy="514.80" r="1.85" fill="#84c8bb"/><circle cx="383.42" cy="483.76" r="1.85" fill="#84c8bb"/><circle cx="383.42" cy="490.47" r="1.85" fill="#84c8bb"/><circle cx="383.42" cy="495.50" r="1.85" fill="#84c8bb"/><circle cx="383.42" cy="498.86" r="1.85" fill="#84c8bb"/><circle cx="383.42" cy="503.89" r="1.85" fill="#84c8bb"/><circle cx="383.42" cy="508.09" r="1.85" fill="#84c8bb"/><circle cx="383.42" cy="511.44" r="1.85" fill="#84c8bb"/><circle cx="383.42" cy="517.32" r="1.85" fill="#84c8bb"/><circle cx="387.11" cy="477.05" r="1.85" fill="#84c8bb"/><circle cx="387.11" cy="480.40" r="1.85" fill="#84c8bb"/><circle cx="387.11" cy="488.79" r="1.85" fill="#84c8bb"/><circle cx="387.11" cy="493.83" r="1.85" fill="#84c8bb"/><circle cx="387.11" cy="498.86" r="1.85" fill="#84c8bb"/><circle cx="387.11" cy="502.21" r="1.85" fill="#84c8bb"/><circle cx="387.11" cy="507.25" r="1.85" fill="#84c8bb"/><circle cx="387.11" cy="511.44" r="1.85" fill="#84c8bb"/><circle cx="387.11" cy="518.15" r="1.85" fill="#84c8bb"/><circle cx="397.18" cy="442.65" r="1.85" fill="#84c8bb"/><circle cx="397.18" cy="444.33" r="1.85" fill="#84c8bb"/><circle cx="397.18" cy="455.23" r="1.85" fill="#84c8bb"/><circle cx="397.18" cy="476.21" r="1.85" fill="#84c8bb"/><circle cx="397.18" cy="479.56" r="1.85" fill="#84c8bb"/><circle cx="397.18" cy="487.95" r="1.85" fill="#84c8bb"/><circle cx="397.18" cy="492.15" r="1.85" fill="#84c8bb"/><circle cx="397.18" cy="493.83" r="1.85" fill="#84c8bb"/><circle cx="397.18" cy="503.05" r="1.85" fill="#84c8bb"/><circle cx="397.18" cy="504.73" r="1.85" fill="#84c8bb"/><circle cx="397.18" cy="510.60" r="1.85" fill="#84c8bb"/><circle cx="397.18" cy="514.80" r="1.85" fill="#84c8bb"/><circle cx="402.55" cy="456.07" r="1.85" fill="#84c8bb"/><circle cx="402.55" cy="472.01" r="1.85" fill="#84c8bb"/><circle cx="402.55" cy="509.77" r="1.85" fill="#84c8bb"/><circle cx="402.55" cy="518.99" r="1.85" fill="#84c8bb"/><circle cx="402.55" cy="522.35" r="1.85" fill="#84c8bb"/>
<circle cx="454.90" cy="480.40" r="1.85" fill="#84c8bb"/><circle cx="454.90" cy="482.92" r="1.85" fill="#84c8bb"/><circle cx="454.90" cy="491.31" r="1.85" fill="#84c8bb"/><circle cx="454.90" cy="503.89" r="1.85" fill="#84c8bb"/><circle cx="454.90" cy="507.25" r="1.85" fill="#84c8bb"/><circle cx="454.90" cy="511.44" r="1.85" fill="#84c8bb"/><circle cx="454.90" cy="513.96" r="1.85" fill="#84c8bb"/><circle cx="454.90" cy="516.48" r="1.85" fill="#84c8bb"/><circle cx="454.90" cy="518.99" r="1.85" fill="#84c8bb"/><circle cx="454.90" cy="522.35" r="1.85" fill="#84c8bb"/><circle cx="460.27" cy="455.23" r="1.85" fill="#84c8bb"/><circle cx="460.27" cy="458.93" r="1.85" fill="#84c8bb"/><circle cx="460.27" cy="479.56" r="1.85" fill="#84c8bb"/><circle cx="460.27" cy="482.08" r="1.85" fill="#84c8bb"/><circle cx="460.27" cy="485.44" r="1.85" fill="#84c8bb"/><circle cx="460.27" cy="490.47" r="1.85" fill="#84c8bb"/><circle cx="460.27" cy="493.83" r="1.85" fill="#84c8bb"/><circle cx="460.27" cy="507.25" r="1.85" fill="#84c8bb"/><circle cx="460.27" cy="508.93" r="1.85" fill="#84c8bb"/><circle cx="463.29" cy="471.17" r="1.85" fill="#84c8bb"/><circle cx="463.29" cy="475.37" r="1.85" fill="#84c8bb"/><circle cx="463.29" cy="477.89" r="1.85" fill="#84c8bb"/><circle cx="463.29" cy="487.11" r="1.85" fill="#84c8bb"/><circle cx="463.29" cy="490.47" r="1.85" fill="#84c8bb"/><circle cx="463.29" cy="493.83" r="1.85" fill="#84c8bb"/><circle cx="463.29" cy="503.89" r="1.85" fill="#84c8bb"/><circle cx="463.29" cy="511.44" r="1.85" fill="#84c8bb"/><circle cx="468.32" cy="457.25" r="1.85" fill="#84c8bb"/><circle cx="468.32" cy="463.62" r="1.85" fill="#84c8bb"/><circle cx="468.32" cy="470.34" r="1.85" fill="#84c8bb"/><circle cx="468.32" cy="472.01" r="1.85" fill="#84c8bb"/><circle cx="468.32" cy="487.11" r="1.85" fill="#84c8bb"/><circle cx="468.32" cy="490.47" r="1.85" fill="#84c8bb"/><circle cx="468.32" cy="493.83" r="1.85" fill="#84c8bb"/><circle cx="468.32" cy="503.05" r="1.85" fill="#84c8bb"/><circle cx="468.32" cy="509.77" r="1.85" fill="#84c8bb"/><circle cx="473.36" cy="463.96" r="1.85" fill="#84c8bb"/><circle cx="473.36" cy="471.17" r="1.85" fill="#84c8bb"/><circle cx="473.36" cy="474.53" r="1.85" fill="#84c8bb"/><circle cx="473.36" cy="477.05" r="1.85" fill="#84c8bb"/><circle cx="473.36" cy="482.08" r="1.85" fill="#84c8bb"/><circle cx="473.36" cy="487.11" r="1.85" fill="#84c8bb"/><circle cx="473.36" cy="490.47" r="1.85" fill="#84c8bb"/><circle cx="473.36" cy="492.99" r="1.85" fill="#84c8bb"/><circle cx="473.36" cy="496.85" r="1.85" fill="#84c8bb"/><circle cx="479.06" cy="468.66" r="1.85" fill="#84c8bb"/><circle cx="479.06" cy="471.17" r="1.85" fill="#84c8bb"/><circle cx="479.06" cy="474.53" r="1.85" fill="#84c8bb"/><circle cx="479.06" cy="477.05" r="1.85" fill="#84c8bb"/><circle cx="479.06" cy="480.40" r="1.85" fill="#84c8bb"/><circle cx="479.06" cy="485.44" r="1.85" fill="#84c8bb"/><circle cx="479.06" cy="488.79" r="1.85" fill="#84c8bb"/><circle cx="479.06" cy="503.05" r="1.85" fill="#84c8bb"/><circle cx="479.06" cy="507.25" r="1.85" fill="#84c8bb"/><circle cx="479.06" cy="511.44" r="1.85" fill="#84c8bb"/><circle cx="479.06" cy="522.35" r="1.85" fill="#84c8bb"/><circle cx="482.42" cy="453.56" r="1.85" fill="#84c8bb"/><circle cx="482.42" cy="460.27" r="1.85" fill="#84c8bb"/><circle cx="482.42" cy="465.30" r="1.85" fill="#84c8bb"/><circle cx="482.42" cy="468.66" r="1.85" fill="#84c8bb"/><circle cx="482.42" cy="482.92" r="1.85" fill="#84c8bb"/><circle cx="482.42" cy="488.79" r="1.85" fill="#84c8bb"/><circle cx="482.42" cy="498.86" r="1.85" fill="#84c8bb"/><circle cx="482.42" cy="502.21" r="1.85" fill="#84c8bb"/><circle cx="482.42" cy="516.48" r="1.85" fill="#84c8bb"/><circle cx="482.42" cy="522.35" r="1.85" fill="#84c8bb"/><circle cx="485.77" cy="434.26" r="1.85" fill="#84c8bb"/><circle cx="485.77" cy="443.15" r="1.85" fill="#84c8bb"/><circle cx="485.77" cy="457.25" r="1.85" fill="#84c8bb"/><circle cx="485.77" cy="467.82" r="1.85" fill="#84c8bb"/><circle cx="485.77" cy="473.69" r="1.85" fill="#84c8bb"/><circle cx="485.77" cy="482.08" r="1.85" fill="#84c8bb"/><circle cx="485.77" cy="488.79" r="1.85" fill="#84c8bb"/><circle cx="485.77" cy="493.83" r="1.85" fill="#84c8bb"/><circle cx="485.77" cy="497.18" r="1.85" fill="#84c8bb"/><circle cx="485.77" cy="508.93" r="1.85" fill="#84c8bb"/><circle cx="485.77" cy="522.35" r="1.85" fill="#84c8bb"/><circle cx="489.13" cy="483.76" r="1.85" fill="#84c8bb"/><circle cx="489.13" cy="488.79" r="1.85" fill="#84c8bb"/><circle cx="489.13" cy="493.83" r="1.85" fill="#84c8bb"/><circle cx="489.13" cy="498.86" r="1.85" fill="#84c8bb"/><circle cx="489.13" cy="507.25" r="1.85" fill="#84c8bb"/><circle cx="489.13" cy="512.28" r="1.85" fill="#84c8bb"/><circle cx="489.13" cy="522.35" r="1.85" fill="#84c8bb"/><circle cx="499.70" cy="472.01" r="1.85" fill="#84c8bb"/><circle cx="499.70" cy="477.89" r="1.85" fill="#84c8bb"/><circle cx="499.70" cy="480.40" r="1.85" fill="#84c8bb"/><circle cx="499.70" cy="485.44" r="1.85" fill="#84c8bb"/><circle cx="499.70" cy="503.05" r="1.85" fill="#84c8bb"/><circle cx="499.70" cy="507.25" r="1.85" fill="#84c8bb"/><circle cx="499.70" cy="517.32" r="1.85" fill="#84c8bb"/><circle cx="499.70" cy="518.99" r="1.85" fill="#84c8bb"/><circle cx="499.70" cy="522.35" r="1.85" fill="#84c8bb"/><circle cx="505.23" cy="498.86" r="1.85" fill="#84c8bb"/><circle cx="505.23" cy="503.89" r="1.85" fill="#84c8bb"/><circle cx="505.23" cy="508.93" r="1.85" fill="#84c8bb"/><circle cx="505.23" cy="521.51" r="1.85" fill="#84c8bb"/><circle cx="505.23" cy="522.35" r="1.85" fill="#84c8bb"/>
<circle cx="558.99" cy="458.13" r="1.85" fill="#84c8bb"/><circle cx="558.99" cy="460.73" r="1.85" fill="#84c8bb"/><circle cx="558.99" cy="463.33" r="1.85" fill="#84c8bb"/><circle cx="558.99" cy="465.93" r="1.85" fill="#84c8bb"/><circle cx="558.99" cy="468.53" r="1.85" fill="#84c8bb"/><circle cx="558.99" cy="471.99" r="1.85" fill="#84c8bb"/><circle cx="558.99" cy="474.59" r="1.85" fill="#84c8bb"/><circle cx="558.99" cy="477.19" r="1.85" fill="#84c8bb"/><circle cx="558.99" cy="479.79" r="1.85" fill="#84c8bb"/><circle cx="558.99" cy="482.39" r="1.85" fill="#84c8bb"/><circle cx="564.19" cy="458.99" r="1.85" fill="#84c8bb"/><circle cx="564.19" cy="462.46" r="1.85" fill="#84c8bb"/><circle cx="564.19" cy="465.93" r="1.85" fill="#84c8bb"/><circle cx="564.19" cy="469.39" r="1.85" fill="#84c8bb"/><circle cx="564.19" cy="471.99" r="1.85" fill="#84c8bb"/><circle cx="564.19" cy="475.46" r="1.85" fill="#84c8bb"/><circle cx="564.19" cy="480.66" r="1.85" fill="#84c8bb"/><circle cx="564.19" cy="484.99" r="1.85" fill="#84c8bb"/><circle cx="564.19" cy="487.59" r="1.85" fill="#84c8bb"/><circle cx="567.14" cy="461.59" r="1.85" fill="#84c8bb"/><circle cx="567.14" cy="465.06" r="1.85" fill="#84c8bb"/><circle cx="567.14" cy="468.53" r="1.85" fill="#84c8bb"/><circle cx="567.14" cy="471.13" r="1.85" fill="#84c8bb"/><circle cx="567.14" cy="473.73" r="1.85" fill="#84c8bb"/><circle cx="567.14" cy="477.19" r="1.85" fill="#84c8bb"/><circle cx="567.14" cy="481.53" r="1.85" fill="#84c8bb"/><circle cx="567.14" cy="484.12" r="1.85" fill="#84c8bb"/><circle cx="567.14" cy="487.59" r="1.85" fill="#84c8bb"/><circle cx="572.34" cy="434.73" r="1.85" fill="#84c8bb"/><circle cx="572.34" cy="449.46" r="1.85" fill="#84c8bb"/><circle cx="572.34" cy="454.32" r="1.85" fill="#84c8bb"/><circle cx="572.34" cy="464.19" r="1.85" fill="#84c8bb"/><circle cx="572.34" cy="468.53" r="1.85" fill="#84c8bb"/><circle cx="572.34" cy="472.86" r="1.85" fill="#84c8bb"/><circle cx="572.34" cy="477.19" r="1.85" fill="#84c8bb"/><circle cx="572.34" cy="482.39" r="1.85" fill="#84c8bb"/><circle cx="577.54" cy="435.94" r="1.85" fill="#84c8bb"/><circle cx="577.54" cy="451.20" r="1.85" fill="#84c8bb"/><circle cx="577.54" cy="454.66" r="1.85" fill="#84c8bb"/><circle cx="577.54" cy="459.86" r="1.85" fill="#84c8bb"/><circle cx="577.54" cy="465.06" r="1.85" fill="#84c8bb"/><circle cx="577.54" cy="470.26" r="1.85" fill="#84c8bb"/><circle cx="577.54" cy="475.46" r="1.85" fill="#84c8bb"/><circle cx="577.54" cy="480.66" r="1.85" fill="#84c8bb"/><circle cx="583.26" cy="448.60" r="1.85" fill="#84c8bb"/><circle cx="583.26" cy="452.93" r="1.85" fill="#84c8bb"/><circle cx="583.26" cy="457.26" r="1.85" fill="#84c8bb"/><circle cx="583.26" cy="462.46" r="1.85" fill="#84c8bb"/><circle cx="583.26" cy="466.79" r="1.85" fill="#84c8bb"/><circle cx="583.26" cy="471.99" r="1.85" fill="#84c8bb"/><circle cx="583.26" cy="475.46" r="1.85" fill="#84c8bb"/><circle cx="583.26" cy="478.93" r="1.85" fill="#84c8bb"/><circle cx="586.72" cy="439.06" r="1.85" fill="#84c8bb"/><circle cx="586.72" cy="447.73" r="1.85" fill="#84c8bb"/><circle cx="586.72" cy="453.80" r="1.85" fill="#84c8bb"/><circle cx="586.72" cy="459.86" r="1.85" fill="#84c8bb"/><circle cx="586.72" cy="465.06" r="1.85" fill="#84c8bb"/><circle cx="586.72" cy="470.26" r="1.85" fill="#84c8bb"/><circle cx="586.72" cy="474.59" r="1.85" fill="#84c8bb"/><circle cx="586.72" cy="478.06" r="1.85" fill="#84c8bb"/><circle cx="586.72" cy="484.12" r="1.85" fill="#84c8bb"/><circle cx="590.19" cy="438.20" r="1.85" fill="#84c8bb"/><circle cx="590.19" cy="446.86" r="1.85" fill="#84c8bb"/><circle cx="590.19" cy="451.20" r="1.85" fill="#84c8bb"/><circle cx="590.19" cy="455.53" r="1.85" fill="#84c8bb"/><circle cx="590.19" cy="459.86" r="1.85" fill="#84c8bb"/><circle cx="590.19" cy="465.06" r="1.85" fill="#84c8bb"/><circle cx="590.19" cy="475.46" r="1.85" fill="#84c8bb"/><circle cx="590.19" cy="480.66" r="1.85" fill="#84c8bb"/><circle cx="590.19" cy="491.92" r="1.85" fill="#84c8bb"/><circle cx="593.66" cy="448.60" r="1.85" fill="#84c8bb"/><circle cx="593.66" cy="451.20" r="1.85" fill="#84c8bb"/><circle cx="593.66" cy="456.40" r="1.85" fill="#84c8bb"/><circle cx="593.66" cy="460.73" r="1.85" fill="#84c8bb"/><circle cx="593.66" cy="466.79" r="1.85" fill="#84c8bb"/><circle cx="593.66" cy="475.46" r="1.85" fill="#84c8bb"/><circle cx="593.66" cy="481.53" r="1.85" fill="#84c8bb"/><circle cx="604.06" cy="448.60" r="1.85" fill="#84c8bb"/><circle cx="604.06" cy="451.20" r="1.85" fill="#84c8bb"/><circle cx="604.06" cy="462.46" r="1.85" fill="#84c8bb"/><circle cx="604.06" cy="468.53" r="1.85" fill="#84c8bb"/><circle cx="604.06" cy="471.99" r="1.85" fill="#84c8bb"/><circle cx="604.06" cy="477.19" r="1.85" fill="#84c8bb"/><circle cx="604.06" cy="485.86" r="1.85" fill="#84c8bb"/><circle cx="604.06" cy="489.32" r="1.85" fill="#84c8bb"/><circle cx="604.06" cy="498.86" r="1.85" fill="#84c8bb"/><circle cx="604.06" cy="501.46" r="1.85" fill="#84c8bb"/><circle cx="604.06" cy="504.92" r="1.85" fill="#84c8bb"/><circle cx="604.06" cy="508.39" r="1.85" fill="#84c8bb"/><circle cx="609.25" cy="468.53" r="1.85" fill="#84c8bb"/><circle cx="609.25" cy="479.79" r="1.85" fill="#84c8bb"/><circle cx="609.25" cy="486.72" r="1.85" fill="#84c8bb"/><circle cx="609.25" cy="489.32" r="1.85" fill="#84c8bb"/><circle cx="609.25" cy="497.99" r="1.85" fill="#84c8bb"/><circle cx="609.25" cy="500.59" r="1.85" fill="#84c8bb"/><circle cx="609.25" cy="510.99" r="1.85" fill="#84c8bb"/>
<polyline points="52.20,454.40 57.20,448.50 60.60,454.40 65.30,454.90 70.70,456.60 76.20,451.50 82.90,463.60 86.80,464.00 96.80,465.60 102.60,470.30" fill="none" stroke="#2f4b8e" stroke-width="1.4" stroke-linejoin="round" stroke-linecap="round"/>
<polyline points="150.20,446.01 155.23,448.19 158.93,446.85 163.96,447.18 168.66,449.87 174.03,448.86 179.56,450.20 184.60,450.54 194.66,452.38 200.20,465.30" fill="none" stroke="#2f4b8e" stroke-width="1.4" stroke-linejoin="round" stroke-linecap="round"/>
<polyline points="251.54,445.17 256.58,446.51 260.27,447.18 264.97,446.01 270.34,449.87 275.70,445.17 280.40,447.68 285.77,450.54 296.34,455.23 301.88,455.23" fill="none" stroke="#2f4b8e" stroke-width="1.4" stroke-linejoin="round" stroke-linecap="round"/>
<polyline points="351.54,499.70 357.75,496.85 361.11,500.20 366.14,500.20 371.17,500.54 377.05,496.34 380.07,497.18 383.42,500.54 387.45,494.66 397.18,485.77 402.55,489.13" fill="none" stroke="#2f4b8e" stroke-width="1.4" stroke-linejoin="round" stroke-linecap="round"/>
<polyline points="454.90,505.57 459.93,485.10 463.29,488.46 468.32,484.60 473.36,482.08 478.72,492.48 482.92,485.77 486.28,488.46 489.13,507.25 499.70,504.73 505.23,510.60" fill="none" stroke="#2f4b8e" stroke-width="1.4" stroke-linejoin="round" stroke-linecap="round"/>
<polyline points="558.99,469.91 567.66,475.11 572.34,466.45 578.06,465.93 586.72,466.79 593.66,462.46 604.06,479.79 609.25,490.19" fill="none" stroke="#2f4b8e" stroke-width="1.4" stroke-linejoin="round" stroke-linecap="round"/>
<line x1="50.50" y1="558.00" x2="50.50" y2="651.00" stroke="#8a8a8a" stroke-width="0.8"/>
<line x1="49.10" y1="651.00" x2="50.50" y2="651.00" stroke="#231f20" stroke-width="0.5"/>
<text x="48.50" y="653.20" font-size="6.2" fill="#231f20" font-weight="normal" text-anchor="end">2</text>
<line x1="49.10" y1="620.00" x2="50.50" y2="620.00" stroke="#231f20" stroke-width="0.5"/>
<text x="48.50" y="622.20" font-size="6.2" fill="#231f20" font-weight="normal" text-anchor="end">3</text>
<line x1="49.10" y1="589.00" x2="50.50" y2="589.00" stroke="#231f20" stroke-width="0.5"/>
<text x="48.50" y="591.20" font-size="6.2" fill="#231f20" font-weight="normal" text-anchor="end">4</text>
<line x1="49.10" y1="558.00" x2="50.50" y2="558.00" stroke="#231f20" stroke-width="0.5"/>
<text x="48.50" y="560.20" font-size="6.2" fill="#231f20" font-weight="normal" text-anchor="end">5</text>
<line x1="50.50" y1="651.00" x2="112.50" y2="651.00" stroke="#333" stroke-width="0.7"/>
<line x1="50.50" y1="651.00" x2="50.50" y2="650.00" stroke="#555" stroke-width="0.45"/>
<line x1="53.94" y1="651.00" x2="53.94" y2="650.40" stroke="#555" stroke-width="0.45"/>
<line x1="57.39" y1="651.00" x2="57.39" y2="650.40" stroke="#555" stroke-width="0.45"/>
<line x1="60.83" y1="651.00" x2="60.83" y2="650.00" stroke="#555" stroke-width="0.45"/>
<line x1="64.28" y1="651.00" x2="64.28" y2="650.40" stroke="#555" stroke-width="0.45"/>
<line x1="67.72" y1="651.00" x2="67.72" y2="650.40" stroke="#555" stroke-width="0.45"/>
<line x1="71.17" y1="651.00" x2="71.17" y2="650.00" stroke="#555" stroke-width="0.45"/>
<line x1="74.61" y1="651.00" x2="74.61" y2="650.40" stroke="#555" stroke-width="0.45"/>
<line x1="78.06" y1="651.00" x2="78.06" y2="650.40" stroke="#555" stroke-width="0.45"/>
<line x1="81.50" y1="651.00" x2="81.50" y2="650.00" stroke="#555" stroke-width="0.45"/>
<line x1="84.94" y1="651.00" x2="84.94" y2="650.40" stroke="#555" stroke-width="0.45"/>
<line x1="88.39" y1="651.00" x2="88.39" y2="650.40" stroke="#555" stroke-width="0.45"/>
<line x1="91.83" y1="651.00" x2="91.83" y2="650.00" stroke="#555" stroke-width="0.45"/>
<line x1="95.28" y1="651.00" x2="95.28" y2="650.40" stroke="#555" stroke-width="0.45"/>
<line x1="98.72" y1="651.00" x2="98.72" y2="650.40" stroke="#555" stroke-width="0.45"/>
<line x1="102.17" y1="651.00" x2="102.17" y2="650.00" stroke="#555" stroke-width="0.45"/>
<line x1="105.61" y1="651.00" x2="105.61" y2="650.40" stroke="#555" stroke-width="0.45"/>
<line x1="109.06" y1="651.00" x2="109.06" y2="650.40" stroke="#555" stroke-width="0.45"/>
<line x1="112.50" y1="651.00" x2="112.50" y2="650.00" stroke="#555" stroke-width="0.45"/>
<text x="50.50" y="657.70" font-size="5.8" fill="#231f20" font-weight="normal" text-anchor="middle">0</text>
<text x="60.83" y="657.70" font-size="5.8" fill="#231f20" font-weight="normal" text-anchor="middle">3</text>
<text x="71.17" y="657.70" font-size="5.8" fill="#231f20" font-weight="normal" text-anchor="middle">6</text>
<text x="81.50" y="657.70" font-size="5.8" fill="#231f20" font-weight="normal" text-anchor="middle">9</text>
<text x="91.83" y="657.70" font-size="5.8" fill="#231f20" font-weight="normal" text-anchor="middle" textLength="5.40" lengthAdjust="spacingAndGlyphs">12</text>
<text x="102.17" y="657.70" font-size="5.8" fill="#231f20" font-weight="normal" text-anchor="middle" textLength="5.40" lengthAdjust="spacingAndGlyphs">15</text>
<text x="112.50" y="657.70" font-size="5.8" fill="#231f20" font-weight="normal" text-anchor="middle" textLength="5.40" lengthAdjust="spacingAndGlyphs">18</text>
<text x="41.00" y="604.50" font-size="5.9" fill="#231f20" font-weight="normal" text-anchor="middle" transform="rotate(-90 41.0 604.5)" textLength="61" lengthAdjust="spacingAndGlyphs">Endpoint dilution log<tspan font-size="3.4" dy="1">10</tspan><tspan dy="-1"> </tspan>(1:x)</text>
<line x1="73.60" y1="642.20" x2="81.30" y2="642.20" stroke="#e9772c" stroke-width="1.6"/>
<line x1="73.60" y1="647.30" x2="81.30" y2="647.30" stroke="#2f4b8e" stroke-width="1.6"/>
<text x="84.70" y="644.40" font-size="5.3" fill="#231f20" font-weight="normal" text-anchor="start" textLength="23.7" lengthAdjust="spacingAndGlyphs">Prime-only</text>
<text x="84.70" y="649.60" font-size="5.3" fill="#231f20" font-weight="normal" text-anchor="start" textLength="27.2" lengthAdjust="spacingAndGlyphs">Prime-boost</text>
<line x1="148.60" y1="558.00" x2="148.60" y2="651.00" stroke="#8a8a8a" stroke-width="0.8"/>
<line x1="147.20" y1="651.00" x2="148.60" y2="651.00" stroke="#231f20" stroke-width="0.5"/>
<text x="146.60" y="653.20" font-size="6.2" fill="#231f20" font-weight="normal" text-anchor="end">2</text>
<line x1="147.20" y1="620.00" x2="148.60" y2="620.00" stroke="#231f20" stroke-width="0.5"/>
<text x="146.60" y="622.20" font-size="6.2" fill="#231f20" font-weight="normal" text-anchor="end">3</text>
<line x1="147.20" y1="589.00" x2="148.60" y2="589.00" stroke="#231f20" stroke-width="0.5"/>
<text x="146.60" y="591.20" font-size="6.2" fill="#231f20" font-weight="normal" text-anchor="end">4</text>
<line x1="147.20" y1="558.00" x2="148.60" y2="558.00" stroke="#231f20" stroke-width="0.5"/>
<text x="146.60" y="560.20" font-size="6.2" fill="#231f20" font-weight="normal" text-anchor="end">5</text>
<line x1="148.60" y1="651.00" x2="210.60" y2="651.00" stroke="#333" stroke-width="0.7"/>
<line x1="148.60" y1="651.00" x2="148.60" y2="650.00" stroke="#555" stroke-width="0.45"/>
<line x1="152.04" y1="651.00" x2="152.04" y2="650.40" stroke="#555" stroke-width="0.45"/>
<line x1="155.49" y1="651.00" x2="155.49" y2="650.40" stroke="#555" stroke-width="0.45"/>
<line x1="158.93" y1="651.00" x2="158.93" y2="650.00" stroke="#555" stroke-width="0.45"/>
<line x1="162.38" y1="651.00" x2="162.38" y2="650.40" stroke="#555" stroke-width="0.45"/>
<line x1="165.82" y1="651.00" x2="165.82" y2="650.40" stroke="#555" stroke-width="0.45"/>
<line x1="169.27" y1="651.00" x2="169.27" y2="650.00" stroke="#555" stroke-width="0.45"/>
<line x1="172.71" y1="651.00" x2="172.71" y2="650.40" stroke="#555" stroke-width="0.45"/>
<line x1="176.16" y1="651.00" x2="176.16" y2="650.40" stroke="#555" stroke-width="0.45"/>
<line x1="179.60" y1="651.00" x2="179.60" y2="650.00" stroke="#555" stroke-width="0.45"/>
<line x1="183.04" y1="651.00" x2="183.04" y2="650.40" stroke="#555" stroke-width="0.45"/>
<line x1="186.49" y1="651.00" x2="186.49" y2="650.40" stroke="#555" stroke-width="0.45"/>
<line x1="189.93" y1="651.00" x2="189.93" y2="650.00" stroke="#555" stroke-width="0.45"/>
<line x1="193.38" y1="651.00" x2="193.38" y2="650.40" stroke="#555" stroke-width="0.45"/>
<line x1="196.82" y1="651.00" x2="196.82" y2="650.40" stroke="#555" stroke-width="0.45"/>
<line x1="200.27" y1="651.00" x2="200.27" y2="650.00" stroke="#555" stroke-width="0.45"/>
<line x1="203.71" y1="651.00" x2="203.71" y2="650.40" stroke="#555" stroke-width="0.45"/>
<line x1="207.16" y1="651.00" x2="207.16" y2="650.40" stroke="#555" stroke-width="0.45"/>
<line x1="210.60" y1="651.00" x2="210.60" y2="650.00" stroke="#555" stroke-width="0.45"/>
<text x="148.60" y="657.70" font-size="5.8" fill="#231f20" font-weight="normal" text-anchor="middle">0</text>
<text x="158.93" y="657.70" font-size="5.8" fill="#231f20" font-weight="normal" text-anchor="middle">3</text>
<text x="169.27" y="657.70" font-size="5.8" fill="#231f20" font-weight="normal" text-anchor="middle">6</text>
<text x="179.60" y="657.70" font-size="5.8" fill="#231f20" font-weight="normal" text-anchor="middle">9</text>
<text x="189.93" y="657.70" font-size="5.8" fill="#231f20" font-weight="normal" text-anchor="middle" textLength="5.40" lengthAdjust="spacingAndGlyphs">12</text>
<text x="200.27" y="657.70" font-size="5.8" fill="#231f20" font-weight="normal" text-anchor="middle" textLength="5.40" lengthAdjust="spacingAndGlyphs">15</text>
<text x="210.60" y="657.70" font-size="5.8" fill="#231f20" font-weight="normal" text-anchor="middle" textLength="5.40" lengthAdjust="spacingAndGlyphs">18</text>
<text x="139.10" y="604.50" font-size="5.9" fill="#231f20" font-weight="normal" text-anchor="middle" transform="rotate(-90 139.1 604.5)" textLength="61" lengthAdjust="spacingAndGlyphs">Endpoint dilution log<tspan font-size="3.4" dy="1">10</tspan><tspan dy="-1"> </tspan>(1:x)</text>
<line x1="171.70" y1="642.20" x2="179.40" y2="642.20" stroke="#e9772c" stroke-width="1.6"/>
<line x1="171.70" y1="647.30" x2="179.40" y2="647.30" stroke="#2f4b8e" stroke-width="1.6"/>
<text x="182.80" y="644.40" font-size="5.3" fill="#231f20" font-weight="normal" text-anchor="start" textLength="23.7" lengthAdjust="spacingAndGlyphs">Prime-only</text>
<text x="182.80" y="649.60" font-size="5.3" fill="#231f20" font-weight="normal" text-anchor="start" textLength="27.2" lengthAdjust="spacingAndGlyphs">Prime-boost</text>
<line x1="249.90" y1="558.00" x2="249.90" y2="651.00" stroke="#8a8a8a" stroke-width="0.8"/>
<line x1="248.50" y1="651.00" x2="249.90" y2="651.00" stroke="#231f20" stroke-width="0.5"/>
<text x="247.90" y="653.20" font-size="6.2" fill="#231f20" font-weight="normal" text-anchor="end">2</text>
<line x1="248.50" y1="620.00" x2="249.90" y2="620.00" stroke="#231f20" stroke-width="0.5"/>
<text x="247.90" y="622.20" font-size="6.2" fill="#231f20" font-weight="normal" text-anchor="end">3</text>
<line x1="248.50" y1="589.00" x2="249.90" y2="589.00" stroke="#231f20" stroke-width="0.5"/>
<text x="247.90" y="591.20" font-size="6.2" fill="#231f20" font-weight="normal" text-anchor="end">4</text>
<line x1="248.50" y1="558.00" x2="249.90" y2="558.00" stroke="#231f20" stroke-width="0.5"/>
<text x="247.90" y="560.20" font-size="6.2" fill="#231f20" font-weight="normal" text-anchor="end">5</text>
<line x1="249.90" y1="651.00" x2="311.90" y2="651.00" stroke="#333" stroke-width="0.7"/>
<line x1="249.90" y1="651.00" x2="249.90" y2="650.00" stroke="#555" stroke-width="0.45"/>
<line x1="253.34" y1="651.00" x2="253.34" y2="650.40" stroke="#555" stroke-width="0.45"/>
<line x1="256.79" y1="651.00" x2="256.79" y2="650.40" stroke="#555" stroke-width="0.45"/>
<line x1="260.23" y1="651.00" x2="260.23" y2="650.00" stroke="#555" stroke-width="0.45"/>
<line x1="263.68" y1="651.00" x2="263.68" y2="650.40" stroke="#555" stroke-width="0.45"/>
<line x1="267.12" y1="651.00" x2="267.12" y2="650.40" stroke="#555" stroke-width="0.45"/>
<line x1="270.57" y1="651.00" x2="270.57" y2="650.00" stroke="#555" stroke-width="0.45"/>
<line x1="274.01" y1="651.00" x2="274.01" y2="650.40" stroke="#555" stroke-width="0.45"/>
<line x1="277.46" y1="651.00" x2="277.46" y2="650.40" stroke="#555" stroke-width="0.45"/>
<line x1="280.90" y1="651.00" x2="280.90" y2="650.00" stroke="#555" stroke-width="0.45"/>
<line x1="284.34" y1="651.00" x2="284.34" y2="650.40" stroke="#555" stroke-width="0.45"/>
<line x1="287.79" y1="651.00" x2="287.79" y2="650.40" stroke="#555" stroke-width="0.45"/>
<line x1="291.23" y1="651.00" x2="291.23" y2="650.00" stroke="#555" stroke-width="0.45"/>
<line x1="294.68" y1="651.00" x2="294.68" y2="650.40" stroke="#555" stroke-width="0.45"/>
<line x1="298.12" y1="651.00" x2="298.12" y2="650.40" stroke="#555" stroke-width="0.45"/>
<line x1="301.57" y1="651.00" x2="301.57" y2="650.00" stroke="#555" stroke-width="0.45"/>
<line x1="305.01" y1="651.00" x2="305.01" y2="650.40" stroke="#555" stroke-width="0.45"/>
<line x1="308.46" y1="651.00" x2="308.46" y2="650.40" stroke="#555" stroke-width="0.45"/>
<line x1="311.90" y1="651.00" x2="311.90" y2="650.00" stroke="#555" stroke-width="0.45"/>
<text x="249.90" y="657.70" font-size="5.8" fill="#231f20" font-weight="normal" text-anchor="middle">0</text>
<text x="260.23" y="657.70" font-size="5.8" fill="#231f20" font-weight="normal" text-anchor="middle">3</text>
<text x="270.57" y="657.70" font-size="5.8" fill="#231f20" font-weight="normal" text-anchor="middle">6</text>
<text x="280.90" y="657.70" font-size="5.8" fill="#231f20" font-weight="normal" text-anchor="middle">9</text>
<text x="291.23" y="657.70" font-size="5.8" fill="#231f20" font-weight="normal" text-anchor="middle" textLength="5.40" lengthAdjust="spacingAndGlyphs">12</text>
<text x="301.57" y="657.70" font-size="5.8" fill="#231f20" font-weight="normal" text-anchor="middle" textLength="5.40" lengthAdjust="spacingAndGlyphs">15</text>
<text x="311.90" y="657.70" font-size="5.8" fill="#231f20" font-weight="normal" text-anchor="middle" textLength="5.40" lengthAdjust="spacingAndGlyphs">18</text>
<text x="240.40" y="604.50" font-size="5.9" fill="#231f20" font-weight="normal" text-anchor="middle" transform="rotate(-90 240.4 604.5)" textLength="61" lengthAdjust="spacingAndGlyphs">Endpoint dilution log<tspan font-size="3.4" dy="1">10</tspan><tspan dy="-1"> </tspan>(1:x)</text>
<line x1="273.00" y1="642.20" x2="280.70" y2="642.20" stroke="#e9772c" stroke-width="1.6"/>
<line x1="273.00" y1="647.30" x2="280.70" y2="647.30" stroke="#2f4b8e" stroke-width="1.6"/>
<text x="284.10" y="644.40" font-size="5.3" fill="#231f20" font-weight="normal" text-anchor="start" textLength="23.7" lengthAdjust="spacingAndGlyphs">Prime-only</text>
<text x="284.10" y="649.60" font-size="5.3" fill="#231f20" font-weight="normal" text-anchor="start" textLength="27.2" lengthAdjust="spacingAndGlyphs">Prime-boost</text>
<line x1="350.50" y1="558.00" x2="350.50" y2="651.00" stroke="#8a8a8a" stroke-width="0.8"/>
<line x1="349.10" y1="651.00" x2="350.50" y2="651.00" stroke="#231f20" stroke-width="0.5"/>
<text x="348.50" y="653.20" font-size="6.2" fill="#231f20" font-weight="normal" text-anchor="end">0</text>
<line x1="349.10" y1="637.71" x2="350.50" y2="637.71" stroke="#231f20" stroke-width="0.5"/>
<text x="348.50" y="639.91" font-size="6.2" fill="#231f20" font-weight="normal" text-anchor="end" textLength="5.90" lengthAdjust="spacingAndGlyphs">10</text>
<line x1="349.10" y1="624.43" x2="350.50" y2="624.43" stroke="#231f20" stroke-width="0.5"/>
<text x="348.50" y="626.63" font-size="6.2" fill="#231f20" font-weight="normal" text-anchor="end" textLength="5.90" lengthAdjust="spacingAndGlyphs">20</text>
<line x1="349.10" y1="611.14" x2="350.50" y2="611.14" stroke="#231f20" stroke-width="0.5"/>
<text x="348.50" y="613.34" font-size="6.2" fill="#231f20" font-weight="normal" text-anchor="end" textLength="5.90" lengthAdjust="spacingAndGlyphs">30</text>
<line x1="349.10" y1="597.86" x2="350.50" y2="597.86" stroke="#231f20" stroke-width="0.5"/>
<text x="348.50" y="600.06" font-size="6.2" fill="#231f20" font-weight="normal" text-anchor="end" textLength="5.90" lengthAdjust="spacingAndGlyphs">40</text>
<line x1="349.10" y1="584.57" x2="350.50" y2="584.57" stroke="#231f20" stroke-width="0.5"/>
<text x="348.50" y="586.77" font-size="6.2" fill="#231f20" font-weight="normal" text-anchor="end" textLength="5.90" lengthAdjust="spacingAndGlyphs">50</text>
<line x1="349.10" y1="571.29" x2="350.50" y2="571.29" stroke="#231f20" stroke-width="0.5"/>
<text x="348.50" y="573.49" font-size="6.2" fill="#231f20" font-weight="normal" text-anchor="end" textLength="5.90" lengthAdjust="spacingAndGlyphs">60</text>
<line x1="349.10" y1="558.00" x2="350.50" y2="558.00" stroke="#231f20" stroke-width="0.5"/>
<text x="348.50" y="560.20" font-size="6.2" fill="#231f20" font-weight="normal" text-anchor="end" textLength="5.90" lengthAdjust="spacingAndGlyphs">70</text>
<line x1="350.50" y1="651.00" x2="412.50" y2="651.00" stroke="#333" stroke-width="0.7"/>
<line x1="350.50" y1="651.00" x2="350.50" y2="650.00" stroke="#555" stroke-width="0.45"/>
<line x1="353.94" y1="651.00" x2="353.94" y2="650.40" stroke="#555" stroke-width="0.45"/>
<line x1="357.39" y1="651.00" x2="357.39" y2="650.40" stroke="#555" stroke-width="0.45"/>
<line x1="360.83" y1="651.00" x2="360.83" y2="650.00" stroke="#555" stroke-width="0.45"/>
<line x1="364.28" y1="651.00" x2="364.28" y2="650.40" stroke="#555" stroke-width="0.45"/>
<line x1="367.72" y1="651.00" x2="367.72" y2="650.40" stroke="#555" stroke-width="0.45"/>
<line x1="371.17" y1="651.00" x2="371.17" y2="650.00" stroke="#555" stroke-width="0.45"/>
<line x1="374.61" y1="651.00" x2="374.61" y2="650.40" stroke="#555" stroke-width="0.45"/>
<line x1="378.06" y1="651.00" x2="378.06" y2="650.40" stroke="#555" stroke-width="0.45"/>
<line x1="381.50" y1="651.00" x2="381.50" y2="650.00" stroke="#555" stroke-width="0.45"/>
<line x1="384.94" y1="651.00" x2="384.94" y2="650.40" stroke="#555" stroke-width="0.45"/>
<line x1="388.39" y1="651.00" x2="388.39" y2="650.40" stroke="#555" stroke-width="0.45"/>
<line x1="391.83" y1="651.00" x2="391.83" y2="650.00" stroke="#555" stroke-width="0.45"/>
<line x1="395.28" y1="651.00" x2="395.28" y2="650.40" stroke="#555" stroke-width="0.45"/>
<line x1="398.72" y1="651.00" x2="398.72" y2="650.40" stroke="#555" stroke-width="0.45"/>
<line x1="402.17" y1="651.00" x2="402.17" y2="650.00" stroke="#555" stroke-width="0.45"/>
<line x1="405.61" y1="651.00" x2="405.61" y2="650.40" stroke="#555" stroke-width="0.45"/>
<line x1="409.06" y1="651.00" x2="409.06" y2="650.40" stroke="#555" stroke-width="0.45"/>
<line x1="412.50" y1="651.00" x2="412.50" y2="650.00" stroke="#555" stroke-width="0.45"/>
<text x="350.50" y="657.70" font-size="5.8" fill="#231f20" font-weight="normal" text-anchor="middle">0</text>
<text x="360.83" y="657.70" font-size="5.8" fill="#231f20" font-weight="normal" text-anchor="middle">3</text>
<text x="371.17" y="657.70" font-size="5.8" fill="#231f20" font-weight="normal" text-anchor="middle">6</text>
<text x="381.50" y="657.70" font-size="5.8" fill="#231f20" font-weight="normal" text-anchor="middle">9</text>
<text x="391.83" y="657.70" font-size="5.8" fill="#231f20" font-weight="normal" text-anchor="middle" textLength="5.40" lengthAdjust="spacingAndGlyphs">12</text>
<text x="402.17" y="657.70" font-size="5.8" fill="#231f20" font-weight="normal" text-anchor="middle" textLength="5.40" lengthAdjust="spacingAndGlyphs">15</text>
<text x="412.50" y="657.70" font-size="5.8" fill="#231f20" font-weight="normal" text-anchor="middle" textLength="5.40" lengthAdjust="spacingAndGlyphs">18</text>
<text x="339.60" y="604.50" font-size="5.9" fill="#231f20" font-weight="normal" text-anchor="middle" transform="rotate(-90 339.59999999999997 604.5)" textLength="36" lengthAdjust="spacingAndGlyphs">Avidity Index, %</text>
<line x1="373.60" y1="642.20" x2="381.30" y2="642.20" stroke="#e9772c" stroke-width="1.6"/>
<line x1="373.60" y1="647.30" x2="381.30" y2="647.30" stroke="#2f4b8e" stroke-width="1.6"/>
<text x="384.70" y="644.40" font-size="5.3" fill="#231f20" font-weight="normal" text-anchor="start" textLength="23.7" lengthAdjust="spacingAndGlyphs">Prime-only</text>
<text x="384.70" y="649.60" font-size="5.3" fill="#231f20" font-weight="normal" text-anchor="start" textLength="27.2" lengthAdjust="spacingAndGlyphs">Prime-boost</text>
<line x1="452.90" y1="558.00" x2="452.90" y2="651.00" stroke="#8a8a8a" stroke-width="0.8"/>
<line x1="451.50" y1="651.00" x2="452.90" y2="651.00" stroke="#231f20" stroke-width="0.5"/>
<text x="450.90" y="653.20" font-size="6.2" fill="#231f20" font-weight="normal" text-anchor="end">0</text>
<line x1="451.50" y1="627.75" x2="452.90" y2="627.75" stroke="#231f20" stroke-width="0.5"/>
<text x="450.90" y="629.95" font-size="6.2" fill="#231f20" font-weight="normal" text-anchor="end" textLength="8.85" lengthAdjust="spacingAndGlyphs">500</text>
<line x1="451.50" y1="604.50" x2="452.90" y2="604.50" stroke="#231f20" stroke-width="0.5"/>
<text x="450.90" y="606.70" font-size="6.2" fill="#231f20" font-weight="normal" text-anchor="end" textLength="11.80" lengthAdjust="spacingAndGlyphs">1000</text>
<line x1="451.50" y1="581.25" x2="452.90" y2="581.25" stroke="#231f20" stroke-width="0.5"/>
<text x="450.90" y="583.45" font-size="6.2" fill="#231f20" font-weight="normal" text-anchor="end" textLength="11.80" lengthAdjust="spacingAndGlyphs">1500</text>
<line x1="451.50" y1="558.00" x2="452.90" y2="558.00" stroke="#231f20" stroke-width="0.5"/>
<text x="450.90" y="560.20" font-size="6.2" fill="#231f20" font-weight="normal" text-anchor="end" textLength="11.80" lengthAdjust="spacingAndGlyphs">2000</text>
<line x1="452.90" y1="651.00" x2="514.90" y2="651.00" stroke="#333" stroke-width="0.7"/>
<line x1="452.90" y1="651.00" x2="452.90" y2="650.00" stroke="#555" stroke-width="0.45"/>
<line x1="456.34" y1="651.00" x2="456.34" y2="650.40" stroke="#555" stroke-width="0.45"/>
<line x1="459.79" y1="651.00" x2="459.79" y2="650.40" stroke="#555" stroke-width="0.45"/>
<line x1="463.23" y1="651.00" x2="463.23" y2="650.00" stroke="#555" stroke-width="0.45"/>
<line x1="466.68" y1="651.00" x2="466.68" y2="650.40" stroke="#555" stroke-width="0.45"/>
<line x1="470.12" y1="651.00" x2="470.12" y2="650.40" stroke="#555" stroke-width="0.45"/>
<line x1="473.57" y1="651.00" x2="473.57" y2="650.00" stroke="#555" stroke-width="0.45"/>
<line x1="477.01" y1="651.00" x2="477.01" y2="650.40" stroke="#555" stroke-width="0.45"/>
<line x1="480.46" y1="651.00" x2="480.46" y2="650.40" stroke="#555" stroke-width="0.45"/>
<line x1="483.90" y1="651.00" x2="483.90" y2="650.00" stroke="#555" stroke-width="0.45"/>
<line x1="487.34" y1="651.00" x2="487.34" y2="650.40" stroke="#555" stroke-width="0.45"/>
<line x1="490.79" y1="651.00" x2="490.79" y2="650.40" stroke="#555" stroke-width="0.45"/>
<line x1="494.23" y1="651.00" x2="494.23" y2="650.00" stroke="#555" stroke-width="0.45"/>
<line x1="497.68" y1="651.00" x2="497.68" y2="650.40" stroke="#555" stroke-width="0.45"/>
<line x1="501.12" y1="651.00" x2="501.12" y2="650.40" stroke="#555" stroke-width="0.45"/>
<line x1="504.57" y1="651.00" x2="504.57" y2="650.00" stroke="#555" stroke-width="0.45"/>
<line x1="508.01" y1="651.00" x2="508.01" y2="650.40" stroke="#555" stroke-width="0.45"/>
<line x1="511.46" y1="651.00" x2="511.46" y2="650.40" stroke="#555" stroke-width="0.45"/>
<line x1="514.90" y1="651.00" x2="514.90" y2="650.00" stroke="#555" stroke-width="0.45"/>
<text x="452.90" y="657.70" font-size="5.8" fill="#231f20" font-weight="normal" text-anchor="middle">0</text>
<text x="463.23" y="657.70" font-size="5.8" fill="#231f20" font-weight="normal" text-anchor="middle">3</text>
<text x="473.57" y="657.70" font-size="5.8" fill="#231f20" font-weight="normal" text-anchor="middle">6</text>
<text x="483.90" y="657.70" font-size="5.8" fill="#231f20" font-weight="normal" text-anchor="middle">9</text>
<text x="494.23" y="657.70" font-size="5.8" fill="#231f20" font-weight="normal" text-anchor="middle" textLength="5.40" lengthAdjust="spacingAndGlyphs">12</text>
<text x="504.57" y="657.70" font-size="5.8" fill="#231f20" font-weight="normal" text-anchor="middle" textLength="5.40" lengthAdjust="spacingAndGlyphs">15</text>
<text x="514.90" y="657.70" font-size="5.8" fill="#231f20" font-weight="normal" text-anchor="middle" textLength="5.40" lengthAdjust="spacingAndGlyphs">18</text>
<text x="437.00" y="604.50" font-size="5.9" fill="#231f20" font-weight="normal" text-anchor="middle" transform="rotate(-90 436.99999999999994 604.5)" textLength="37.7" lengthAdjust="spacingAndGlyphs">Phagocytic score</text>
<line x1="476.00" y1="642.20" x2="483.70" y2="642.20" stroke="#e9772c" stroke-width="1.6"/>
<line x1="476.00" y1="647.30" x2="483.70" y2="647.30" stroke="#2f4b8e" stroke-width="1.6"/>
<text x="487.10" y="644.40" font-size="5.3" fill="#231f20" font-weight="normal" text-anchor="start" textLength="23.7" lengthAdjust="spacingAndGlyphs">Prime-only</text>
<text x="487.10" y="649.60" font-size="5.3" fill="#231f20" font-weight="normal" text-anchor="start" textLength="27.2" lengthAdjust="spacingAndGlyphs">Prime-boost</text>
<line x1="557.30" y1="558.00" x2="557.30" y2="651.00" stroke="#8a8a8a" stroke-width="0.8"/>
<line x1="555.90" y1="651.00" x2="557.30" y2="651.00" stroke="#231f20" stroke-width="0.5"/>
<text x="555.30" y="653.20" font-size="6.2" fill="#231f20" font-weight="normal" text-anchor="end">0</text>
<line x1="555.90" y1="632.40" x2="557.30" y2="632.40" stroke="#231f20" stroke-width="0.5"/>
<text x="555.30" y="634.60" font-size="6.2" fill="#231f20" font-weight="normal" text-anchor="end" textLength="11.80" lengthAdjust="spacingAndGlyphs">2000</text>
<line x1="555.90" y1="613.80" x2="557.30" y2="613.80" stroke="#231f20" stroke-width="0.5"/>
<text x="555.30" y="616.00" font-size="6.2" fill="#231f20" font-weight="normal" text-anchor="end" textLength="11.80" lengthAdjust="spacingAndGlyphs">4000</text>
<line x1="555.90" y1="595.20" x2="557.30" y2="595.20" stroke="#231f20" stroke-width="0.5"/>
<text x="555.30" y="597.40" font-size="6.2" fill="#231f20" font-weight="normal" text-anchor="end" textLength="11.80" lengthAdjust="spacingAndGlyphs">6000</text>
<line x1="555.90" y1="576.60" x2="557.30" y2="576.60" stroke="#231f20" stroke-width="0.5"/>
<text x="555.30" y="578.80" font-size="6.2" fill="#231f20" font-weight="normal" text-anchor="end" textLength="11.80" lengthAdjust="spacingAndGlyphs">8000</text>
<line x1="555.90" y1="558.00" x2="557.30" y2="558.00" stroke="#231f20" stroke-width="0.5"/>
<text x="555.30" y="560.20" font-size="6.2" fill="#231f20" font-weight="normal" text-anchor="end" textLength="14.75" lengthAdjust="spacingAndGlyphs">10000</text>
<line x1="557.30" y1="651.00" x2="619.30" y2="651.00" stroke="#333" stroke-width="0.7"/>
<line x1="557.30" y1="651.00" x2="557.30" y2="650.00" stroke="#555" stroke-width="0.45"/>
<line x1="560.74" y1="651.00" x2="560.74" y2="650.40" stroke="#555" stroke-width="0.45"/>
<line x1="564.19" y1="651.00" x2="564.19" y2="650.40" stroke="#555" stroke-width="0.45"/>
<line x1="567.63" y1="651.00" x2="567.63" y2="650.00" stroke="#555" stroke-width="0.45"/>
<line x1="571.08" y1="651.00" x2="571.08" y2="650.40" stroke="#555" stroke-width="0.45"/>
<line x1="574.52" y1="651.00" x2="574.52" y2="650.40" stroke="#555" stroke-width="0.45"/>
<line x1="577.97" y1="651.00" x2="577.97" y2="650.00" stroke="#555" stroke-width="0.45"/>
<line x1="581.41" y1="651.00" x2="581.41" y2="650.40" stroke="#555" stroke-width="0.45"/>
<line x1="584.86" y1="651.00" x2="584.86" y2="650.40" stroke="#555" stroke-width="0.45"/>
<line x1="588.30" y1="651.00" x2="588.30" y2="650.00" stroke="#555" stroke-width="0.45"/>
<line x1="591.74" y1="651.00" x2="591.74" y2="650.40" stroke="#555" stroke-width="0.45"/>
<line x1="595.19" y1="651.00" x2="595.19" y2="650.40" stroke="#555" stroke-width="0.45"/>
<line x1="598.63" y1="651.00" x2="598.63" y2="650.00" stroke="#555" stroke-width="0.45"/>
<line x1="602.08" y1="651.00" x2="602.08" y2="650.40" stroke="#555" stroke-width="0.45"/>
<line x1="605.52" y1="651.00" x2="605.52" y2="650.40" stroke="#555" stroke-width="0.45"/>
<line x1="608.97" y1="651.00" x2="608.97" y2="650.00" stroke="#555" stroke-width="0.45"/>
<line x1="612.41" y1="651.00" x2="612.41" y2="650.40" stroke="#555" stroke-width="0.45"/>
<line x1="615.86" y1="651.00" x2="615.86" y2="650.40" stroke="#555" stroke-width="0.45"/>
<line x1="619.30" y1="651.00" x2="619.30" y2="650.00" stroke="#555" stroke-width="0.45"/>
<text x="557.30" y="657.70" font-size="5.8" fill="#231f20" font-weight="normal" text-anchor="middle">0</text>
<text x="567.63" y="657.70" font-size="5.8" fill="#231f20" font-weight="normal" text-anchor="middle">3</text>
<text x="577.97" y="657.70" font-size="5.8" fill="#231f20" font-weight="normal" text-anchor="middle">6</text>
<text x="588.30" y="657.70" font-size="5.8" fill="#231f20" font-weight="normal" text-anchor="middle">9</text>
<text x="598.63" y="657.70" font-size="5.8" fill="#231f20" font-weight="normal" text-anchor="middle" textLength="5.40" lengthAdjust="spacingAndGlyphs">12</text>
<text x="608.97" y="657.70" font-size="5.8" fill="#231f20" font-weight="normal" text-anchor="middle" textLength="5.40" lengthAdjust="spacingAndGlyphs">15</text>
<text x="619.30" y="657.70" font-size="5.8" fill="#231f20" font-weight="normal" text-anchor="middle" textLength="5.40" lengthAdjust="spacingAndGlyphs">18</text>
<text x="538.40" y="604.50" font-size="5.9" fill="#231f20" font-weight="normal" text-anchor="middle" transform="rotate(-90 538.4 604.5)" textLength="8.5" lengthAdjust="spacingAndGlyphs">MFI</text>
<line x1="580.40" y1="642.20" x2="588.10" y2="642.20" stroke="#e9772c" stroke-width="1.6"/>
<line x1="580.40" y1="647.30" x2="588.10" y2="647.30" stroke="#2f4b8e" stroke-width="1.6"/>
<text x="591.50" y="644.40" font-size="5.3" fill="#231f20" font-weight="normal" text-anchor="start" textLength="23.7" lengthAdjust="spacingAndGlyphs">Prime-only</text>
<text x="591.50" y="649.60" font-size="5.3" fill="#231f20" font-weight="normal" text-anchor="start" textLength="27.2" lengthAdjust="spacingAndGlyphs">Prime-boost</text>
<polyline points="51.21,627.18 52.89,579.36 53.56,592.79 54.90,586.07 57.25,602.85 60.77,599.50 63.96,598.66 67.82,608.72 71.17,605.37 81.74,615.10 92.15,618.46 112.28,613.76" fill="none" stroke="#e9772c" stroke-width="1.4" stroke-linejoin="round" stroke-linecap="round"/>
<polyline points="51.04,583.56 52.89,570.13 54.40,581.88 57.25,587.75 60.77,576.85 63.96,591.11 67.82,603.69 71.17,603.69 81.74,608.72 92.15,618.79" fill="none" stroke="#2f4b8e" stroke-width="1.4" stroke-linejoin="round" stroke-linecap="round"/>
<polyline points="149.36,633.89 151.04,566.78 151.88,568.46 153.56,567.62 155.57,587.75 161.95,605.37 165.30,602.01 168.99,606.71 179.56,604.53 189.63,601.17 210.60,615.44" fill="none" stroke="#e9772c" stroke-width="1.4" stroke-linejoin="round" stroke-linecap="round"/>
<polyline points="148.86,565.10 150.20,568.79 151.54,566.44 153.22,567.11 155.57,573.49 158.93,570.97 161.95,572.65 168.99,575.17 179.56,580.20 189.63,608.39" fill="none" stroke="#2f4b8e" stroke-width="1.4" stroke-linejoin="round" stroke-linecap="round"/>
<polyline points="250.54,622.48 252.72,576.85 254.40,574.83 255.57,574.33 256.58,582.21 260.27,581.54 263.96,580.54 270.34,597.82 281.24,596.64 291.31,619.13 312.28,606.21" fill="none" stroke="#e9772c" stroke-width="1.4" stroke-linejoin="round" stroke-linecap="round"/>
<polyline points="249.87,563.42 251.88,565.44 253.56,567.62 255.23,566.78 256.58,572.15 260.27,564.77 263.96,566.78 267.32,570.97 280.74,586.07 291.81,586.07" fill="none" stroke="#2f4b8e" stroke-width="1.4" stroke-linejoin="round" stroke-linecap="round"/>
<polyline points="352.72,636.41 355.57,632.21 357.75,634.73 364.46,614.60 366.14,607.05 367.82,585.23 371.17,606.21 382.08,580.20 413.12,640.60" fill="none" stroke="#e9772c" stroke-width="1.4" stroke-linejoin="round" stroke-linecap="round"/>
<polyline points="351.04,602.01 353.05,594.97 354.40,602.35 357.25,603.69 360.27,593.96 363.62,596.14 367.82,604.53 371.17,593.62 382.08,572.15 392.48,579.36" fill="none" stroke="#2f4b8e" stroke-width="1.4" stroke-linejoin="round" stroke-linecap="round"/>
<polyline points="453.22,648.15 455.57,591.95 456.58,606.21 458.26,586.07 459.93,610.40 463.29,615.44 466.64,623.83 473.69,631.88 483.76,629.70 493.83,630.20 515.64,641.95" fill="none" stroke="#e9772c" stroke-width="1.4" stroke-linejoin="round" stroke-linecap="round"/>
<polyline points="453.22,617.95 455.23,575.17 456.07,582.72 459.93,570.13 463.29,591.61 466.64,577.68 470.34,582.72 473.36,620.81 483.76,615.10 494.66,626.34" fill="none" stroke="#2f4b8e" stroke-width="1.4" stroke-linejoin="round" stroke-linecap="round"/>
<polyline points="557.78,605.81 560.73,571.66 562.46,569.93 563.67,586.40 567.66,585.53 571.13,593.33 574.59,597.14 578.06,590.73 588.46,599.39 598.86,608.06 620.17,612.74" fill="none" stroke="#e9772c" stroke-width="1.4" stroke-linejoin="round" stroke-linecap="round"/>
<polyline points="557.78,571.66 560.73,579.46 562.98,566.46 567.14,565.94 571.13,567.68 578.06,560.75 588.46,587.26 598.86,602.34" fill="none" stroke="#2f4b8e" stroke-width="1.4" stroke-linejoin="round" stroke-linecap="round"/>
<line x1="23.00" y1="299.80" x2="23.00" y2="395.50" stroke="#a0a0a0" stroke-width="0.9"/>
<line x1="23.00" y1="425.90" x2="23.00" y2="522.30" stroke="#a0a0a0" stroke-width="0.9"/>
<line x1="23.00" y1="556.70" x2="23.00" y2="653.20" stroke="#a0a0a0" stroke-width="0.9"/>
<text x="18.50" y="344.60" font-size="10.3" fill="#e8892c" font-weight="bold" text-anchor="middle" transform="rotate(-90 18.5 344.6)">Prime-only</text>
<text x="18.90" y="473.50" font-size="10.3" fill="#3db59c" font-weight="bold" text-anchor="middle" transform="rotate(-90 18.9 473.5)">Prime-boost</text>
<text x="19.00" y="604.10" font-size="10.15" fill="#231f20" font-weight="bold" text-anchor="middle" transform="rotate(-90 19.0 604.1)">Combined means</text>
<line x1="49.40" y1="669.70" x2="629.00" y2="669.70" stroke="#d6d6d6" stroke-width="1.5"/>
<text x="278.10" y="682.00" font-size="10.67" fill="#231f20" font-weight="normal" text-anchor="start">Time post challenge, months</text></svg>
</body></html>
